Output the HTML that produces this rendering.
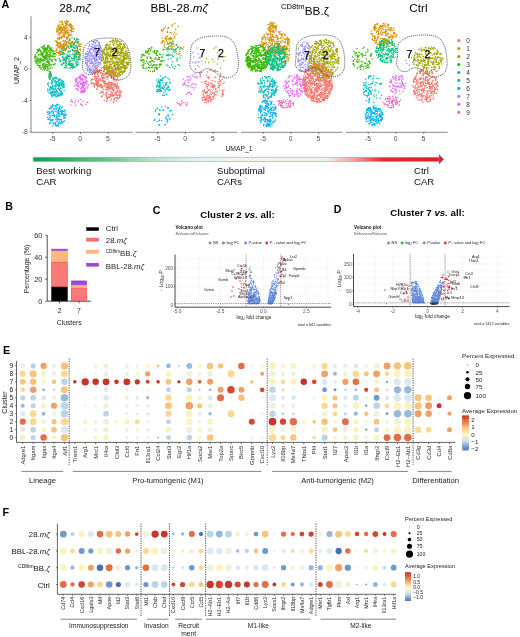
<!DOCTYPE html>
<html><head><meta charset="utf-8"><style>
html,body{margin:0;padding:0;background:#fff;}
svg{display:block;font-family:"Liberation Sans", sans-serif;filter:blur(0.25px);}
</style></head><body>
<svg width="520" height="637" viewBox="0 0 520 637" font-family='"Liberation Sans", sans-serif'>
<rect width="520" height="637" fill="#fff"/>
<text x="1.60" y="7.70" font-size="10.8" text-anchor="start" font-weight="bold" font-style="normal" fill="#000" >A</text>
<text x="59.3" y="12.2" font-size="11.7" fill="#000">28.<tspan font-style="italic">mζ</tspan></text>
<text x="150.5" y="12.2" font-size="11.7" fill="#000">BBL-28.<tspan font-style="italic">mζ</tspan></text>
<text x="281" y="14.8" font-size="11.8" fill="#000"><tspan font-size="7.6" dy="-5.5">CD8tm</tspan><tspan dy="5.5">BB.ζ</tspan></text>
<text x="409.3" y="12.2" font-size="11.7" fill="#000">Ctrl</text>
<line x1="31.00" y1="16.30" x2="31.00" y2="132.30" stroke="#333333" stroke-width="0.6"/>
<line x1="29.50" y1="37.50" x2="31.00" y2="37.50" stroke="#333333" stroke-width="0.6"/>
<text x="27.80" y="39.90" font-size="6.8" text-anchor="end" font-weight="normal" font-style="normal" fill="#4d4d4d" >4</text>
<line x1="29.50" y1="69.00" x2="31.00" y2="69.00" stroke="#333333" stroke-width="0.6"/>
<text x="27.80" y="71.40" font-size="6.8" text-anchor="end" font-weight="normal" font-style="normal" fill="#4d4d4d" >0</text>
<line x1="29.50" y1="100.50" x2="31.00" y2="100.50" stroke="#333333" stroke-width="0.6"/>
<text x="27.80" y="102.90" font-size="6.8" text-anchor="end" font-weight="normal" font-style="normal" fill="#4d4d4d" >-4</text>
<line x1="29.50" y1="132.00" x2="31.00" y2="132.00" stroke="#333333" stroke-width="0.6"/>
<text x="27.80" y="134.40" font-size="6.8" text-anchor="end" font-weight="normal" font-style="normal" fill="#4d4d4d" >-8</text>
<text x="0" y="0" font-size="6.8" fill="#222" text-anchor="middle" transform="translate(19.2,70.5) rotate(-90)">UMAP_2</text>
<line x1="31.00" y1="132.30" x2="132.50" y2="132.30" stroke="#333333" stroke-width="0.6"/>
<line x1="52.75" y1="132.30" x2="52.75" y2="134.00" stroke="#333333" stroke-width="0.6"/>
<text x="52.45" y="141.40" font-size="6.8" text-anchor="middle" font-weight="normal" font-style="normal" fill="#4d4d4d" >-5</text>
<line x1="80.50" y1="132.30" x2="80.50" y2="134.00" stroke="#333333" stroke-width="0.6"/>
<text x="80.20" y="141.40" font-size="6.8" text-anchor="middle" font-weight="normal" font-style="normal" fill="#4d4d4d" >0</text>
<line x1="108.25" y1="132.30" x2="108.25" y2="134.00" stroke="#333333" stroke-width="0.6"/>
<text x="107.95" y="141.40" font-size="6.8" text-anchor="middle" font-weight="normal" font-style="normal" fill="#4d4d4d" >5</text>
<line x1="135.50" y1="132.30" x2="237.50" y2="132.30" stroke="#333333" stroke-width="0.6"/>
<line x1="157.75" y1="132.30" x2="157.75" y2="134.00" stroke="#333333" stroke-width="0.6"/>
<text x="157.45" y="141.40" font-size="6.8" text-anchor="middle" font-weight="normal" font-style="normal" fill="#4d4d4d" >-5</text>
<line x1="185.50" y1="132.30" x2="185.50" y2="134.00" stroke="#333333" stroke-width="0.6"/>
<text x="185.20" y="141.40" font-size="6.8" text-anchor="middle" font-weight="normal" font-style="normal" fill="#4d4d4d" >0</text>
<line x1="213.25" y1="132.30" x2="213.25" y2="134.00" stroke="#333333" stroke-width="0.6"/>
<text x="212.95" y="141.40" font-size="6.8" text-anchor="middle" font-weight="normal" font-style="normal" fill="#4d4d4d" >5</text>
<line x1="241.00" y1="132.30" x2="342.50" y2="132.30" stroke="#333333" stroke-width="0.6"/>
<line x1="263.25" y1="132.30" x2="263.25" y2="134.00" stroke="#333333" stroke-width="0.6"/>
<text x="262.95" y="141.40" font-size="6.8" text-anchor="middle" font-weight="normal" font-style="normal" fill="#4d4d4d" >-5</text>
<line x1="291.00" y1="132.30" x2="291.00" y2="134.00" stroke="#333333" stroke-width="0.6"/>
<text x="290.70" y="141.40" font-size="6.8" text-anchor="middle" font-weight="normal" font-style="normal" fill="#4d4d4d" >0</text>
<line x1="318.75" y1="132.30" x2="318.75" y2="134.00" stroke="#333333" stroke-width="0.6"/>
<text x="318.45" y="141.40" font-size="6.8" text-anchor="middle" font-weight="normal" font-style="normal" fill="#4d4d4d" >5</text>
<line x1="346.00" y1="132.30" x2="447.70" y2="132.30" stroke="#333333" stroke-width="0.6"/>
<line x1="368.25" y1="132.30" x2="368.25" y2="134.00" stroke="#333333" stroke-width="0.6"/>
<text x="367.95" y="141.40" font-size="6.8" text-anchor="middle" font-weight="normal" font-style="normal" fill="#4d4d4d" >-5</text>
<line x1="396.00" y1="132.30" x2="396.00" y2="134.00" stroke="#333333" stroke-width="0.6"/>
<text x="395.70" y="141.40" font-size="6.8" text-anchor="middle" font-weight="normal" font-style="normal" fill="#4d4d4d" >0</text>
<line x1="423.75" y1="132.30" x2="423.75" y2="134.00" stroke="#333333" stroke-width="0.6"/>
<text x="423.45" y="141.40" font-size="6.8" text-anchor="middle" font-weight="normal" font-style="normal" fill="#4d4d4d" >5</text>
<text x="239.00" y="150.70" font-size="6.8" text-anchor="middle" font-weight="normal" font-style="normal" fill="#222" >UMAP_1</text>
<circle cx="458.8" cy="40.60" r="1.6" fill="#F8766D"/>
<text x="466.30" y="42.80" font-size="6.5" text-anchor="start" font-weight="normal" font-style="normal" fill="#333" >0</text>
<circle cx="458.8" cy="48.57" r="1.6" fill="#D89000"/>
<text x="466.30" y="50.77" font-size="6.5" text-anchor="start" font-weight="normal" font-style="normal" fill="#333" >1</text>
<circle cx="458.8" cy="56.54" r="1.6" fill="#A3A500"/>
<text x="466.30" y="58.74" font-size="6.5" text-anchor="start" font-weight="normal" font-style="normal" fill="#333" >2</text>
<circle cx="458.8" cy="64.51" r="1.6" fill="#39B600"/>
<text x="466.30" y="66.71" font-size="6.5" text-anchor="start" font-weight="normal" font-style="normal" fill="#333" >3</text>
<circle cx="458.8" cy="72.48" r="1.6" fill="#00BF7D"/>
<text x="466.30" y="74.68" font-size="6.5" text-anchor="start" font-weight="normal" font-style="normal" fill="#333" >4</text>
<circle cx="458.8" cy="80.45" r="1.6" fill="#00BFC4"/>
<text x="466.30" y="82.65" font-size="6.5" text-anchor="start" font-weight="normal" font-style="normal" fill="#333" >5</text>
<circle cx="458.8" cy="88.42" r="1.6" fill="#00B0F6"/>
<text x="466.30" y="90.62" font-size="6.5" text-anchor="start" font-weight="normal" font-style="normal" fill="#333" >6</text>
<circle cx="458.8" cy="96.39" r="1.6" fill="#9590FF"/>
<text x="466.30" y="98.59" font-size="6.5" text-anchor="start" font-weight="normal" font-style="normal" fill="#333" >7</text>
<circle cx="458.8" cy="104.36" r="1.6" fill="#E76BF3"/>
<text x="466.30" y="106.56" font-size="6.5" text-anchor="start" font-weight="normal" font-style="normal" fill="#333" >8</text>
<circle cx="458.8" cy="112.33" r="1.6" fill="#FF62BC"/>
<text x="466.30" y="114.53" font-size="6.5" text-anchor="start" font-weight="normal" font-style="normal" fill="#333" >9</text>
<path d="M93.1 72.0h0M111.4 72.6h0M112.8 70.4h0M115.6 93.1h0M102.2 87.6h0M95.4 82.9h0M117.4 98.5h0M105.7 85.9h0M111.6 77.2h0M98.4 82.7h0M94.0 79.6h0M116.8 84.9h0M102.4 86.0h0M97.1 83.7h0M119.9 95.7h0M107.0 76.4h0M117.4 90.5h0M112.4 71.4h0M97.8 84.6h0M109.8 82.5h0M109.4 97.3h0M102.8 78.4h0M102.7 75.6h0M98.1 82.2h0M103.2 92.3h0M95.0 73.1h0M106.4 95.6h0M107.8 73.1h0M111.3 78.3h0M98.8 71.4h0M96.1 76.8h0M97.2 70.5h0M116.2 85.4h0M109.0 94.8h0M114.4 99.2h0M117.4 95.7h0M97.4 72.2h0M120.2 93.3h0M107.8 76.6h0M95.2 76.7h0M99.2 85.9h0M108.3 76.4h0M101.8 67.2h0M118.3 88.6h0M111.8 72.0h0M94.3 85.0h0M112.5 92.7h0M102.5 80.3h0M112.9 90.3h0M115.3 86.4h0M117.5 82.9h0M103.9 94.7h0M98.0 70.6h0M96.8 83.2h0M94.1 70.9h0M113.4 94.9h0M99.1 79.7h0M101.1 87.6h0M119.4 97.4h0M111.7 82.2h0M118.3 98.7h0M116.3 92.7h0M110.9 95.5h0M115.9 76.1h0M97.0 81.3h0M113.1 96.2h0M108.2 86.3h0M94.6 86.9h0M94.2 73.2h0M92.1 83.1h0M106.9 101.7h0M92.0 79.3h0M116.6 87.9h0M112.4 73.6h0M110.8 74.8h0M111.4 92.7h0M105.5 74.1h0M110.8 76.1h0M97.0 83.3h0M111.7 69.7h0M98.1 76.4h0M110.5 87.2h0M97.6 71.5h0M112.1 92.5h0M110.6 101.1h0M102.4 95.9h0M106.0 74.0h0M96.2 84.1h0M96.4 79.1h0M100.1 72.5h0M117.6 78.1h0M103.9 78.5h0M105.2 77.8h0M106.4 74.6h0M108.9 88.1h0M110.7 70.5h0M111.2 75.8h0M113.3 74.0h0M95.0 71.7h0M91.2 80.8h0M104.3 83.4h0M98.8 77.9h0M102.6 81.5h0M100.5 80.3h0M107.9 84.6h0M98.2 81.3h0M96.7 78.2h0M113.8 77.7h0M115.6 83.7h0M102.2 86.8h0M106.9 79.3h0" stroke="#F8766D" stroke-width="1.5" stroke-linecap="round" fill="none"/>
<path d="M61.3 38.6h0M58.7 53.8h0M72.0 43.7h0M57.0 51.1h0M69.7 39.7h0M59.5 37.9h0M67.1 37.5h0M59.8 22.2h0M62.5 21.8h0M66.4 42.3h0M62.9 36.6h0M73.8 45.0h0M68.9 32.6h0M67.4 38.7h0M58.0 34.1h0M65.3 23.5h0M69.1 25.0h0M65.5 31.9h0M61.8 38.0h0M76.7 51.1h0M70.3 40.7h0M61.9 32.2h0M60.0 54.9h0M66.6 24.3h0M72.7 41.7h0M70.3 23.2h0M61.2 37.6h0M80.3 49.1h0M59.1 45.2h0M68.8 47.4h0M80.1 55.2h0M61.7 36.3h0M62.9 47.5h0M63.1 31.0h0M67.4 34.1h0M59.2 35.2h0M62.2 21.5h0M72.0 31.3h0M56.3 41.1h0M64.6 44.5h0M60.9 51.4h0M66.5 46.0h0M70.4 34.9h0M64.1 27.5h0M65.4 32.5h0M70.8 25.1h0M57.3 44.1h0M63.2 36.1h0M69.2 40.6h0M56.2 45.6h0M68.9 25.2h0M67.9 37.4h0M64.5 48.1h0M62.4 32.5h0M60.8 38.0h0M62.6 29.8h0M61.5 29.2h0M69.3 35.6h0M60.9 31.3h0M65.6 41.1h0M65.7 41.4h0M57.6 47.4h0M59.7 42.9h0M55.0 41.0h0M62.1 52.6h0M61.8 51.2h0M62.8 28.9h0M67.4 38.8h0M60.0 26.9h0M63.9 49.0h0M70.0 30.6h0M56.8 48.9h0M71.7 26.8h0M61.8 21.3h0M64.5 37.2h0M65.6 41.6h0M66.4 22.8h0M63.9 45.7h0M57.8 26.5h0M71.8 42.4h0M77.3 53.0h0M58.0 43.4h0M63.9 41.1h0" stroke="#D89000" stroke-width="1.5" stroke-linecap="round" fill="none"/>
<path d="M119.2 61.9h0M113.6 56.8h0M124.9 53.5h0M117.3 68.5h0M115.4 72.3h0M110.6 48.2h0M106.0 45.3h0M123.2 54.7h0M105.7 54.3h0M113.3 53.8h0M117.5 41.0h0M106.2 54.1h0M110.2 67.9h0M121.2 51.6h0M119.7 69.0h0M102.5 60.7h0M125.7 52.5h0M119.7 68.5h0M128.1 63.3h0M116.5 42.5h0M121.1 68.0h0M104.7 65.4h0M125.9 67.4h0M114.0 40.8h0M103.5 57.6h0M105.5 58.1h0M112.6 49.1h0M110.6 55.7h0M108.9 70.7h0M103.9 49.4h0M115.5 47.6h0M118.9 70.2h0M122.6 66.8h0M102.8 51.3h0M109.8 55.8h0M124.6 70.5h0M103.4 51.7h0M106.8 51.1h0M121.7 51.1h0M123.5 65.2h0M124.8 65.5h0M112.2 73.9h0M117.1 47.3h0M110.5 52.7h0M117.9 65.1h0M102.2 55.2h0M110.9 68.3h0M113.2 51.5h0M105.0 54.8h0M118.7 66.8h0M109.6 66.5h0M122.2 64.5h0M125.0 57.4h0M120.8 66.9h0M106.0 63.1h0M103.4 58.9h0M108.1 47.2h0M110.2 72.6h0M111.6 49.9h0M123.8 55.5h0M109.8 46.7h0M112.1 73.1h0M106.7 65.0h0M120.6 53.0h0M116.7 69.0h0M107.9 62.7h0M116.2 47.4h0M113.6 50.5h0M118.0 55.7h0M111.9 67.3h0M114.4 62.5h0M117.3 49.6h0M108.6 55.7h0M120.1 71.8h0M121.8 63.9h0M117.3 75.8h0M126.8 68.6h0M117.6 63.7h0M122.4 48.9h0M126.9 53.3h0M120.8 67.7h0M122.0 71.5h0M124.2 68.8h0M119.6 55.1h0M119.6 65.5h0M111.1 66.9h0M105.1 62.8h0M127.3 53.4h0M124.9 70.9h0M120.0 65.7h0M112.0 42.0h0M104.8 54.5h0M121.9 56.7h0M121.6 49.0h0M125.0 59.6h0M116.9 44.4h0M117.1 53.7h0M120.8 62.8h0M113.7 74.4h0M120.1 64.1h0M118.9 45.2h0M123.9 59.3h0M117.6 41.4h0M114.9 76.1h0M106.6 56.2h0M115.8 69.8h0M123.5 71.2h0M117.3 61.7h0M124.9 71.7h0M116.8 47.3h0M111.1 50.7h0M124.7 45.3h0M107.2 44.1h0M123.5 59.9h0M118.1 45.8h0M117.1 60.9h0M119.3 44.6h0M115.9 69.3h0M108.7 49.9h0M124.3 58.3h0M124.2 46.4h0M115.4 67.5h0M118.5 53.7h0M106.2 68.4h0M116.0 70.1h0M113.4 76.3h0M108.6 54.0h0M118.2 41.5h0M115.2 74.1h0M104.9 62.9h0M129.1 62.5h0M112.9 41.1h0M108.7 70.9h0M120.8 44.7h0M108.2 74.0h0" stroke="#A3A500" stroke-width="1.5" stroke-linecap="round" fill="none"/>
<path d="M50.0 54.5h0M46.0 54.9h0M47.6 46.1h0M50.2 79.0h0M49.6 61.8h0M53.6 53.8h0M47.9 53.7h0M41.9 53.8h0M53.8 53.5h0M43.8 52.6h0M38.0 49.9h0M55.4 53.7h0M43.2 56.7h0M44.1 45.3h0M44.6 68.9h0M43.4 57.3h0M43.7 50.7h0M39.4 49.9h0M54.1 64.5h0M46.6 57.6h0M51.6 60.7h0M52.0 48.1h0M45.4 59.9h0M47.9 67.6h0M45.5 68.5h0M48.3 65.8h0M42.9 60.8h0M44.7 60.8h0M39.7 66.0h0M35.0 55.9h0M40.2 61.4h0M42.5 64.8h0M43.1 54.7h0M55.0 56.4h0M44.8 58.0h0M48.7 63.2h0M35.6 56.4h0M47.8 47.8h0M50.3 75.2h0M45.1 48.5h0M42.2 55.0h0M49.6 63.9h0M50.8 50.8h0M50.7 49.0h0M43.8 48.6h0M37.0 60.4h0M46.7 55.3h0M43.4 66.6h0M49.2 64.3h0M43.3 54.9h0M44.1 56.6h0M47.8 64.9h0M41.0 54.9h0M47.8 46.5h0" stroke="#39B600" stroke-width="1.5" stroke-linecap="round" fill="none"/>
<path d="M65.5 65.3h0M70.4 43.9h0M77.1 50.8h0M78.0 57.6h0M72.2 66.8h0M76.9 62.2h0M68.0 64.5h0M79.7 59.1h0M74.6 58.2h0M66.8 67.6h0M63.6 58.6h0M78.9 56.8h0M61.4 64.5h0M74.4 43.0h0M63.3 50.7h0M74.3 56.4h0M61.4 54.1h0M59.3 58.7h0M66.3 61.0h0M64.9 59.9h0M63.0 63.8h0M76.8 46.3h0M70.4 65.5h0M68.5 63.7h0M73.9 47.4h0M60.7 60.3h0M63.9 48.1h0M72.4 68.4h0M78.1 43.5h0M76.5 65.8h0M74.9 48.5h0M69.0 68.5h0M69.5 64.5h0M76.9 54.7h0M71.4 57.9h0M62.3 57.3h0M65.9 58.8h0M73.4 63.9h0M74.7 51.9h0M73.8 44.7h0M68.6 63.9h0M62.9 54.7h0M74.5 59.4h0M70.2 56.5h0M80.1 55.2h0M79.2 54.8h0M66.1 57.0h0M74.0 57.1h0M73.6 67.0h0M73.9 55.0h0M77.1 61.7h0M72.9 60.8h0M71.7 58.8h0M66.5 45.7h0M61.9 49.2h0M71.5 45.7h0M67.6 56.3h0M69.2 64.8h0M77.2 65.2h0M73.4 58.4h0" stroke="#00BF7D" stroke-width="1.5" stroke-linecap="round" fill="none"/>
<path d="M59.6 84.7h0M51.9 96.2h0M61.3 95.5h0M56.1 93.3h0M59.6 90.3h0M62.2 92.9h0M59.5 83.2h0M51.6 74.9h0M60.3 91.3h0M61.9 86.1h0M60.8 84.5h0M52.9 87.1h0M52.5 84.9h0M52.0 82.0h0M57.3 95.6h0M47.7 83.4h0M61.4 80.7h0M48.5 85.7h0M52.9 81.0h0M56.9 90.1h0M52.4 95.9h0M61.6 92.3h0M47.9 84.2h0M50.5 72.4h0M51.0 94.5h0M58.2 88.4h0M50.7 93.0h0M61.9 84.3h0M56.2 78.5h0M50.9 87.1h0M58.7 88.7h0M55.9 83.0h0M49.6 88.0h0M55.8 92.3h0M49.9 76.6h0M58.4 79.6h0M51.7 91.9h0M63.0 81.8h0M52.9 91.3h0M48.6 76.1h0M60.2 82.8h0M56.5 91.3h0M61.9 84.9h0M63.2 87.2h0M54.7 91.7h0M53.9 89.2h0M54.2 93.8h0" stroke="#00BFC4" stroke-width="1.5" stroke-linecap="round" fill="none"/>
<path d="M48.1 111.4h0M47.4 112.6h0M58.9 104.9h0M59.0 113.9h0M60.7 109.6h0M55.1 111.2h0M55.8 119.5h0M58.8 119.5h0M50.6 107.0h0M58.1 119.4h0M64.1 113.7h0M57.0 105.2h0M52.9 104.9h0M61.6 114.3h0M58.1 126.3h0M58.9 109.5h0M64.5 115.6h0M50.6 120.3h0M56.8 111.1h0M49.2 113.0h0M58.5 111.3h0M49.5 123.0h0M51.7 120.3h0M55.0 111.3h0M59.4 108.5h0M56.0 108.7h0M52.4 115.5h0M62.4 106.9h0M55.5 123.4h0M58.1 108.1h0M61.3 120.9h0M54.4 108.9h0M59.3 121.2h0M56.7 114.8h0M63.8 114.2h0M62.7 122.6h0M59.8 116.1h0M61.4 111.9h0" stroke="#00B0F6" stroke-width="1.5" stroke-linecap="round" fill="none"/>
<path d="M85.5 57.2h0M95.2 59.8h0M98.7 57.1h0M89.2 61.1h0M95.8 61.7h0M92.4 66.4h0M89.1 66.1h0M99.2 56.5h0M89.6 55.8h0M93.6 65.3h0M87.4 54.3h0M100.2 63.7h0M95.9 70.0h0M89.6 50.7h0M99.1 65.2h0M97.2 40.8h0M100.6 47.7h0M85.1 57.2h0M87.1 56.3h0M92.6 41.8h0M97.1 59.4h0M95.4 54.2h0M92.2 52.7h0M90.6 68.1h0M89.8 71.6h0M93.3 70.6h0M95.8 67.4h0M89.4 50.1h0M87.6 69.1h0M91.3 63.6h0M96.2 60.2h0M101.5 59.8h0M98.7 54.5h0M101.2 57.1h0M91.5 53.4h0M100.7 47.9h0M91.6 70.3h0M90.8 69.5h0M96.5 55.9h0M94.2 47.6h0M97.5 41.3h0M89.4 52.4h0M89.1 52.7h0M92.2 71.8h0M91.1 60.5h0M87.9 53.9h0M97.5 69.3h0M86.4 64.0h0M98.7 50.5h0M87.6 56.1h0M92.1 62.0h0M100.5 50.7h0M100.4 56.7h0M86.2 54.2h0M90.6 48.6h0M99.7 55.1h0M90.0 56.9h0M95.1 55.8h0M94.8 54.1h0M95.2 63.8h0M90.1 50.6h0M97.6 54.3h0M89.8 59.4h0M94.0 41.4h0M90.4 63.8h0M85.2 58.2h0M87.1 62.5h0M86.9 56.5h0M93.5 68.3h0M101.4 54.6h0M86.7 58.6h0M99.4 59.5h0M87.4 51.4h0M93.4 50.0h0M90.9 70.3h0M102.0 51.5h0" stroke="#9590FF" stroke-width="1.5" stroke-linecap="round" fill="none"/>
<path d="M83.0 84.6h0M84.4 86.0h0M79.3 86.9h0M82.3 92.5h0M84.5 88.4h0M82.5 86.8h0M76.5 85.6h0M80.8 76.7h0M82.3 83.2h0M83.0 82.4h0M77.8 89.8h0M77.2 90.0h0M80.9 83.6h0M80.8 83.2h0M80.8 91.5h0M81.3 87.9h0M78.2 83.5h0M84.0 82.7h0M86.3 81.3h0M82.5 85.3h0M84.0 92.2h0M85.7 91.0h0M81.7 84.1h0M85.9 82.0h0M81.6 79.3h0M83.3 90.4h0M75.3 80.1h0M82.8 90.8h0M83.5 91.8h0" stroke="#E76BF3" stroke-width="1.5" stroke-linecap="round" fill="none"/>
<path d="M71.7 99.7h0M72.6 102.0h0M82.6 105.6h0M74.7 102.7h0" stroke="#FF62BC" stroke-width="1.5" stroke-linecap="round" fill="none"/>
<path d="M101.2 85.4h0M104.1 81.9h0M113.3 79.6h0M112.3 94.6h0M95.4 74.1h0M107.7 96.9h0M100.0 71.4h0M97.1 83.6h0M101.6 77.2h0M112.7 94.3h0M109.0 97.0h0M108.9 84.3h0M113.9 79.2h0M119.6 91.8h0M116.2 94.5h0M93.8 83.4h0M105.5 84.4h0M113.6 78.2h0M101.8 92.2h0M117.8 87.0h0M109.2 68.0h0M96.4 82.6h0M107.3 83.5h0M117.4 75.6h0M111.4 98.9h0M106.5 68.8h0M120.6 96.1h0M119.9 90.3h0M108.6 82.7h0M115.2 74.8h0M116.3 100.6h0M103.4 80.7h0M113.3 85.4h0M113.5 90.8h0M108.2 87.6h0M104.5 69.9h0M96.7 79.9h0M105.6 83.8h0M94.3 73.9h0M108.6 71.1h0M96.1 70.3h0M107.2 72.7h0M118.6 87.7h0M115.5 84.1h0M100.3 93.2h0M101.6 76.0h0M104.6 68.0h0M97.6 83.1h0M111.7 83.1h0M114.0 101.5h0M111.2 74.8h0M113.6 69.8h0M113.0 89.6h0M96.3 68.4h0M112.9 72.4h0M105.3 69.0h0M116.0 87.0h0M96.4 81.2h0M102.2 73.2h0M103.2 93.0h0M94.7 70.0h0M110.7 71.8h0M110.7 94.4h0M105.4 89.5h0M109.2 97.2h0M116.4 80.3h0M111.9 69.7h0M103.3 73.3h0M106.2 83.4h0M107.7 92.9h0M112.5 95.5h0M118.9 87.2h0M111.8 84.8h0M114.7 94.6h0M91.1 82.9h0M109.2 73.9h0M109.3 87.1h0M96.4 85.5h0M103.7 67.0h0M111.0 82.4h0M110.5 94.1h0M121.1 91.9h0M117.2 95.6h0M100.4 84.3h0M109.9 72.3h0M113.8 85.1h0M102.6 88.0h0M110.2 86.2h0M96.5 72.7h0M104.3 68.2h0M115.1 84.2h0M97.2 67.4h0M117.6 75.0h0M101.1 86.2h0M116.9 85.4h0M111.4 85.0h0M104.2 85.2h0M120.0 94.5h0M107.1 83.7h0M105.2 69.5h0M108.0 83.2h0M106.7 100.6h0M114.0 89.8h0M113.5 71.6h0M112.4 83.3h0M114.6 72.3h0M111.9 74.4h0M104.3 75.1h0" stroke="#F8766D" stroke-width="1.5" stroke-linecap="round" fill="none"/>
<path d="M70.1 26.3h0M81.1 44.1h0M70.4 24.0h0M66.7 21.1h0M66.9 31.5h0M70.8 26.9h0M65.4 22.6h0M79.9 46.3h0M70.3 29.9h0M60.2 24.9h0M72.8 26.3h0M63.5 53.5h0M66.6 26.1h0M64.5 34.0h0M70.7 25.3h0M63.7 45.3h0M80.2 54.3h0M57.9 25.7h0M68.3 42.0h0M64.5 21.3h0M64.6 46.8h0M63.2 36.5h0M65.9 33.8h0M59.6 32.9h0M78.7 43.3h0M78.6 54.6h0M66.0 28.0h0M65.2 28.5h0M81.0 46.2h0M59.9 43.5h0M58.4 52.6h0M60.1 22.0h0M62.3 24.4h0M57.5 42.9h0M65.5 41.3h0M56.9 31.8h0M63.8 33.1h0M76.6 57.2h0M60.4 46.0h0M57.1 52.3h0M65.1 29.1h0M62.2 46.7h0M70.1 35.8h0M58.8 25.0h0M66.4 37.7h0M59.9 28.4h0M61.2 26.8h0M64.3 41.6h0M56.3 52.3h0M68.6 42.3h0M67.4 45.6h0M71.1 43.4h0M59.8 51.2h0M67.9 21.6h0M60.7 28.6h0M67.2 22.5h0M58.3 32.1h0M66.4 42.8h0M63.8 27.0h0M61.3 46.9h0M71.1 31.4h0M61.8 45.0h0M59.8 30.3h0M62.3 28.0h0M71.5 30.1h0M64.6 50.6h0M78.1 45.3h0M59.8 49.1h0M58.5 46.7h0M61.0 27.1h0M76.0 53.7h0M65.6 32.9h0M66.7 43.7h0M66.2 22.9h0M60.6 47.0h0M63.4 25.0h0M61.7 27.2h0M57.4 41.9h0M66.9 47.5h0M69.6 24.6h0" stroke="#D89000" stroke-width="1.5" stroke-linecap="round" fill="none"/>
<path d="M121.0 54.0h0M112.9 58.2h0M109.0 54.4h0M113.2 44.7h0M115.0 52.3h0M102.6 57.4h0M117.8 74.1h0M129.1 60.1h0M105.0 65.7h0M118.9 70.1h0M119.8 71.4h0M120.8 69.5h0M123.0 60.1h0M122.0 62.6h0M112.4 60.3h0M113.8 45.6h0M123.2 56.6h0M114.8 63.1h0M121.3 44.2h0M114.9 41.2h0M114.8 43.0h0M107.9 45.6h0M118.2 70.1h0M107.8 49.5h0M117.8 69.5h0M113.5 66.8h0M118.7 48.4h0M124.9 54.3h0M105.8 54.9h0M109.7 61.2h0M116.3 68.7h0M116.3 57.3h0M104.2 49.1h0M114.9 66.2h0M114.5 55.5h0M127.0 64.4h0M111.6 71.8h0M110.8 71.3h0M126.8 62.2h0M127.7 56.1h0M104.4 66.1h0M111.4 49.3h0M128.0 52.4h0M109.5 48.5h0M107.7 73.3h0M115.1 74.6h0M110.3 44.6h0M113.6 48.6h0M117.6 46.7h0M107.9 72.2h0M123.4 48.8h0M118.0 72.9h0M122.7 71.9h0M118.7 67.4h0M112.7 63.3h0M127.2 66.2h0M104.6 63.6h0M102.1 55.5h0M120.8 44.6h0M109.9 62.5h0M120.1 72.2h0M114.9 68.4h0M120.3 75.6h0M105.4 69.3h0M120.6 66.5h0M114.1 54.5h0M114.9 66.3h0M125.8 54.9h0M107.8 61.2h0M126.1 55.5h0M119.6 59.9h0M119.4 74.7h0M115.5 57.9h0M105.4 58.8h0M109.6 56.6h0M120.3 52.7h0M114.4 54.2h0M107.8 70.1h0M121.3 63.9h0M118.0 51.4h0M124.9 65.5h0M123.6 63.3h0M118.0 66.0h0M113.9 73.9h0M119.0 64.4h0M119.2 58.8h0M117.5 58.3h0M127.3 63.0h0M114.5 57.8h0M112.9 53.8h0M111.8 75.2h0M116.1 40.5h0M114.1 47.4h0M108.4 69.3h0M124.1 60.9h0M121.2 51.1h0M109.2 67.9h0M106.4 57.6h0M103.1 56.2h0M114.3 62.5h0M123.3 72.3h0M118.2 59.5h0M110.8 58.0h0M110.6 48.2h0M117.2 63.3h0M122.0 52.3h0M123.0 64.6h0M122.4 62.9h0M114.1 76.1h0M120.0 46.4h0M106.2 61.5h0M106.7 65.0h0M122.3 74.0h0M109.8 54.8h0M105.4 47.5h0M115.3 69.1h0M107.4 54.9h0M101.9 60.7h0M119.7 55.6h0M105.5 56.1h0M102.9 52.2h0M127.9 56.4h0M113.8 65.7h0M110.9 61.5h0M124.7 56.1h0M112.1 63.3h0M128.7 62.2h0M118.4 46.0h0M124.4 71.0h0M123.1 50.1h0M119.1 52.8h0M122.9 50.2h0M121.9 48.5h0M112.7 48.7h0M103.9 51.1h0M104.2 53.4h0M105.7 58.5h0M109.8 41.8h0" stroke="#A3A500" stroke-width="1.5" stroke-linecap="round" fill="none"/>
<path d="M45.5 68.3h0M43.5 68.0h0M40.8 51.5h0M43.3 46.8h0M49.5 50.5h0M36.7 52.7h0M40.6 50.8h0M45.5 50.5h0M34.7 60.0h0M49.6 58.8h0M50.6 52.7h0M48.2 68.9h0M36.8 60.8h0M36.9 59.6h0M45.2 51.9h0M47.1 59.8h0M45.0 47.4h0M44.7 47.2h0M46.0 57.1h0M47.7 47.8h0M41.3 52.1h0M41.9 52.8h0M44.3 49.5h0M54.4 64.3h0M45.5 48.2h0M48.2 46.1h0M49.4 74.7h0M41.3 60.0h0M47.6 47.4h0M53.3 54.2h0M55.7 59.9h0M36.3 58.0h0M51.2 75.3h0M39.9 61.1h0M40.8 58.2h0M53.1 56.6h0M43.6 64.9h0M45.1 49.7h0M38.2 63.5h0M50.7 48.2h0M49.1 71.2h0M50.2 74.6h0M46.5 49.5h0M46.3 70.2h0M40.8 62.0h0M47.3 58.6h0M42.9 64.8h0M47.2 67.3h0M37.3 50.1h0M48.5 45.6h0M48.3 60.4h0M49.9 73.9h0M44.5 59.0h0M45.7 64.9h0M36.3 58.1h0M50.6 59.5h0M50.3 68.3h0M46.0 64.6h0M39.4 67.4h0M43.3 61.3h0M49.5 48.8h0M37.1 61.0h0M51.0 77.2h0M46.5 62.1h0M43.4 46.8h0M43.5 52.5h0M47.7 49.3h0M37.0 52.5h0M49.6 79.2h0M52.2 59.7h0M44.4 58.7h0M38.9 50.2h0M35.5 62.1h0M35.1 57.9h0M50.5 74.4h0M50.1 59.3h0M50.7 73.6h0" stroke="#39B600" stroke-width="1.5" stroke-linecap="round" fill="none"/>
<path d="M61.5 49.1h0M66.7 47.9h0M78.2 51.4h0M77.3 49.4h0M63.6 62.8h0M66.6 66.1h0M73.2 47.6h0M74.5 42.9h0M75.6 41.9h0M78.1 62.1h0M66.5 65.9h0M66.2 59.8h0M68.0 52.4h0M68.2 56.5h0M72.0 38.1h0M63.8 60.6h0M74.8 66.2h0M75.3 55.1h0M76.9 64.4h0M72.7 53.9h0M78.8 59.5h0M71.1 46.9h0M66.2 63.4h0M76.9 59.9h0M65.0 53.5h0M74.9 66.9h0M69.9 54.7h0M76.8 39.4h0M70.9 46.2h0M74.3 38.4h0M76.0 63.7h0M64.4 67.2h0M74.1 54.2h0M73.5 50.7h0M64.2 57.9h0M73.1 66.1h0M59.8 60.5h0M66.0 62.1h0M65.6 65.1h0M79.8 53.6h0M73.3 47.6h0M75.2 55.1h0M69.8 51.4h0M66.0 61.1h0M72.6 49.9h0M72.5 66.8h0M62.7 60.0h0M77.0 50.9h0M62.8 56.8h0M75.4 53.5h0" stroke="#00BF7D" stroke-width="1.5" stroke-linecap="round" fill="none"/>
<path d="M59.7 79.3h0M58.5 81.3h0M56.4 83.0h0M52.9 89.5h0M51.1 75.2h0M54.9 77.9h0M56.1 90.9h0M61.7 82.6h0M63.7 84.7h0M59.3 80.4h0M52.5 92.7h0M54.3 95.1h0M61.3 80.7h0M58.0 94.0h0M57.0 78.7h0M64.2 90.5h0M48.5 83.0h0M57.2 96.4h0M50.6 77.1h0M54.9 92.0h0M59.5 78.7h0M58.7 86.6h0M58.4 88.6h0M61.2 94.1h0M63.5 81.8h0M62.6 94.1h0M54.6 86.3h0M56.1 86.3h0M55.7 82.1h0M52.2 82.3h0M55.8 96.6h0M54.8 80.7h0M63.4 85.1h0M58.0 93.9h0M58.5 95.7h0M64.4 86.8h0M54.4 85.8h0M58.0 92.9h0M57.1 84.2h0M52.6 83.1h0M52.8 88.1h0" stroke="#00BFC4" stroke-width="1.5" stroke-linecap="round" fill="none"/>
<path d="M61.5 111.2h0M63.7 116.0h0M61.0 111.3h0M49.6 108.4h0M61.9 113.3h0M61.5 123.4h0M52.9 105.2h0M56.5 125.7h0M57.0 119.9h0M49.5 112.0h0M56.8 109.0h0M49.1 113.6h0M55.5 106.9h0M53.8 123.3h0M54.8 115.8h0M53.5 109.0h0M59.8 107.6h0M60.3 119.5h0M56.7 114.7h0M56.3 118.2h0M62.1 122.8h0M51.9 111.0h0M52.3 106.3h0M56.7 104.8h0M53.2 119.9h0M56.9 104.4h0M49.6 118.1h0M64.9 110.6h0M57.0 107.0h0M51.0 114.1h0M60.1 111.4h0M47.5 117.3h0M50.0 115.8h0M62.4 113.7h0M64.2 117.5h0M58.7 122.6h0M54.2 115.0h0M58.3 125.0h0M50.1 117.0h0" stroke="#00B0F6" stroke-width="1.5" stroke-linecap="round" fill="none"/>
<path d="M94.7 48.5h0M95.2 66.9h0M87.7 54.8h0M94.0 70.8h0M96.2 50.9h0M99.6 43.1h0M85.5 54.4h0M101.1 52.5h0M86.9 70.3h0M94.9 67.6h0M88.3 67.3h0M86.9 65.2h0M100.0 64.3h0M97.3 59.6h0M99.7 50.0h0M92.8 47.2h0M88.2 61.4h0M93.7 42.3h0M92.3 44.8h0M98.3 42.8h0M91.5 48.5h0M97.0 45.3h0M92.5 47.8h0M94.0 70.6h0M90.1 69.0h0M94.1 64.1h0M91.9 72.7h0M100.2 46.5h0M89.0 61.5h0M93.8 64.0h0M95.7 63.4h0M88.0 48.5h0M95.0 46.6h0M97.9 66.3h0M85.9 68.1h0M85.2 56.4h0M92.7 58.4h0M99.3 59.4h0M86.9 64.8h0M95.4 54.8h0M95.2 42.5h0M89.7 70.5h0M97.1 62.6h0M93.6 49.6h0M100.8 61.5h0M94.0 59.0h0M89.6 69.9h0M87.7 66.5h0M99.5 62.8h0M100.3 59.1h0M91.3 55.2h0M89.4 68.8h0M93.6 73.1h0M99.4 44.4h0M85.9 62.7h0M87.8 69.0h0M92.9 73.0h0M89.6 51.7h0M89.3 72.7h0M87.5 65.3h0M90.2 58.6h0M93.9 70.7h0M91.0 53.7h0M96.2 68.0h0M94.5 58.8h0" stroke="#9590FF" stroke-width="1.5" stroke-linecap="round" fill="none"/>
<path d="M78.2 84.9h0M83.4 92.5h0M78.4 85.7h0M85.7 82.2h0M85.2 77.6h0M80.8 79.5h0M83.9 75.3h0M80.6 79.8h0M80.4 76.6h0M83.2 75.3h0M82.5 78.8h0M87.3 81.8h0M78.3 86.5h0M80.4 78.1h0M86.6 78.4h0M84.0 85.6h0M83.1 74.4h0M87.8 86.6h0M84.7 76.4h0M76.0 82.8h0M84.8 82.4h0M76.0 82.9h0M80.5 83.8h0M80.8 92.7h0M82.5 80.1h0M77.2 80.1h0M86.2 77.3h0M85.0 79.6h0M78.3 84.2h0M83.8 83.8h0M83.4 86.3h0" stroke="#E76BF3" stroke-width="1.5" stroke-linecap="round" fill="none"/>
<path d="M75.5 100.5h0M70.8 101.5h0M80.7 104.1h0M80.8 99.6h0M87.8 102.5h0M81.5 104.4h0M85.7 104.2h0M70.8 105.1h0" stroke="#FF62BC" stroke-width="1.5" stroke-linecap="round" fill="none"/>
<path d="M116.3 97.8h0M110.7 96.0h0M111.6 76.5h0M110.9 91.3h0M114.1 83.5h0M111.5 75.8h0M109.4 88.2h0M107.6 78.1h0M111.1 85.4h0M97.4 70.7h0M117.2 91.5h0M119.3 94.9h0M102.9 77.8h0M106.4 88.9h0M121.1 91.6h0M107.5 98.4h0M113.5 102.8h0M101.3 72.5h0M109.1 97.6h0M94.8 78.9h0M116.2 79.8h0M98.8 85.7h0M116.4 86.2h0M98.6 70.8h0M98.2 73.3h0M98.7 80.2h0M96.2 78.0h0M94.0 84.9h0M114.2 83.7h0M104.0 77.2h0M116.8 100.9h0M118.5 79.9h0M100.6 79.0h0M106.6 99.0h0M104.5 81.3h0M94.7 79.1h0M97.2 70.7h0M98.2 83.5h0M95.4 72.4h0M103.9 81.5h0M96.7 88.9h0M106.9 91.2h0M112.8 69.2h0M114.9 94.9h0M97.8 81.3h0M112.9 95.8h0M97.6 86.9h0M103.3 67.4h0M114.5 79.1h0M101.5 96.4h0M107.4 69.3h0M108.8 85.4h0M116.2 88.3h0M103.7 82.1h0M104.1 86.2h0M107.0 89.2h0M93.9 85.7h0M94.5 67.3h0M97.5 71.4h0M121.4 91.8h0M114.9 81.2h0M94.5 76.3h0M95.9 84.3h0M99.6 70.5h0M108.6 85.9h0M111.4 83.8h0M111.3 86.3h0M108.0 67.8h0M112.2 84.5h0M107.7 83.9h0M115.0 98.0h0M98.5 85.5h0M99.8 85.1h0M116.8 76.3h0M114.0 99.6h0M104.1 69.6h0M112.1 88.7h0M97.0 84.8h0M118.2 95.2h0M115.0 92.3h0M119.9 96.7h0M113.5 77.2h0M104.3 100.5h0M117.5 85.4h0M114.7 71.1h0M116.6 91.9h0M108.9 84.1h0M106.4 97.0h0M91.3 83.9h0M108.8 90.3h0M97.2 85.4h0" stroke="#F8766D" stroke-width="1.5" stroke-linecap="round" fill="none"/>
<path d="M60.4 47.3h0M58.8 27.8h0M65.1 31.3h0M64.5 29.3h0M73.1 28.3h0M74.1 42.7h0M80.2 54.9h0M73.3 28.7h0M59.9 27.5h0M62.2 45.8h0M71.0 26.5h0M73.9 47.5h0M71.2 47.2h0M62.0 48.6h0M59.9 52.4h0M58.0 28.8h0M76.6 54.4h0M55.3 50.8h0M62.8 46.4h0M71.5 28.2h0M75.9 45.8h0M72.3 41.9h0M61.1 51.7h0M63.4 29.7h0M69.0 33.9h0M65.6 31.0h0M59.1 46.3h0M61.7 44.2h0M69.0 25.6h0M72.1 42.1h0M66.6 21.1h0M79.5 49.6h0M63.1 34.4h0M61.0 31.1h0M65.0 32.1h0M68.7 43.3h0M74.2 50.6h0M56.8 49.5h0M60.5 44.2h0M59.1 27.8h0M63.7 44.7h0M71.1 45.3h0M78.7 57.0h0M67.0 24.7h0M59.7 54.9h0M76.0 47.4h0M60.6 33.6h0M71.5 32.0h0M80.7 50.6h0M64.2 33.2h0M68.2 29.3h0M57.3 30.0h0M72.2 28.7h0M79.5 49.6h0M66.7 39.4h0M59.1 39.2h0M66.1 32.6h0M75.3 50.6h0M63.7 29.3h0M61.3 29.6h0M56.9 42.0h0M61.3 48.7h0M60.7 29.4h0M79.2 46.5h0M79.0 45.1h0M63.7 44.9h0M61.8 24.0h0M60.4 43.9h0M79.5 52.6h0M61.0 54.5h0M68.7 42.1h0M77.3 48.0h0M70.4 27.2h0M66.3 48.7h0M67.0 36.5h0M60.7 26.6h0M67.2 32.3h0M70.0 24.8h0M70.7 45.6h0M57.0 45.6h0M69.8 38.9h0M62.5 51.6h0M65.9 25.5h0M77.5 47.6h0M68.5 43.7h0M79.5 45.9h0M68.7 36.9h0M56.5 42.6h0M63.8 50.0h0M67.2 41.7h0M70.6 43.1h0" stroke="#D89000" stroke-width="1.5" stroke-linecap="round" fill="none"/>
<path d="M104.8 53.9h0M122.2 61.1h0M107.1 58.5h0M119.0 52.1h0M128.4 55.7h0M102.9 53.2h0M111.8 47.0h0M103.4 67.0h0M108.4 62.1h0M108.3 68.4h0M117.6 74.3h0M106.5 44.3h0M109.4 64.3h0M107.8 61.9h0M112.6 58.3h0M121.0 59.9h0M116.2 44.5h0M103.8 60.2h0M109.4 70.1h0M111.6 52.3h0M119.3 73.2h0M114.7 74.4h0M125.3 51.9h0M124.7 69.4h0M106.0 59.4h0M121.6 53.2h0M126.1 50.8h0M125.1 68.8h0M106.5 66.1h0M107.9 52.9h0M101.6 58.6h0M124.2 53.4h0M111.0 55.3h0M110.5 72.6h0M116.6 71.9h0M108.0 52.9h0M119.1 55.1h0M105.0 62.1h0M123.4 67.9h0M116.4 75.6h0M113.3 54.7h0M104.3 50.0h0M112.3 56.7h0M115.4 73.8h0M117.7 53.2h0M109.6 54.8h0M115.2 49.1h0M110.1 73.5h0M118.8 69.0h0M129.1 62.4h0M106.3 54.1h0M125.7 58.2h0M107.5 71.2h0M108.9 45.6h0M122.8 63.2h0M107.0 52.5h0M117.6 49.0h0M123.4 44.8h0M115.9 67.8h0M119.8 48.3h0M113.0 39.9h0M110.9 58.9h0M125.8 62.5h0M125.0 65.5h0M120.3 47.7h0M113.4 62.1h0M114.1 57.2h0M114.7 65.3h0M107.1 44.8h0M107.5 57.2h0M116.1 75.2h0M113.8 71.1h0M116.7 50.9h0M128.6 65.0h0M106.2 59.2h0M105.5 60.5h0M118.7 68.5h0M111.8 69.4h0M122.5 59.9h0M124.4 56.4h0M113.8 69.7h0M114.5 51.9h0M114.7 53.1h0M116.3 72.2h0M112.0 76.6h0M121.5 61.2h0M109.9 65.6h0M109.0 66.3h0M107.7 52.3h0M112.6 60.8h0M110.2 71.4h0M123.3 52.6h0M116.9 71.9h0M114.3 64.7h0M114.5 62.0h0M105.9 46.1h0M126.2 67.9h0M120.9 74.6h0M108.9 62.4h0M129.5 59.1h0M118.0 44.8h0M107.7 60.6h0M124.3 67.2h0M117.5 64.3h0M115.7 70.0h0M104.5 49.5h0M123.7 61.7h0M107.8 67.6h0M111.0 74.1h0M116.9 50.7h0M117.0 52.5h0M120.0 46.2h0M120.1 57.5h0M103.0 51.7h0M124.7 70.5h0M115.6 62.6h0M119.9 49.3h0M123.0 67.2h0M103.0 58.7h0M117.0 62.6h0M117.0 55.2h0M109.3 70.3h0M125.8 59.2h0M127.1 56.8h0M121.0 51.0h0M121.2 52.3h0M120.9 55.7h0M115.1 51.2h0M122.6 47.4h0M111.8 64.5h0M125.3 66.9h0M125.9 67.0h0M126.3 58.0h0M112.2 40.3h0M116.2 67.8h0M128.9 58.1h0M127.7 62.3h0M113.7 62.5h0M122.2 49.7h0M127.2 54.8h0M108.3 71.3h0M111.9 59.0h0M113.2 51.1h0M126.0 54.8h0M122.6 53.1h0M117.8 52.6h0M115.4 66.0h0M110.8 65.1h0M114.0 51.3h0M112.1 58.4h0M103.3 52.5h0" stroke="#A3A500" stroke-width="1.5" stroke-linecap="round" fill="none"/>
<path d="M46.4 52.9h0M45.3 66.0h0M42.3 53.6h0M49.2 56.1h0M42.6 65.1h0M35.6 54.6h0M42.4 48.3h0M46.4 51.8h0M40.5 50.9h0M49.6 52.2h0M50.0 54.3h0M43.0 63.7h0M40.0 61.4h0M46.5 62.1h0M49.0 54.6h0M52.2 55.3h0M44.3 57.5h0M40.6 68.7h0M47.7 61.2h0M49.1 58.9h0M54.4 56.6h0M42.8 69.4h0M41.2 52.8h0M44.9 65.7h0M38.0 61.8h0M49.7 66.0h0M55.1 63.8h0M47.9 62.2h0M53.7 53.5h0M37.8 58.1h0M39.6 61.9h0M50.3 49.1h0M48.1 56.1h0M47.4 55.5h0M37.5 50.0h0M36.0 63.3h0M48.9 57.0h0M40.3 54.3h0M49.3 57.6h0M42.8 53.4h0M48.7 56.2h0M43.1 56.2h0M44.8 67.6h0M50.5 76.9h0M43.8 59.2h0M49.5 47.2h0M46.8 64.8h0M53.2 50.6h0M36.2 60.4h0M51.8 57.1h0M42.6 67.2h0M38.5 54.6h0M47.5 53.8h0M44.8 56.9h0M47.1 52.2h0M38.8 55.2h0M47.3 50.1h0M45.1 67.7h0M50.6 56.6h0M39.7 50.2h0M38.9 59.3h0M52.6 51.4h0M42.4 56.1h0M39.7 49.0h0M47.1 65.9h0M48.9 62.8h0" stroke="#39B600" stroke-width="1.5" stroke-linecap="round" fill="none"/>
<path d="M68.8 46.3h0M78.8 59.1h0M67.1 57.4h0M72.5 45.9h0M69.6 62.8h0M62.5 48.4h0M62.9 47.7h0M70.5 51.0h0M72.7 49.5h0M76.4 56.6h0M73.2 43.2h0M62.1 65.3h0M73.6 47.3h0M63.9 62.9h0M71.2 67.5h0M66.0 49.5h0M65.6 50.4h0M70.6 64.4h0M75.7 56.2h0M76.6 53.1h0M72.7 64.3h0M70.7 61.3h0M69.6 39.2h0M60.1 53.8h0M68.6 61.5h0M62.6 52.7h0M70.7 67.8h0M72.5 64.8h0M63.9 54.3h0M74.5 56.1h0M69.5 56.3h0M78.4 52.5h0M69.0 58.1h0M75.8 41.1h0M73.8 67.5h0M63.9 60.3h0M67.4 58.8h0M76.4 46.4h0M79.7 56.8h0M70.9 60.8h0M75.5 57.9h0M72.2 49.9h0M65.5 62.2h0M68.3 55.8h0M71.7 65.2h0M72.4 50.5h0M74.4 60.1h0M65.5 48.6h0M77.9 64.2h0M72.8 58.7h0" stroke="#00BF7D" stroke-width="1.5" stroke-linecap="round" fill="none"/>
<path d="M53.8 91.3h0M64.2 84.6h0M52.5 79.0h0M55.3 92.5h0M50.2 86.7h0M49.2 73.5h0M59.3 86.3h0M53.4 79.6h0M50.8 89.4h0M60.1 88.0h0M55.7 77.3h0M53.1 95.8h0M58.3 84.3h0M62.8 87.6h0M53.8 95.0h0M61.3 93.7h0M49.3 73.2h0M54.5 91.6h0M52.6 93.8h0M50.2 92.7h0M53.1 77.8h0M52.5 92.5h0M56.0 84.6h0M58.5 82.7h0M55.9 82.4h0M58.9 93.9h0M52.4 86.5h0M51.7 80.4h0M51.0 88.1h0M50.6 72.4h0M60.3 93.6h0M60.9 91.0h0M51.8 92.9h0M62.0 85.4h0M52.3 82.8h0M62.2 80.4h0M51.5 88.3h0M56.3 77.6h0M54.7 80.4h0M55.4 81.4h0M55.1 77.6h0M63.4 85.5h0M60.6 88.6h0M48.7 90.8h0M58.8 80.6h0M61.8 82.6h0" stroke="#00BFC4" stroke-width="1.5" stroke-linecap="round" fill="none"/>
<path d="M53.5 123.7h0M64.8 110.3h0M64.4 121.0h0M60.2 106.3h0M56.2 125.3h0M51.0 108.4h0M58.2 112.8h0M52.1 119.6h0M61.1 114.5h0M61.4 119.4h0M55.4 123.8h0M61.5 121.0h0M64.3 121.3h0M65.1 111.9h0M62.2 114.6h0M51.7 107.6h0M52.0 111.3h0M55.9 125.7h0M59.1 113.6h0M52.9 125.9h0M58.4 110.2h0M55.2 124.7h0M50.5 123.5h0M65.3 117.8h0M48.2 119.3h0M60.1 124.1h0M62.5 110.7h0M57.0 117.4h0M52.1 120.0h0M57.0 117.1h0M58.9 111.9h0M58.2 118.8h0M52.2 106.1h0M52.4 105.2h0M57.7 104.3h0M50.9 112.2h0M65.9 115.1h0M58.2 116.3h0" stroke="#00B0F6" stroke-width="1.5" stroke-linecap="round" fill="none"/>
<path d="M89.7 45.1h0M87.3 60.3h0M96.4 59.2h0M85.9 58.3h0M91.3 69.6h0M89.8 51.0h0M93.0 56.8h0M88.0 55.9h0M91.8 63.3h0M102.1 50.4h0M99.6 45.5h0M92.4 66.1h0M93.6 42.3h0M95.0 50.0h0M87.2 64.1h0M94.3 57.6h0M87.7 69.8h0M94.9 61.6h0M99.2 59.0h0M95.4 48.0h0M88.5 52.8h0M99.4 42.8h0M100.2 47.0h0M94.3 60.3h0M98.0 64.5h0M90.0 53.1h0M95.2 40.5h0M98.6 45.0h0M91.0 62.4h0M85.7 59.7h0M93.2 62.6h0M87.8 69.5h0M94.4 59.7h0M91.1 53.7h0M96.1 47.0h0M85.5 63.6h0M100.2 46.1h0M94.9 66.1h0M88.9 46.3h0M101.3 58.5h0M99.1 48.5h0M90.5 50.5h0M95.0 52.4h0M100.9 47.8h0M100.5 54.3h0M99.8 49.8h0M87.6 59.2h0M86.0 53.7h0M87.3 61.1h0M94.6 49.5h0M99.8 52.1h0M85.6 58.1h0M94.6 45.8h0M88.2 48.5h0M93.7 51.2h0M95.6 44.1h0M101.0 50.0h0M96.3 49.6h0M98.1 56.9h0M86.3 53.4h0M92.0 73.3h0M93.4 57.7h0M90.1 50.8h0M98.9 46.9h0M91.2 46.2h0M99.0 51.8h0M91.6 56.3h0M92.8 55.6h0" stroke="#9590FF" stroke-width="1.5" stroke-linecap="round" fill="none"/>
<path d="M80.9 84.5h0M84.8 84.5h0M82.4 91.5h0M83.1 81.9h0M78.2 86.2h0M77.1 82.4h0M80.7 78.8h0M76.2 84.8h0M82.5 84.9h0M75.6 79.2h0M84.7 90.1h0M88.5 84.6h0M87.4 87.9h0M86.6 80.8h0M81.9 91.1h0M81.3 90.1h0M83.7 89.1h0M80.1 75.9h0M81.4 91.4h0M80.7 88.5h0M77.7 86.4h0M84.4 91.7h0M78.4 77.5h0M83.8 82.2h0M76.5 78.4h0M77.9 77.8h0M83.5 83.6h0M81.5 80.9h0M86.4 84.2h0M81.7 86.7h0M79.8 82.0h0M84.0 90.4h0M82.9 80.1h0" stroke="#E76BF3" stroke-width="1.5" stroke-linecap="round" fill="none"/>
<path d="M83.1 101.2h0M81.5 104.5h0M87.1 102.2h0" stroke="#FF62BC" stroke-width="1.5" stroke-linecap="round" fill="none"/>
<path d="M96.8 78.8h0M101.5 68.7h0M95.3 77.6h0M98.1 72.4h0M111.1 88.5h0M112.1 87.6h0M115.3 75.7h0M109.2 89.2h0M105.0 73.6h0M105.2 68.5h0M91.4 79.4h0M109.1 67.8h0M111.3 95.1h0M112.4 69.1h0M105.3 69.2h0M93.9 72.4h0M97.0 70.1h0M99.6 86.7h0M99.7 80.0h0M93.1 82.9h0M97.1 89.2h0M95.5 80.5h0M104.4 80.9h0M97.5 75.0h0M95.0 67.8h0M103.2 76.1h0M95.5 77.2h0M102.8 74.5h0M107.7 89.3h0M107.3 87.3h0M107.1 85.0h0M114.2 86.6h0M114.1 84.9h0M110.5 84.6h0M119.0 92.9h0M100.1 85.7h0M107.0 97.6h0M106.1 94.4h0M96.1 72.0h0M114.3 84.8h0M105.7 77.4h0M101.2 84.5h0M100.8 80.8h0M92.9 70.8h0M111.0 72.8h0M103.4 89.8h0M108.3 87.8h0M107.3 86.5h0M110.8 70.9h0M97.5 73.8h0M105.4 82.9h0M118.5 88.4h0M114.8 98.8h0M118.9 90.3h0M112.4 87.9h0M106.2 87.6h0M110.4 75.1h0M119.0 97.6h0M111.4 83.9h0M107.8 76.5h0M101.2 92.1h0M104.1 67.9h0M98.3 75.2h0M113.7 87.9h0M112.3 70.0h0M113.7 72.7h0M110.1 88.3h0M111.0 96.6h0M94.9 75.9h0M117.8 92.0h0M117.2 97.2h0M112.8 72.6h0M114.4 75.8h0M101.1 84.3h0M98.3 83.0h0M98.2 85.3h0M114.6 76.7h0M101.5 75.3h0M100.2 69.5h0M109.0 88.4h0M93.2 68.7h0M109.6 97.3h0M105.7 93.9h0M102.0 91.3h0M108.2 84.2h0M100.6 84.9h0M105.4 81.6h0M104.0 71.3h0M109.1 81.6h0M92.3 79.3h0M106.4 93.0h0M113.6 79.7h0M108.2 71.5h0M100.5 73.2h0M117.4 86.4h0" stroke="#F8766D" stroke-width="1.5" stroke-linecap="round" fill="none"/>
<path d="M67.7 24.1h0M64.4 35.5h0M61.3 37.6h0M58.9 29.6h0M58.0 42.8h0M67.4 45.6h0M57.4 44.9h0M67.1 30.5h0M60.5 32.2h0M67.7 31.3h0M64.7 30.4h0M63.5 49.3h0M67.0 29.9h0M61.9 48.7h0M59.8 47.3h0M60.5 46.6h0M76.4 39.0h0M67.8 27.4h0M62.1 30.1h0M65.9 43.2h0M71.5 29.7h0M75.6 51.8h0M60.5 42.6h0M58.8 38.6h0M56.8 30.0h0M60.7 46.1h0M63.9 43.5h0M73.5 31.4h0M57.7 38.3h0M64.3 27.0h0M68.0 21.4h0M65.7 45.0h0M67.5 31.2h0M65.2 26.9h0M57.8 38.9h0M60.7 53.5h0M67.5 21.4h0M68.7 35.3h0M63.8 43.2h0M73.7 28.4h0M66.3 28.6h0M77.2 54.7h0M71.6 34.7h0M60.0 52.6h0M62.8 46.0h0M59.0 44.0h0M65.5 44.2h0M71.3 26.8h0M58.4 30.8h0M59.0 38.3h0M65.0 41.7h0M69.6 43.5h0M63.4 43.8h0M62.7 23.3h0M67.0 30.2h0M75.4 41.2h0M62.8 48.6h0M63.6 26.9h0M68.0 32.9h0M59.8 37.3h0M64.2 46.7h0M78.9 39.3h0M57.1 28.6h0M63.9 36.7h0M60.0 33.9h0M56.7 31.7h0M76.6 38.6h0M69.6 48.6h0M71.4 24.5h0M65.5 25.6h0M63.2 40.3h0M69.2 34.4h0M61.9 48.9h0M77.0 48.3h0M80.2 43.9h0M64.8 49.9h0M63.1 27.0h0" stroke="#D89000" stroke-width="1.5" stroke-linecap="round" fill="none"/>
<path d="M115.6 74.4h0M115.2 59.6h0M117.5 67.2h0M115.0 73.2h0M105.5 47.1h0M107.4 58.9h0M126.3 63.3h0M111.3 74.7h0M106.2 67.1h0M121.2 44.0h0M120.9 43.7h0M117.0 42.0h0M106.3 47.1h0M109.5 71.8h0M122.1 60.9h0M108.2 48.2h0M104.3 52.0h0M122.5 62.7h0M117.6 40.6h0M110.0 49.4h0M119.3 61.7h0M118.2 69.9h0M122.9 72.7h0M102.7 51.2h0M106.7 69.9h0M121.8 52.2h0M126.1 57.4h0M120.6 58.9h0M115.0 64.2h0M114.5 54.3h0M107.1 67.2h0M121.2 41.2h0M110.7 41.4h0M116.6 58.4h0M114.9 74.8h0M122.3 72.8h0M109.5 54.5h0M122.7 61.2h0M110.8 51.8h0M125.8 67.3h0M116.7 52.4h0M106.9 66.4h0M117.3 65.7h0M115.5 39.6h0M112.1 72.1h0M124.1 59.8h0M110.2 64.5h0M119.0 58.9h0M118.2 62.8h0M113.7 43.8h0M121.3 49.4h0M119.7 41.7h0M126.2 63.1h0M124.1 61.5h0M123.4 57.7h0M109.3 71.5h0M106.6 49.4h0M117.6 63.8h0M119.7 48.4h0M122.6 46.8h0M110.7 59.0h0M123.5 72.6h0M116.4 64.9h0M111.2 56.1h0M109.5 74.7h0M114.3 54.4h0M121.4 71.8h0M127.0 50.7h0M117.4 77.2h0M128.2 64.0h0M123.8 44.0h0M106.6 48.6h0M109.9 44.5h0M118.0 51.1h0M108.2 58.5h0M115.9 55.4h0M126.3 62.5h0M110.1 74.1h0M106.6 62.8h0M119.1 76.0h0M108.4 66.9h0M116.7 57.5h0M105.0 49.2h0M125.3 54.8h0M115.3 50.7h0M105.5 45.8h0M120.9 67.0h0M123.1 58.1h0M103.4 62.7h0M123.5 63.9h0M124.4 46.5h0M127.1 48.3h0M121.4 70.2h0M109.3 71.1h0M124.2 47.6h0M107.4 73.3h0M120.8 61.7h0M121.9 67.9h0M109.0 68.3h0M103.1 51.3h0M120.3 67.5h0M110.1 47.6h0M122.2 60.5h0M127.4 58.8h0M104.3 66.5h0M128.5 57.9h0M120.3 72.2h0M123.8 58.1h0M124.1 66.5h0M106.5 68.3h0M106.5 72.3h0M107.2 58.8h0M102.8 54.2h0M121.5 44.0h0M106.9 66.0h0M104.6 53.3h0M120.2 59.3h0M121.7 49.3h0M114.2 66.6h0M111.0 71.7h0M112.6 51.7h0M107.8 72.5h0M113.7 63.1h0M104.5 67.4h0M111.3 59.8h0M116.4 61.4h0M121.4 53.1h0M110.7 48.6h0M112.7 42.7h0M121.6 55.9h0M125.5 47.8h0M110.1 52.3h0M124.0 44.8h0M106.8 69.8h0M127.2 64.8h0M116.1 48.1h0M107.1 54.3h0M115.5 72.5h0M127.0 62.9h0M110.2 48.8h0M116.5 48.7h0M123.8 58.6h0M118.7 76.2h0M113.4 55.6h0M122.8 66.1h0M106.3 68.3h0M104.4 63.5h0M119.5 43.5h0M121.5 72.0h0M111.2 48.5h0M118.2 64.0h0M112.7 68.2h0M109.2 56.0h0M105.0 62.0h0M119.7 43.8h0M119.2 72.9h0M115.0 51.2h0" stroke="#A3A500" stroke-width="1.5" stroke-linecap="round" fill="none"/>
<path d="M50.1 65.0h0M54.2 59.0h0M43.2 50.0h0M40.1 66.1h0M42.5 60.0h0M52.7 61.3h0M45.8 59.0h0M44.0 63.4h0M47.7 45.9h0M40.6 65.9h0M50.9 52.2h0M35.8 56.3h0M38.0 51.8h0M55.7 60.6h0M41.1 67.9h0M36.9 62.4h0M43.2 57.5h0M37.3 64.7h0M47.2 48.1h0M38.9 49.3h0M46.0 49.9h0M49.3 46.9h0M41.7 59.1h0M38.5 54.6h0M44.3 51.2h0M46.5 66.4h0M38.1 65.4h0M37.2 61.6h0M53.2 56.6h0M47.4 47.9h0M48.2 50.9h0M46.0 57.1h0M50.2 75.2h0M52.3 50.4h0M46.0 66.3h0M47.6 68.4h0M39.5 58.9h0M36.4 61.3h0M39.4 65.7h0M34.9 56.5h0M44.9 66.2h0M41.2 47.2h0M49.9 78.9h0M51.2 49.5h0M50.0 68.4h0M44.4 67.1h0M55.8 59.2h0M48.7 51.3h0M45.7 48.5h0M45.6 58.4h0M41.7 54.4h0M39.5 50.7h0M53.8 52.1h0M50.5 71.7h0M34.7 57.7h0M53.2 64.8h0M37.7 58.9h0M47.4 56.2h0M40.3 59.5h0M46.5 48.7h0M45.2 58.5h0M50.6 48.9h0M51.3 64.8h0M42.5 47.1h0M44.4 45.5h0M52.2 67.8h0M44.4 69.9h0M46.2 53.4h0M45.4 57.3h0M45.1 55.4h0M46.2 54.4h0M49.6 73.9h0M40.9 60.4h0M50.8 55.7h0M45.1 63.9h0M54.4 54.2h0M38.6 60.4h0M40.0 63.1h0M47.7 70.5h0" stroke="#39B600" stroke-width="1.5" stroke-linecap="round" fill="none"/>
<path d="M78.3 64.2h0M78.0 53.9h0M76.8 38.9h0M63.3 53.1h0M77.3 39.0h0M78.8 59.7h0M76.9 51.8h0M65.3 60.3h0M72.1 66.3h0M71.3 63.4h0M71.3 46.7h0M74.3 44.2h0M60.1 51.1h0M65.9 57.2h0M70.2 65.4h0M77.1 39.9h0M80.1 58.8h0M69.6 61.2h0M72.4 66.4h0M65.4 67.9h0M77.1 59.2h0M76.7 59.7h0M69.5 61.3h0M67.4 56.1h0M71.7 63.8h0M76.8 42.0h0M72.3 41.6h0M75.4 62.1h0M63.7 63.5h0M78.0 41.5h0M67.1 54.5h0M70.9 44.9h0M69.6 51.7h0M79.8 56.1h0M68.8 46.3h0M77.5 52.6h0M60.4 61.5h0M68.3 51.0h0M66.4 58.3h0M68.9 59.3h0M78.0 42.7h0M75.5 45.6h0M74.4 39.6h0M69.6 40.1h0M65.0 59.8h0M69.7 63.0h0M79.7 56.7h0" stroke="#00BF7D" stroke-width="1.5" stroke-linecap="round" fill="none"/>
<path d="M64.1 86.8h0M53.7 95.0h0M55.9 94.5h0M61.8 82.8h0M49.6 89.4h0M60.8 79.6h0M55.6 88.0h0M57.6 96.3h0M52.7 92.3h0M57.9 95.4h0M62.9 83.6h0M55.1 81.6h0M52.7 88.3h0M52.2 87.9h0M59.3 89.2h0M57.1 81.4h0M54.2 89.1h0M56.7 91.4h0M55.7 85.5h0M52.5 92.0h0M56.0 78.6h0M51.4 95.0h0M57.4 85.7h0M51.3 83.3h0M51.0 91.3h0M61.5 94.3h0M60.0 95.5h0M52.9 93.0h0M60.2 93.4h0M49.0 93.0h0M55.5 89.6h0M55.5 95.7h0M54.1 78.9h0M58.7 85.4h0M55.9 78.6h0M59.8 93.3h0M61.2 91.2h0M63.9 83.3h0M56.5 81.4h0M61.1 88.3h0M61.4 92.1h0M49.5 77.1h0M58.6 88.2h0M48.8 77.7h0M57.4 92.1h0M52.3 86.0h0M47.8 90.8h0M61.1 83.0h0M59.9 84.8h0M61.4 94.7h0M59.8 86.1h0M47.6 89.1h0M59.3 95.7h0" stroke="#00BFC4" stroke-width="1.5" stroke-linecap="round" fill="none"/>
<path d="M52.8 111.7h0M63.9 118.6h0M54.6 116.6h0M57.3 112.9h0M62.7 111.5h0M61.7 107.8h0M57.4 125.4h0M53.4 113.4h0M63.2 121.6h0M63.5 111.3h0M55.0 105.8h0M50.0 119.4h0M56.8 116.8h0M65.7 114.2h0M49.3 109.1h0M59.3 114.0h0M51.1 121.9h0M53.5 115.6h0M48.3 119.2h0M55.8 122.5h0M59.0 119.1h0M61.6 112.1h0M58.9 115.7h0M53.0 106.1h0M60.3 123.0h0M62.2 113.2h0M53.2 122.4h0M58.4 123.7h0M65.7 115.4h0M48.1 114.6h0M59.2 119.2h0M53.4 112.4h0M61.6 112.7h0M55.4 105.8h0M57.0 121.3h0" stroke="#00B0F6" stroke-width="1.5" stroke-linecap="round" fill="none"/>
<path d="M95.9 65.6h0M93.1 55.3h0M92.6 73.5h0M95.1 57.0h0M90.6 70.6h0M89.6 70.5h0M88.4 55.1h0M101.4 52.1h0M95.8 63.6h0M96.6 57.5h0M99.6 45.2h0M96.5 60.5h0M91.6 61.7h0M95.6 56.6h0M96.3 67.3h0M89.2 60.4h0M87.0 53.9h0M99.4 54.0h0M92.4 46.7h0M91.5 59.5h0M85.4 61.8h0M89.1 52.3h0M97.5 46.1h0M92.1 63.5h0M90.0 63.5h0M93.6 47.6h0M95.6 58.9h0M96.2 55.1h0M101.9 57.3h0M97.0 65.4h0M91.8 49.2h0M96.4 52.7h0M89.0 58.2h0M99.4 48.9h0M87.1 56.8h0M98.3 63.0h0M98.2 52.1h0M95.5 70.0h0M93.5 65.6h0M98.4 62.1h0M96.4 52.1h0M100.2 62.5h0M87.9 70.9h0M96.4 56.6h0M96.9 41.2h0M90.5 72.5h0M86.2 53.5h0M101.4 48.9h0M95.3 51.0h0M99.1 47.7h0M93.6 44.0h0M86.8 62.8h0M89.7 44.1h0M96.7 40.8h0M88.1 55.1h0M100.1 46.3h0M89.9 66.1h0M91.2 63.1h0M96.8 60.3h0M99.0 53.9h0M99.7 57.7h0" stroke="#9590FF" stroke-width="1.5" stroke-linecap="round" fill="none"/>
<path d="M79.4 77.3h0M83.5 89.7h0M85.8 88.0h0M81.5 88.7h0M78.5 85.4h0M81.9 79.3h0M77.6 82.7h0M79.8 76.4h0M81.5 83.4h0M75.7 81.6h0M83.3 87.5h0M86.3 76.7h0M79.6 78.6h0M82.2 75.8h0M83.4 76.1h0M78.3 90.3h0M76.7 79.5h0M76.4 80.4h0M81.8 87.0h0M83.6 75.5h0M79.9 82.2h0M75.9 88.6h0M82.0 86.8h0M77.2 88.7h0M78.9 80.9h0M86.5 83.2h0M79.7 78.1h0M74.9 86.1h0M83.8 90.0h0M81.2 74.3h0" stroke="#E76BF3" stroke-width="1.5" stroke-linecap="round" fill="none"/>
<path d="M75.5 105.5h0M71.8 101.5h0M78.4 101.3h0" stroke="#FF62BC" stroke-width="1.5" stroke-linecap="round" fill="none"/>
<path d="M212.2 91.9h0M217.8 83.1h0M205.6 93.5h0M200.3 76.8h0M222.0 79.5h0M204.9 102.4h0M207.4 92.8h0M208.8 95.8h0M205.6 81.5h0M217.6 71.4h0M208.0 84.2h0M206.6 81.1h0M215.6 89.2h0M210.5 101.3h0M208.8 85.3h0M212.7 96.4h0M203.1 94.1h0M206.0 97.7h0M219.1 79.7h0M218.9 86.9h0M215.2 91.7h0M214.7 85.1h0M212.8 84.5h0M208.8 98.3h0M202.3 97.6h0M218.0 87.7h0M219.6 85.5h0M209.5 94.9h0M208.4 100.4h0M210.0 96.7h0M222.4 93.2h0M208.9 78.7h0M207.4 71.9h0M212.2 80.4h0M222.5 95.0h0M208.3 84.4h0M203.3 93.9h0M206.3 92.4h0M206.1 100.0h0M213.3 85.8h0M202.0 82.3h0M223.7 76.7h0M201.3 72.6h0M204.7 89.5h0M208.9 90.0h0" stroke="#F8766D" stroke-width="1.5" stroke-linecap="round" fill="none"/>
<path d="M170.3 46.3h0M164.8 42.7h0M172.7 46.8h0M161.2 42.9h0M171.2 45.7h0M169.5 38.5h0M173.6 34.2h0M168.0 38.6h0M162.6 41.7h0M164.1 49.5h0M166.3 40.7h0M163.3 30.3h0M174.6 37.2h0M172.2 46.7h0M168.0 38.4h0M162.5 41.1h0M168.5 48.1h0M181.5 47.9h0M170.1 32.4h0M171.3 32.8h0" stroke="#D89000" stroke-width="1.5" stroke-linecap="round" fill="none"/>
<path d="M218.2 59.2h0M208.7 62.6h0" stroke="#A3A500" stroke-width="1.5" stroke-linecap="round" fill="none"/>
<path d="M151.8 60.3h0M143.0 66.9h0M142.9 55.2h0M150.6 58.3h0M159.6 57.7h0M154.3 52.6h0M151.8 47.3h0M156.1 67.5h0M148.7 67.8h0M160.3 54.5h0M156.5 55.6h0M141.5 60.6h0M155.0 53.2h0M143.2 65.3h0M141.3 57.3h0M154.6 50.5h0M143.4 54.9h0M151.4 67.6h0M148.5 70.5h0M149.1 62.5h0M143.0 67.4h0M148.3 50.5h0M160.0 64.2h0M159.2 67.3h0M157.1 67.4h0M162.0 60.8h0M148.2 53.5h0M152.4 67.2h0M143.9 68.2h0M141.7 54.4h0M157.3 55.2h0M154.6 70.3h0M154.1 61.8h0M142.1 65.3h0M156.5 52.4h0" stroke="#39B600" stroke-width="1.5" stroke-linecap="round" fill="none"/>
<path d="M166.6 55.6h0M179.5 53.2h0M171.2 48.5h0M180.9 48.0h0M180.0 57.7h0M170.9 42.9h0M169.9 42.3h0M166.9 54.7h0M168.0 65.7h0M167.4 48.9h0M169.8 55.2h0M178.3 64.6h0" stroke="#00BF7D" stroke-width="1.5" stroke-linecap="round" fill="none"/>
<path d="M168.5 86.8h0M160.0 82.9h0M165.2 89.6h0M158.0 82.1h0M164.6 95.6h0M161.0 90.5h0M162.5 79.1h0M160.2 84.8h0M159.8 82.0h0M163.4 85.6h0M159.1 80.9h0M169.9 89.5h0M165.3 84.9h0M159.1 83.3h0M159.5 86.5h0M159.4 85.0h0M168.0 87.6h0M166.0 94.1h0M161.1 79.5h0M160.4 79.9h0M166.0 83.8h0M166.7 93.9h0M157.8 82.7h0" stroke="#00BFC4" stroke-width="1.5" stroke-linecap="round" fill="none"/>
<path d="M165.7 117.8h0M157.6 107.9h0M155.3 111.6h0M172.7 114.4h0M171.5 110.8h0M155.5 109.9h0M163.1 110.3h0" stroke="#00B0F6" stroke-width="1.5" stroke-linecap="round" fill="none"/>
<path d="M195.0 74.0h0M197.4 65.8h0M196.8 76.8h0" stroke="#9590FF" stroke-width="1.5" stroke-linecap="round" fill="none"/>
<path d="M194.0 89.3h0M187.5 93.0h0M188.6 76.8h0M188.8 80.1h0M195.9 84.6h0M190.4 79.9h0M188.8 85.5h0M185.3 80.9h0M191.2 93.4h0M188.4 82.4h0" stroke="#E76BF3" stroke-width="1.5" stroke-linecap="round" fill="none"/>
<path d="M186.2 104.8h0M181.8 100.9h0M181.4 103.6h0M179.5 104.2h0M180.9 105.5h0" stroke="#FF62BC" stroke-width="1.5" stroke-linecap="round" fill="none"/>
<path d="M217.7 92.2h0M224.1 82.5h0M214.1 87.0h0M204.2 90.5h0M210.0 93.4h0M211.1 101.1h0M208.1 84.5h0M200.4 74.8h0M211.0 89.6h0M207.4 86.5h0M205.5 99.1h0M209.8 99.9h0M210.9 98.6h0M220.8 80.7h0M204.7 97.4h0M204.6 92.2h0M215.3 70.3h0M204.7 92.3h0M210.5 98.1h0M222.4 94.9h0M208.6 77.2h0M215.0 81.6h0M207.9 98.2h0M218.4 85.4h0M207.2 86.4h0M213.2 87.3h0M209.2 90.3h0M203.5 95.1h0M206.6 75.6h0M213.8 97.9h0M205.9 102.4h0M210.0 70.5h0M207.6 95.6h0M216.0 71.4h0M205.6 92.6h0M213.7 70.7h0M213.3 98.8h0M206.0 87.0h0" stroke="#F8766D" stroke-width="1.5" stroke-linecap="round" fill="none"/>
<path d="M171.7 38.3h0M174.8 23.6h0M170.0 38.1h0M163.0 50.1h0M164.1 41.3h0M164.5 44.8h0M170.7 39.4h0M164.1 28.7h0M167.8 28.4h0M166.1 39.5h0M170.7 38.1h0M174.7 32.2h0M167.6 42.2h0M162.4 43.1h0M172.7 44.1h0M165.5 26.9h0M171.3 44.4h0M172.3 40.9h0M181.6 48.5h0M168.7 44.6h0M162.1 38.1h0M165.6 37.6h0M165.1 38.5h0M166.6 36.2h0M165.0 47.5h0M172.2 26.3h0" stroke="#D89000" stroke-width="1.5" stroke-linecap="round" fill="none"/>
<path d="M214.2 48.3h0M206.6 58.8h0M217.1 64.0h0M212.3 59.5h0M218.1 57.7h0" stroke="#A3A500" stroke-width="1.5" stroke-linecap="round" fill="none"/>
<path d="M157.0 65.1h0M155.3 57.9h0M157.5 68.9h0M158.7 57.5h0M144.4 61.1h0M147.3 52.3h0M156.4 54.1h0M161.8 60.8h0M158.9 59.4h0M149.7 65.6h0M145.7 69.1h0M157.8 51.3h0M159.7 59.4h0M159.2 54.0h0M146.7 61.2h0M157.6 59.8h0M159.3 64.4h0M142.2 55.9h0M151.2 64.1h0M150.6 49.5h0M152.2 65.3h0M153.1 51.4h0M150.3 71.2h0M157.1 51.4h0M140.6 60.0h0M162.1 61.4h0M146.0 52.9h0M148.2 49.1h0" stroke="#39B600" stroke-width="1.5" stroke-linecap="round" fill="none"/>
<path d="M176.3 44.8h0M176.8 53.8h0M172.4 55.7h0M177.0 45.4h0M163.1 54.5h0M177.2 59.8h0M175.8 49.3h0M169.6 67.8h0M163.8 49.3h0M166.7 65.0h0M175.0 52.3h0M179.7 49.2h0" stroke="#00BF7D" stroke-width="1.5" stroke-linecap="round" fill="none"/>
<path d="M156.7 91.4h0M157.2 85.1h0M162.8 80.6h0M161.3 87.9h0M165.8 76.7h0M162.5 95.2h0M162.9 77.4h0M165.1 76.8h0M168.4 86.5h0M157.4 91.8h0M160.4 81.0h0M164.1 88.1h0M160.4 76.0h0M156.8 89.6h0M158.1 86.7h0M160.4 90.9h0M156.6 80.0h0M165.8 85.7h0M160.5 89.3h0M159.9 87.3h0M166.9 84.4h0M169.9 82.9h0M163.7 92.4h0" stroke="#00BFC4" stroke-width="1.5" stroke-linecap="round" fill="none"/>
<path d="M159.1 120.7h0M167.1 119.6h0M168.7 116.0h0M168.5 108.0h0M169.8 119.4h0M169.4 118.5h0M166.9 115.9h0M159.3 113.9h0M159.6 125.0h0" stroke="#00B0F6" stroke-width="1.5" stroke-linecap="round" fill="none"/>
<path d="M199.1 67.0h0M200.2 74.0h0M197.2 48.1h0M193.8 57.1h0M195.2 62.9h0" stroke="#9590FF" stroke-width="1.5" stroke-linecap="round" fill="none"/>
<path d="M186.2 94.6h0M190.9 94.4h0M186.4 85.5h0M187.6 79.9h0M190.1 76.8h0M192.8 87.5h0M193.1 84.3h0M183.4 79.3h0M191.7 85.1h0M187.9 86.8h0M190.8 78.4h0" stroke="#E76BF3" stroke-width="1.5" stroke-linecap="round" fill="none"/>
<path d="M187.5 103.0h0M181.5 101.0h0M177.0 102.5h0M179.3 104.0h0" stroke="#FF62BC" stroke-width="1.5" stroke-linecap="round" fill="none"/>
<path d="M216.1 91.6h0M212.8 87.4h0M214.8 86.5h0M210.5 83.3h0M207.9 101.6h0M206.7 99.9h0M215.9 88.8h0M204.9 100.0h0M212.5 86.1h0M207.3 91.8h0M203.0 90.7h0M209.8 95.9h0M204.1 99.5h0M219.6 78.1h0M211.9 83.2h0M202.9 90.9h0M219.0 83.3h0M220.5 73.6h0M204.3 96.3h0M207.8 77.6h0M206.5 96.1h0M206.0 99.9h0M205.3 83.2h0M210.7 92.0h0M219.3 81.5h0M212.6 93.0h0M214.8 96.1h0M220.5 81.4h0M206.6 92.2h0M208.2 82.8h0M219.5 86.0h0M223.0 83.7h0M207.3 88.2h0M209.0 77.0h0M206.6 98.2h0M214.0 95.0h0M210.8 69.4h0M221.8 96.6h0M214.5 93.7h0" stroke="#F8766D" stroke-width="1.5" stroke-linecap="round" fill="none"/>
<path d="M180.1 47.2h0M163.3 40.9h0M163.9 46.0h0M167.8 48.4h0M167.5 49.3h0M177.8 47.6h0M172.8 38.8h0M171.1 38.2h0M165.5 38.2h0M175.7 29.2h0M162.5 41.0h0M162.1 31.5h0M167.2 31.2h0M167.2 48.1h0M167.4 36.4h0M167.9 51.4h0M175.0 36.3h0M161.7 29.8h0M167.8 42.9h0M178.2 26.4h0M176.3 51.5h0M172.4 43.4h0M169.0 39.8h0" stroke="#D89000" stroke-width="1.5" stroke-linecap="round" fill="none"/>
<path d="M220.6 68.2h0M224.9 56.7h0M223.7 60.7h0" stroke="#A3A500" stroke-width="1.5" stroke-linecap="round" fill="none"/>
<path d="M155.7 67.3h0M151.2 58.1h0M153.0 61.2h0M150.8 62.0h0M162.0 57.8h0M162.1 57.5h0M143.5 67.5h0M154.5 68.0h0M151.3 48.1h0M150.2 56.9h0M148.8 51.0h0M148.5 64.5h0M144.7 55.8h0M148.9 51.5h0M156.7 64.8h0M155.3 65.2h0M146.8 68.0h0M151.9 60.5h0M149.5 54.1h0M153.9 64.9h0M160.5 61.6h0M147.1 51.9h0" stroke="#39B600" stroke-width="1.5" stroke-linecap="round" fill="none"/>
<path d="M177.2 58.3h0M174.5 68.6h0M179.5 65.5h0M172.8 48.9h0M168.2 48.0h0M176.9 61.1h0M173.7 49.5h0M173.3 51.2h0M167.5 55.5h0M177.6 47.6h0M175.5 66.6h0M172.7 67.0h0M180.0 51.5h0M171.0 58.2h0M174.7 50.5h0M171.8 42.8h0M173.2 56.4h0M168.7 49.3h0" stroke="#00BF7D" stroke-width="1.5" stroke-linecap="round" fill="none"/>
<path d="M167.9 78.1h0M169.1 90.6h0M157.2 85.3h0M167.7 89.6h0M166.2 82.5h0M161.0 91.4h0M162.9 82.6h0M169.3 79.6h0M159.2 87.0h0M163.7 78.1h0M156.6 87.1h0M168.7 87.4h0M158.8 87.0h0M162.3 87.3h0M161.7 87.9h0M163.5 86.0h0M164.8 87.2h0M159.9 86.3h0M159.0 89.0h0M166.9 88.2h0M159.2 91.5h0M159.1 85.4h0M169.9 90.0h0M158.2 81.2h0M158.5 90.4h0M163.1 88.7h0M160.2 90.1h0M157.7 90.0h0" stroke="#00BFC4" stroke-width="1.5" stroke-linecap="round" fill="none"/>
<path d="M159.3 115.0h0M158.7 125.0h0M156.9 108.9h0M154.8 119.2h0M167.6 108.2h0M161.9 106.9h0M170.7 110.3h0M161.5 120.8h0M167.4 120.1h0M154.2 120.2h0M168.0 114.7h0M166.0 118.3h0M160.1 110.3h0" stroke="#00B0F6" stroke-width="1.5" stroke-linecap="round" fill="none"/>
<path d="M198.1 62.6h0M202.0 53.7h0M195.6 68.8h0M195.9 61.7h0" stroke="#9590FF" stroke-width="1.5" stroke-linecap="round" fill="none"/>
<path d="M184.9 84.4h0M184.3 82.9h0M191.0 87.0h0M195.2 87.0h0M182.6 85.1h0M192.2 75.4h0M193.6 76.4h0" stroke="#E76BF3" stroke-width="1.5" stroke-linecap="round" fill="none"/>
<path d="M177.7 103.5h0M180.7 105.0h0M187.1 105.4h0M183.4 102.7h0" stroke="#FF62BC" stroke-width="1.5" stroke-linecap="round" fill="none"/>
<path d="M220.4 84.3h0M209.1 96.9h0M208.5 102.0h0M213.9 89.2h0M205.7 100.5h0M201.9 72.6h0M206.6 84.6h0M211.5 94.5h0M200.2 76.2h0M208.2 90.6h0M222.9 91.3h0M209.2 97.9h0M202.4 99.1h0M211.1 99.2h0M215.9 77.1h0M206.5 99.3h0M213.8 93.0h0M220.6 75.5h0M214.6 85.9h0M211.1 85.8h0M219.5 76.7h0M213.1 71.4h0M212.0 99.7h0M223.3 94.5h0M204.8 81.7h0M206.9 100.6h0M202.7 100.5h0M222.2 90.3h0M203.6 97.0h0M202.9 92.1h0M219.6 90.2h0M213.8 97.3h0M210.8 86.9h0M210.7 98.0h0M216.1 91.4h0M224.0 89.7h0M200.9 72.2h0M207.1 96.1h0M214.9 77.5h0M222.6 92.3h0M215.9 94.6h0M206.6 93.0h0M212.9 86.4h0" stroke="#F8766D" stroke-width="1.5" stroke-linecap="round" fill="none"/>
<path d="M176.1 34.2h0M163.9 28.5h0M183.7 47.1h0M174.0 45.0h0M178.9 54.2h0M173.7 43.3h0M173.6 41.2h0M181.1 55.3h0M167.4 32.4h0M171.1 48.3h0M169.3 43.7h0M182.7 48.9h0M161.6 30.2h0M172.5 24.5h0M169.9 39.8h0M171.7 44.7h0M168.8 27.7h0M167.5 47.8h0M178.9 47.0h0M167.0 39.0h0M171.5 49.6h0" stroke="#D89000" stroke-width="1.5" stroke-linecap="round" fill="none"/>
<path d="M205.5 61.7h0M216.0 47.0h0M214.1 61.9h0M217.6 52.8h0" stroke="#A3A500" stroke-width="1.5" stroke-linecap="round" fill="none"/>
<path d="M154.4 71.3h0M153.4 65.7h0M149.7 67.8h0M156.9 50.6h0M145.7 52.1h0M154.5 51.5h0M143.9 64.2h0M160.2 65.6h0M143.6 54.6h0M154.5 59.3h0M147.2 58.2h0M143.2 62.5h0M161.5 64.3h0M149.3 48.4h0M156.9 69.2h0M156.1 52.8h0M158.9 58.9h0M161.8 56.2h0M142.5 59.5h0M160.0 65.7h0M156.3 68.4h0M143.4 60.3h0M160.2 64.3h0M147.1 57.0h0M154.0 64.4h0M150.5 50.4h0M156.4 58.8h0M147.8 62.9h0M141.8 60.9h0M150.3 61.6h0M147.1 58.6h0M145.2 63.2h0M152.7 71.5h0M145.5 51.2h0M147.1 51.3h0" stroke="#39B600" stroke-width="1.5" stroke-linecap="round" fill="none"/>
<path d="M172.5 61.8h0M168.2 55.7h0M169.0 46.6h0M166.5 49.5h0M175.0 49.9h0M176.2 48.7h0M170.9 55.0h0M168.5 54.3h0M168.2 59.3h0M171.8 64.9h0M167.1 44.1h0M169.7 49.5h0M163.9 60.5h0" stroke="#00BF7D" stroke-width="1.5" stroke-linecap="round" fill="none"/>
<path d="M168.1 88.0h0M161.2 91.2h0M160.6 84.7h0M159.8 89.8h0M158.6 79.1h0M157.6 91.2h0M166.0 89.8h0M167.9 87.3h0M163.2 88.5h0M165.1 91.2h0M161.7 80.2h0M156.9 86.6h0M170.0 82.3h0M166.9 82.5h0M163.5 94.9h0M159.7 82.7h0" stroke="#00BFC4" stroke-width="1.5" stroke-linecap="round" fill="none"/>
<path d="M169.7 110.9h0M159.4 120.1h0M156.9 121.5h0M159.4 110.1h0M165.2 106.7h0M167.7 120.9h0M166.9 122.2h0M165.3 124.6h0M165.0 125.0h0M158.7 114.2h0M163.5 109.9h0" stroke="#00B0F6" stroke-width="1.5" stroke-linecap="round" fill="none"/>
<path d="M198.3 54.1h0M196.9 78.1h0M199.1 57.9h0M198.8 61.7h0M193.0 52.4h0M202.0 61.0h0M199.7 73.1h0M195.3 69.4h0M200.3 57.5h0M192.9 62.6h0" stroke="#9590FF" stroke-width="1.5" stroke-linecap="round" fill="none"/>
<path d="M193.8 83.2h0M188.8 92.7h0M189.8 92.2h0M187.2 76.7h0M195.0 77.3h0M184.8 83.3h0M183.6 84.2h0" stroke="#E76BF3" stroke-width="1.5" stroke-linecap="round" fill="none"/>
<path d="M185.3 102.7h0" stroke="#FF62BC" stroke-width="1.5" stroke-linecap="round" fill="none"/>
<path d="M305.3 81.2h0M323.6 69.6h0M315.7 84.8h0M316.8 84.0h0M308.8 83.4h0M321.3 64.9h0M316.3 73.5h0M318.9 80.3h0M317.8 72.9h0M313.3 79.4h0M319.4 87.0h0M303.2 78.6h0M319.5 67.9h0M315.5 69.2h0M320.5 97.0h0M310.2 75.0h0M302.8 79.8h0M325.8 95.4h0M311.9 97.1h0M313.8 97.9h0M303.8 84.4h0M307.4 70.7h0M326.9 74.9h0M314.7 75.2h0M329.5 84.7h0M324.6 98.3h0M314.1 87.9h0M321.0 86.2h0M323.8 65.7h0M312.8 81.7h0M310.6 66.1h0M309.1 69.6h0M319.1 73.1h0M321.6 80.9h0M326.7 80.2h0M322.6 94.6h0M308.7 74.8h0M323.7 68.0h0M323.9 84.7h0M320.0 78.1h0M314.4 74.2h0M305.3 82.2h0M329.1 95.0h0M326.5 90.1h0M321.7 71.3h0M328.3 68.9h0M321.9 69.7h0M318.1 87.0h0M324.4 94.6h0M323.4 77.3h0M318.2 88.3h0M321.8 77.5h0M317.9 90.6h0M330.1 82.9h0M305.5 70.9h0M309.6 69.8h0M308.9 76.7h0M325.4 84.1h0M314.9 68.1h0M331.4 88.5h0M308.4 95.6h0M310.2 92.3h0M311.7 71.0h0M320.6 95.9h0M322.0 85.8h0M315.4 71.0h0M331.1 86.7h0M314.4 97.2h0M329.7 73.5h0M316.4 101.5h0M315.2 89.6h0M324.5 89.6h0M303.6 78.6h0M330.3 71.4h0M307.4 73.7h0M332.2 86.7h0M322.9 79.5h0M317.5 99.8h0M318.7 68.1h0M325.7 91.0h0M307.8 73.9h0M321.8 66.2h0M328.7 83.8h0M311.9 98.7h0M311.9 78.7h0M307.9 92.0h0M331.9 83.3h0M319.9 94.0h0M317.8 70.1h0M326.9 87.6h0M308.7 82.2h0M311.3 100.5h0M318.4 84.3h0M325.8 85.8h0M321.8 93.5h0M326.2 86.2h0M320.7 84.0h0M309.1 71.3h0M329.5 72.6h0M325.4 76.5h0M332.2 84.3h0M325.0 97.0h0M307.2 89.2h0M326.6 70.6h0M306.6 85.7h0M311.9 67.0h0M324.5 76.1h0M307.7 87.0h0M314.8 75.7h0M326.0 82.5h0M316.7 86.2h0M323.7 82.3h0M327.1 71.2h0M316.0 72.8h0M305.6 83.7h0M304.1 87.4h0M318.9 80.7h0M319.3 89.1h0M320.1 86.5h0M313.2 64.9h0M318.4 98.9h0M309.7 82.1h0M330.9 88.6h0M312.1 100.7h0M305.5 76.9h0M325.8 86.7h0M310.2 65.8h0M328.0 78.0h0M323.2 99.7h0M320.6 97.7h0M309.8 67.1h0M323.6 99.1h0M317.3 80.2h0M326.1 85.3h0M305.9 84.2h0M305.1 79.7h0M323.0 94.9h0M317.1 77.0h0M321.5 75.6h0M311.2 77.8h0M327.5 87.1h0M316.5 70.4h0M317.8 74.2h0M318.8 77.1h0M322.9 90.6h0M327.5 72.4h0M320.4 78.4h0M324.4 93.6h0M318.8 100.4h0M319.1 94.0h0M331.8 85.9h0M317.8 95.0h0M319.7 78.2h0M325.7 87.0h0M315.8 87.8h0M322.0 99.2h0M306.5 89.9h0M315.6 88.5h0M332.0 85.7h0M316.8 79.3h0M322.6 96.4h0M313.4 73.1h0M331.4 78.9h0M323.3 97.9h0M320.2 86.1h0M308.3 78.1h0M310.5 98.6h0" stroke="#F8766D" stroke-width="1.5" stroke-linecap="round" fill="none"/>
<path d="M288.9 38.8h0M281.2 53.6h0M270.9 40.7h0M284.8 52.7h0M278.6 41.4h0M289.4 48.6h0M270.1 34.8h0M289.2 51.0h0M275.5 54.6h0M272.8 36.8h0M269.1 28.6h0M281.0 42.9h0M280.2 31.8h0M271.7 41.2h0M273.2 32.9h0M276.1 35.3h0M286.4 61.0h0M283.7 48.2h0M272.8 49.5h0M273.1 37.1h0M265.1 43.8h0M266.9 37.7h0M269.0 30.5h0M271.6 38.3h0M270.6 53.1h0M287.9 39.2h0M269.6 49.8h0M261.9 41.2h0M279.4 48.2h0M277.0 38.9h0M267.1 44.2h0M270.7 34.6h0M270.1 43.9h0M273.8 36.3h0M263.1 37.4h0M285.1 49.5h0M265.8 49.7h0M272.0 28.2h0M286.9 50.1h0M287.4 54.2h0M281.6 35.0h0M268.7 47.1h0M286.6 39.1h0M274.6 46.7h0M282.4 51.8h0M283.6 51.5h0M272.5 25.0h0M283.9 47.4h0M287.3 48.7h0M272.7 45.3h0M270.2 30.4h0M268.7 48.6h0M273.6 39.9h0M287.4 43.9h0M260.9 44.5h0M268.6 33.8h0M282.3 49.7h0M281.4 47.1h0M288.2 59.8h0M277.6 42.1h0M280.2 46.3h0M282.3 35.1h0M269.3 31.0h0M279.0 51.9h0M263.2 43.6h0M278.1 47.8h0M276.0 54.1h0M268.0 39.6h0M269.1 24.4h0M270.7 40.5h0M289.5 46.1h0M272.2 43.6h0M278.3 31.9h0M285.4 56.1h0M267.9 34.5h0M284.5 45.6h0M282.0 51.8h0M283.3 51.3h0M264.1 36.0h0M262.8 43.8h0M267.3 34.5h0M277.5 53.8h0M268.0 39.0h0M288.7 50.3h0M281.0 49.7h0M288.2 45.1h0M280.6 37.9h0M285.3 62.5h0M272.2 44.9h0M284.6 39.1h0M277.2 52.5h0M287.0 46.5h0M278.2 52.0h0M273.6 39.5h0M276.1 26.4h0M276.1 25.8h0M263.2 37.3h0M266.6 42.8h0M273.6 37.3h0M272.4 39.8h0M273.4 29.9h0" stroke="#D89000" stroke-width="1.5" stroke-linecap="round" fill="none"/>
<path d="M324.5 50.8h0M326.3 50.1h0M332.0 72.3h0M310.8 56.1h0M317.1 47.3h0M330.0 51.5h0M316.5 67.9h0M322.5 67.1h0M320.8 59.6h0M315.3 42.3h0M316.9 64.3h0M329.8 46.6h0M310.0 61.5h0M318.1 46.5h0M313.4 63.0h0M322.9 64.1h0M314.2 57.1h0M316.0 52.4h0M319.7 68.4h0M331.9 54.4h0M323.0 60.9h0M333.5 54.3h0M324.0 55.0h0M323.5 40.2h0M322.9 51.7h0M331.2 74.0h0M328.6 58.3h0M316.9 47.9h0M314.7 49.6h0M316.9 69.2h0M309.4 60.6h0M323.7 71.4h0M330.8 56.5h0M326.3 59.2h0M321.4 41.5h0M333.2 72.6h0M315.1 46.5h0M318.8 64.0h0M313.0 65.0h0M311.7 58.1h0M319.3 67.8h0M329.5 46.0h0M319.4 57.7h0M312.4 51.8h0M324.1 76.0h0M338.0 58.5h0M325.9 73.9h0M313.5 58.9h0M316.8 43.5h0M337.2 48.6h0M330.8 74.8h0M311.6 46.6h0M321.7 70.7h0M314.4 58.6h0M322.4 57.7h0M333.1 73.9h0M324.5 59.2h0M315.1 65.7h0M331.0 69.9h0M324.0 64.2h0M320.2 41.8h0M330.7 49.9h0M333.1 66.7h0M311.9 61.3h0M325.6 42.6h0M323.5 65.6h0M324.1 45.0h0M332.7 50.3h0M331.4 56.4h0M324.3 74.9h0M330.7 59.7h0M325.6 77.5h0M336.5 69.8h0M315.8 43.7h0M315.0 68.0h0M322.9 51.2h0M322.4 76.9h0M328.4 76.3h0M338.6 58.5h0M314.1 73.5h0M318.7 66.4h0M314.7 70.3h0M319.7 53.5h0M311.4 57.6h0M329.6 41.6h0M332.0 75.3h0M333.4 56.0h0M332.6 72.3h0M321.5 58.5h0M321.5 43.1h0M320.0 72.6h0M310.4 59.0h0M338.6 61.2h0M328.3 50.5h0M323.5 48.4h0M323.4 75.5h0M315.7 55.7h0M327.3 63.4h0M323.0 57.8h0M331.4 70.6h0M324.0 61.7h0M311.3 63.3h0M329.6 56.2h0M337.4 62.9h0M310.6 68.9h0M326.1 68.5h0M310.8 47.7h0M318.1 46.3h0M310.1 48.0h0M322.8 70.5h0M317.8 77.1h0M321.4 41.4h0M330.6 57.7h0M328.2 69.8h0M319.0 61.8h0M324.6 63.1h0M328.3 71.7h0M332.3 54.0h0M314.5 62.3h0M333.3 43.4h0" stroke="#A3A500" stroke-width="1.5" stroke-linecap="round" fill="none"/>
<path d="M264.6 54.9h0M260.5 68.0h0M264.3 53.0h0M251.0 67.6h0M263.5 55.1h0M255.6 67.6h0M255.3 59.6h0M268.6 58.1h0M250.0 63.1h0M263.5 68.2h0M265.4 56.0h0M245.7 61.2h0M248.4 53.8h0M259.5 59.1h0M250.0 65.2h0M267.4 65.0h0M265.1 67.7h0M247.7 64.0h0M247.8 56.8h0M262.5 59.0h0M255.2 59.7h0M258.3 64.6h0M254.1 59.3h0M262.1 61.8h0M249.1 57.1h0M261.2 71.5h0M246.3 54.3h0M266.7 56.0h0M257.6 51.1h0M265.8 55.2h0M254.7 68.8h0M268.8 61.2h0M252.8 69.6h0M265.7 65.7h0M251.6 61.5h0M267.5 54.0h0M257.5 55.9h0M257.0 49.9h0M250.5 59.3h0M260.0 70.0h0M251.3 69.1h0M248.1 60.2h0M259.9 65.3h0M264.6 58.5h0M255.4 65.3h0M255.4 47.4h0M263.5 62.9h0M257.4 66.3h0M258.1 50.6h0M256.9 69.9h0M260.7 61.5h0M255.4 49.5h0M246.5 55.2h0M268.8 62.3h0M267.2 64.5h0M248.8 68.0h0M259.2 50.8h0M255.6 55.9h0M247.7 63.2h0M267.3 56.9h0M256.8 50.0h0M261.0 64.5h0M248.8 59.0h0M252.9 47.8h0M258.7 59.2h0M253.1 65.9h0M266.3 51.9h0M257.7 68.7h0M256.9 61.3h0M247.1 53.3h0M257.7 49.7h0M260.5 71.3h0M255.3 62.3h0M249.6 60.6h0M249.1 62.4h0M250.4 59.2h0M265.6 60.3h0M246.0 55.3h0M265.3 53.6h0M265.0 54.8h0M267.9 53.8h0M251.7 66.2h0M249.4 64.1h0M251.8 51.5h0M254.0 62.5h0M263.6 50.6h0M247.7 66.4h0M257.8 52.6h0M252.3 70.9h0M256.3 66.5h0M261.8 55.5h0M265.7 57.0h0M249.9 66.9h0M255.6 49.5h0M262.9 68.2h0M249.2 49.4h0M251.2 54.5h0M257.7 67.6h0M249.2 66.6h0M256.3 50.7h0M259.5 66.7h0M251.9 66.6h0M261.2 54.4h0M263.2 48.7h0M247.5 59.4h0M262.8 65.0h0M265.5 58.2h0M257.7 52.8h0M256.7 54.3h0M258.5 67.6h0M253.3 47.4h0M264.6 67.5h0" stroke="#39B600" stroke-width="1.5" stroke-linecap="round" fill="none"/>
<path d="M273.3 65.7h0M279.7 69.3h0M279.0 52.1h0M283.6 61.4h0M268.0 60.5h0M277.7 46.9h0M270.6 68.7h0M270.6 68.2h0M273.0 69.7h0M280.4 56.7h0M279.3 55.7h0M275.4 61.5h0M279.0 60.5h0M282.6 67.5h0M284.8 63.1h0M274.1 67.4h0M280.8 59.6h0M268.3 56.8h0M274.3 62.5h0M279.1 48.5h0M284.7 57.8h0M285.5 54.7h0M283.8 57.7h0M285.2 63.7h0M277.7 59.5h0M275.8 51.4h0M269.9 60.9h0M268.7 56.9h0M276.3 68.3h0M270.6 55.3h0M270.8 50.6h0M283.5 65.7h0M272.1 68.3h0M271.5 65.4h0M283.6 46.4h0M279.9 58.8h0M269.7 64.5h0M268.2 50.2h0M271.4 50.1h0M275.1 61.3h0M271.4 68.3h0M281.5 59.8h0M271.3 64.6h0M272.8 49.2h0M272.6 64.8h0M274.6 52.3h0M269.2 46.6h0M280.6 63.8h0M279.7 50.8h0M277.3 58.0h0M278.0 66.6h0M278.0 64.5h0M279.7 59.6h0M286.5 61.5h0M273.4 51.6h0M275.7 58.1h0M282.4 57.9h0M282.3 47.9h0M285.5 61.3h0M269.3 56.3h0M277.2 48.9h0M283.0 54.2h0M272.7 50.2h0M280.8 49.2h0M275.1 64.1h0M272.5 51.4h0M278.4 51.2h0M276.4 57.6h0M272.7 69.2h0M270.0 58.8h0M284.2 55.8h0M277.4 44.2h0M265.6 57.0h0M270.0 46.8h0M266.9 51.1h0M270.7 50.0h0M278.7 49.3h0M282.7 59.0h0M274.8 59.9h0M285.7 61.7h0M278.0 69.0h0M266.1 56.3h0M270.9 64.2h0M267.3 63.9h0M274.3 61.8h0M277.1 46.9h0M267.9 60.7h0M270.5 46.0h0" stroke="#00BF7D" stroke-width="1.5" stroke-linecap="round" fill="none"/>
<path d="M258.5 91.9h0M268.4 98.1h0M274.4 93.7h0M268.4 97.3h0M267.0 86.5h0M260.0 91.1h0M264.3 81.1h0M275.7 88.7h0M263.4 96.1h0M263.8 80.4h0M270.2 96.6h0M274.9 90.5h0M275.3 91.5h0M276.3 82.6h0M272.0 89.3h0M271.7 81.3h0M258.2 83.5h0M261.9 89.7h0M264.1 85.4h0M266.3 76.9h0M268.4 86.1h0M271.4 95.2h0M267.2 81.4h0M265.6 90.1h0M258.6 84.1h0M272.5 85.1h0M275.2 91.9h0M268.4 92.1h0M272.1 79.7h0M260.2 83.7h0M259.2 88.3h0M267.3 96.1h0M269.2 87.2h0M262.4 83.8h0M265.5 98.5h0M260.8 89.9h0M271.0 95.9h0M263.8 95.2h0M260.5 80.6h0" stroke="#00BFC4" stroke-width="1.5" stroke-linecap="round" fill="none"/>
<path d="M275.6 109.3h0M270.0 119.3h0M269.0 119.9h0M267.0 101.4h0M269.0 123.2h0M268.5 108.4h0M266.8 105.8h0M261.1 110.7h0M271.0 102.4h0M271.6 109.6h0M261.0 119.6h0M271.2 110.4h0M270.6 122.4h0M272.9 117.1h0M272.0 125.0h0M260.6 106.2h0M268.6 112.8h0M270.4 113.3h0M271.0 120.8h0M258.7 110.9h0M266.6 113.6h0M269.2 120.5h0M273.1 110.8h0M264.7 118.4h0M270.6 119.2h0M273.8 113.4h0M262.3 102.4h0M270.7 116.3h0M268.0 124.2h0M276.4 113.5h0M267.9 125.8h0M270.1 119.3h0M273.3 109.9h0M263.6 100.9h0M274.3 104.5h0" stroke="#00B0F6" stroke-width="1.5" stroke-linecap="round" fill="none"/>
<path d="M304.9 64.8h0M308.1 66.5h0M300.0 52.2h0M298.5 48.0h0M298.3 61.8h0M305.2 50.2h0M298.9 55.8h0M309.3 48.1h0M305.0 48.2h0M302.7 70.8h0M304.1 41.8h0M300.5 60.2h0M300.1 52.3h0M299.8 64.3h0M303.8 48.8h0M309.2 55.3h0M307.1 54.4h0M309.3 62.2h0M308.2 69.8h0M298.3 59.7h0M310.7 56.4h0M307.7 56.3h0M308.2 44.0h0" stroke="#9590FF" stroke-width="1.5" stroke-linecap="round" fill="none"/>
<path d="M297.7 85.7h0M288.1 80.9h0M296.6 80.2h0M287.8 92.2h0M301.8 90.8h0M290.9 90.1h0M297.0 94.2h0M302.1 92.5h0M300.5 94.0h0M299.8 89.2h0M295.1 77.0h0M289.7 96.2h0M288.7 86.7h0M296.8 75.2h0M290.5 88.5h0M300.8 85.4h0M296.7 74.9h0M300.8 90.6h0M293.7 84.6h0M299.5 89.5h0M286.5 88.4h0M286.0 87.0h0M299.6 84.0h0M288.7 85.7h0M299.2 78.6h0M297.5 79.0h0M302.0 79.2h0M292.0 94.2h0M289.3 75.8h0M304.3 85.4h0M292.8 84.5h0M301.5 85.8h0M290.3 95.4h0M300.7 91.0h0M294.5 77.3h0M301.0 79.8h0M285.3 84.8h0M300.6 94.3h0M303.9 82.1h0" stroke="#E76BF3" stroke-width="1.5" stroke-linecap="round" fill="none"/>
<path d="M278.0 101.3h0M285.0 107.4h0M292.8 103.1h0M287.2 99.8h0M280.2 104.9h0M282.6 103.2h0M293.6 103.1h0M286.7 107.8h0M290.0 100.4h0M281.5 105.1h0M281.2 103.0h0M288.1 104.0h0M290.4 101.1h0M290.7 106.6h0M285.5 101.1h0M279.4 103.4h0" stroke="#FF62BC" stroke-width="1.5" stroke-linecap="round" fill="none"/>
<path d="M317.9 62.7h0M322.5 99.3h0M323.8 94.8h0M310.2 78.2h0M306.8 83.1h0M317.2 99.4h0M309.9 74.6h0M310.3 76.3h0M331.3 80.3h0M313.1 76.0h0M317.8 79.0h0M310.4 93.1h0M332.6 86.6h0M315.2 69.4h0M324.3 91.3h0M306.2 84.1h0M326.2 87.7h0M306.4 90.4h0M305.7 70.9h0M305.0 90.0h0M314.4 93.7h0M302.9 83.8h0M320.3 69.1h0M305.0 88.9h0M329.1 77.6h0M311.9 69.0h0M310.0 85.1h0M315.3 81.0h0M305.5 94.4h0M312.0 73.0h0M330.9 89.9h0M326.5 77.8h0M305.7 86.0h0M311.2 77.7h0M326.5 76.2h0M307.8 67.7h0M312.5 96.0h0M314.8 85.4h0M311.2 90.5h0M311.9 98.4h0M317.3 84.9h0M314.2 93.3h0M312.7 97.1h0M315.6 73.7h0M303.4 85.6h0M315.1 70.9h0M314.9 68.4h0M328.1 83.8h0M313.0 73.4h0M316.2 101.7h0M305.7 89.9h0M321.1 94.1h0M326.9 77.5h0M329.2 86.6h0M328.2 81.3h0M319.0 78.3h0M317.5 101.5h0M328.3 86.7h0M314.3 65.1h0M318.2 83.6h0M314.1 66.2h0M322.3 85.1h0M318.2 63.1h0M310.9 76.4h0M317.3 70.3h0M306.2 79.0h0M318.0 78.0h0M314.7 83.1h0M323.1 100.3h0M316.8 99.8h0M319.7 70.0h0M315.4 89.8h0M323.5 74.2h0M316.2 93.3h0M318.8 74.4h0M306.7 95.8h0M304.8 86.6h0M322.5 70.2h0M310.0 96.3h0M305.2 78.4h0M325.5 79.8h0M318.0 67.0h0M324.3 88.1h0M324.5 99.9h0M321.2 65.9h0M318.8 80.3h0M306.1 82.2h0M314.4 92.3h0M321.0 79.7h0M314.0 71.1h0M309.9 94.9h0M311.3 66.1h0M318.5 95.3h0M318.9 67.9h0M323.9 98.8h0M312.4 98.8h0M323.5 75.9h0M310.4 90.4h0M313.8 97.8h0M319.6 85.3h0M307.7 91.6h0M319.0 76.9h0M313.1 69.6h0M316.9 91.2h0M325.0 81.9h0M329.2 94.0h0M312.3 84.3h0M304.3 80.5h0M329.4 75.6h0M310.9 73.2h0M308.0 73.8h0M311.5 82.3h0M318.2 74.5h0M329.9 83.2h0M322.7 67.6h0M327.2 89.4h0M328.8 92.8h0M311.1 82.6h0M315.1 91.2h0M330.2 93.3h0M331.1 85.5h0M323.8 98.1h0M316.2 84.1h0M307.4 89.1h0M329.8 80.7h0M313.4 94.2h0M312.5 84.0h0M328.6 85.7h0M309.0 80.1h0M320.0 85.8h0M323.5 67.4h0M315.9 76.2h0M314.1 94.4h0M314.5 85.0h0M330.4 80.7h0M317.6 92.3h0M327.4 84.3h0M326.4 93.2h0M310.7 98.4h0M307.3 78.2h0M327.5 74.2h0M316.1 95.5h0M304.1 88.6h0M321.5 70.8h0M306.3 88.4h0M316.7 86.1h0M310.8 65.6h0M320.8 63.2h0M308.9 71.8h0M305.4 72.0h0M309.0 67.4h0M321.2 81.2h0M325.5 97.9h0M322.2 95.8h0M308.3 96.4h0M310.0 82.5h0M326.6 72.2h0M330.9 80.0h0M314.0 101.3h0M319.3 80.9h0M302.7 80.9h0M314.8 67.4h0M318.3 85.0h0M311.8 83.6h0M318.1 87.5h0M317.9 79.9h0M305.4 87.1h0M316.7 83.4h0M314.0 93.0h0M331.6 90.1h0M316.8 96.1h0M307.4 75.0h0M305.3 84.9h0M305.1 92.0h0" stroke="#F8766D" stroke-width="1.5" stroke-linecap="round" fill="none"/>
<path d="M273.4 26.3h0M264.4 37.4h0M272.3 22.5h0M278.4 44.4h0M271.8 49.5h0M282.5 51.9h0M282.9 51.7h0M282.1 50.9h0M270.1 30.7h0M276.7 41.3h0M275.0 54.7h0M268.3 46.1h0M275.7 37.4h0M269.8 40.5h0M283.1 42.0h0M274.6 44.7h0M284.3 33.9h0M261.7 42.4h0M283.1 58.3h0M286.8 49.8h0M265.2 43.7h0M283.3 37.7h0M272.3 48.3h0M278.0 53.4h0M276.2 35.6h0M281.1 42.0h0M268.8 27.2h0M270.6 33.1h0M271.1 39.3h0M285.2 49.3h0M263.3 44.5h0M276.4 27.7h0M265.3 39.9h0M272.7 51.3h0M287.7 42.5h0M284.3 59.1h0M285.4 39.7h0M276.9 43.8h0M278.8 31.8h0M276.1 43.8h0M270.3 38.8h0M269.7 41.1h0M264.3 34.7h0M270.1 31.7h0M287.2 40.1h0M281.3 50.7h0M277.7 48.3h0M285.3 53.1h0M286.4 48.8h0M270.7 39.1h0M272.0 23.1h0M270.5 48.7h0M268.8 50.3h0M277.8 51.9h0M272.8 43.1h0M264.2 49.3h0M271.2 37.5h0M265.5 47.2h0M287.0 37.3h0M282.2 49.1h0M272.8 24.3h0M284.8 62.4h0M271.7 25.8h0M285.5 49.1h0M285.2 48.0h0M266.4 50.8h0M276.2 29.6h0M285.1 35.2h0M289.0 55.2h0M271.0 29.2h0M268.0 24.7h0M287.0 49.3h0M262.9 47.4h0M288.2 39.7h0M288.3 43.6h0M263.7 44.7h0M260.9 46.4h0M277.8 38.5h0M272.1 31.4h0M285.9 42.7h0M279.5 33.0h0M270.9 25.7h0M274.1 31.9h0M273.5 40.1h0M286.3 48.4h0M264.1 43.0h0M287.6 41.1h0" stroke="#D89000" stroke-width="1.5" stroke-linecap="round" fill="none"/>
<path d="M326.7 52.3h0M318.2 61.8h0M315.4 47.6h0M338.7 63.5h0M324.2 60.0h0M337.9 61.0h0M320.0 59.2h0M312.6 45.6h0M327.0 62.4h0M322.2 72.7h0M333.8 45.9h0M313.0 52.4h0M314.0 58.8h0M331.2 69.6h0M319.9 45.2h0M335.4 60.5h0M335.9 51.7h0M317.1 61.3h0M333.1 66.9h0M312.6 50.4h0M312.2 66.6h0M319.2 63.2h0M324.5 70.9h0M326.1 59.2h0M313.6 49.3h0M320.1 54.0h0M325.4 68.5h0M332.2 58.7h0M333.6 61.8h0M319.6 41.0h0M324.0 55.0h0M332.8 74.0h0M311.0 60.2h0M313.9 70.4h0M322.0 47.4h0M312.4 69.2h0M327.8 47.6h0M338.6 63.8h0M338.6 58.6h0M337.2 55.1h0M319.5 60.8h0M333.2 51.2h0M333.6 45.4h0M317.8 64.8h0M332.8 59.1h0M327.9 61.3h0M332.6 58.1h0M314.8 61.8h0M313.9 61.0h0M323.9 60.3h0M336.4 62.6h0M337.6 52.0h0M322.1 69.7h0M327.1 54.6h0M328.2 54.6h0M319.4 66.9h0M320.5 43.9h0M314.1 55.4h0M309.6 58.7h0M321.9 57.3h0M331.3 54.4h0M312.3 68.8h0M328.0 56.9h0M322.0 61.0h0M319.6 44.2h0M313.1 57.8h0M326.1 39.6h0M318.7 55.2h0M325.8 58.1h0M328.1 74.5h0M324.6 47.9h0M312.8 70.7h0M317.4 69.7h0M320.3 69.4h0M311.0 57.4h0M334.0 56.8h0M327.7 63.5h0M316.0 67.5h0M323.2 68.5h0M329.5 72.5h0M311.4 54.4h0M327.6 55.0h0M312.3 54.1h0M335.3 59.3h0M333.0 69.8h0M331.7 47.7h0M316.5 70.6h0M317.8 67.8h0M319.3 41.1h0M320.6 51.1h0M325.4 62.0h0M320.0 52.3h0M334.4 54.0h0M316.0 47.7h0M330.9 45.8h0M336.9 51.7h0M323.6 68.6h0M334.1 67.1h0M334.1 63.7h0M324.6 75.1h0M327.0 49.9h0M313.4 67.7h0M319.9 69.6h0M334.8 62.2h0M325.6 70.0h0M337.1 60.9h0M309.4 67.8h0M318.5 74.3h0M308.2 53.7h0M316.1 51.0h0M319.1 65.2h0M324.8 66.1h0M335.2 56.5h0M311.5 68.5h0M328.8 70.3h0M309.8 57.7h0M318.7 52.4h0M323.2 64.0h0" stroke="#A3A500" stroke-width="1.5" stroke-linecap="round" fill="none"/>
<path d="M251.9 61.6h0M248.1 51.6h0M253.3 55.4h0M246.8 61.6h0M257.6 60.6h0M251.0 49.2h0M264.1 65.9h0M258.7 58.5h0M259.4 71.0h0M256.0 50.3h0M256.5 57.2h0M264.3 53.5h0M262.0 68.5h0M251.7 66.8h0M264.5 53.3h0M262.1 68.3h0M247.5 61.8h0M254.4 68.3h0M255.9 57.8h0M257.0 66.5h0M255.7 55.3h0M246.0 59.3h0M248.5 51.8h0M261.6 69.2h0M258.5 50.6h0M256.5 64.9h0M250.6 69.7h0M257.0 64.0h0M258.6 50.0h0M258.3 45.4h0M266.9 62.8h0M256.2 48.1h0M261.9 70.1h0M264.0 63.9h0M265.1 61.7h0M269.0 58.0h0M262.0 54.7h0M247.9 56.9h0M267.0 65.2h0M251.8 48.6h0M246.7 58.2h0M260.4 55.6h0M254.1 60.8h0M266.4 61.9h0M254.1 50.5h0M251.8 68.3h0M247.5 64.4h0M259.3 67.4h0M253.5 48.0h0M251.0 60.6h0M253.3 56.0h0M260.2 60.2h0M246.3 58.1h0M264.2 58.4h0M260.5 46.3h0M250.5 64.5h0M255.2 45.9h0M258.3 57.9h0M260.2 54.1h0M258.7 52.7h0M254.7 67.9h0M252.1 55.8h0M265.0 62.6h0M247.1 57.1h0M253.9 50.7h0M248.0 58.2h0M260.7 45.6h0M250.3 63.8h0M266.0 60.0h0M258.0 47.6h0M250.7 54.2h0M248.0 63.3h0M261.2 67.7h0M255.6 58.0h0M252.1 66.3h0M261.9 67.5h0M264.8 55.1h0M266.1 54.6h0M259.9 62.2h0M254.5 51.7h0M258.0 62.8h0M263.0 57.8h0M250.1 61.7h0M254.8 62.5h0M250.8 53.9h0M256.0 52.0h0M260.6 60.3h0M269.2 56.9h0M262.7 55.4h0M260.8 52.7h0M264.6 53.2h0M261.6 64.6h0M248.7 56.2h0M251.7 49.5h0M253.0 62.5h0M254.1 47.5h0M257.2 49.7h0M265.6 62.7h0M249.2 65.3h0M252.7 47.6h0M268.8 54.6h0M259.4 55.6h0" stroke="#39B600" stroke-width="1.5" stroke-linecap="round" fill="none"/>
<path d="M284.8 54.1h0M273.5 67.7h0M272.4 59.9h0M275.2 57.3h0M274.6 67.7h0M272.6 62.3h0M271.7 50.5h0M275.9 51.6h0M277.2 63.9h0M268.6 50.8h0M281.8 59.9h0M271.5 55.8h0M266.9 54.5h0M283.2 62.3h0M273.1 47.0h0M273.6 57.5h0M274.1 59.5h0M274.3 55.5h0M281.9 61.2h0M279.4 55.1h0M276.7 47.6h0M267.5 64.6h0M283.5 65.4h0M285.0 65.3h0M268.8 51.4h0M275.0 53.6h0M282.0 61.2h0M283.5 50.3h0M277.3 69.5h0M282.9 49.6h0M282.7 66.4h0M277.5 70.5h0M279.3 63.2h0M284.2 58.3h0M272.7 67.5h0M267.7 59.7h0M280.9 58.4h0M269.1 60.6h0M279.6 59.5h0M279.7 51.9h0M277.8 45.2h0M274.8 66.3h0M269.9 54.0h0M282.2 48.2h0M269.1 59.6h0M270.9 50.9h0M266.8 57.8h0M273.8 47.0h0M273.5 52.6h0M280.8 67.5h0M274.2 61.5h0M275.2 43.3h0M285.3 62.2h0M277.5 44.6h0M267.2 52.9h0M282.9 46.4h0M284.6 61.3h0M269.4 63.2h0M277.5 68.8h0M271.1 67.4h0M274.8 47.9h0M286.0 51.7h0M269.0 52.1h0M283.1 47.7h0M267.6 63.8h0M273.3 61.1h0M270.7 55.1h0M284.9 65.9h0M285.9 63.6h0M284.4 52.1h0M277.7 58.1h0M279.6 56.4h0M278.3 53.2h0M276.7 49.4h0M281.6 61.9h0M278.7 46.8h0M268.1 50.3h0M279.9 66.7h0M282.1 64.2h0M272.4 48.8h0M277.5 58.8h0M284.7 53.6h0M278.8 70.7h0M275.5 59.5h0M272.0 69.6h0M270.5 55.1h0M277.7 69.2h0M285.6 60.9h0M275.2 67.2h0M274.6 45.6h0M283.9 48.9h0M280.4 67.3h0M273.2 59.5h0M272.4 66.7h0M268.3 60.5h0M279.7 61.2h0M276.5 58.8h0M282.4 58.1h0M280.5 53.7h0M276.6 62.8h0" stroke="#00BF7D" stroke-width="1.5" stroke-linecap="round" fill="none"/>
<path d="M266.5 78.1h0M276.0 91.8h0M275.8 90.7h0M277.1 87.4h0M264.0 97.6h0M273.6 91.2h0M258.4 83.4h0M272.8 84.0h0M274.6 81.6h0M272.7 82.0h0M266.8 89.2h0M276.4 90.4h0M271.7 97.3h0M262.5 77.7h0M268.1 77.2h0M265.4 94.4h0M267.7 98.7h0M272.1 93.8h0M260.2 86.7h0M267.3 86.9h0M263.4 95.4h0M270.3 82.9h0M266.1 95.7h0M266.0 96.2h0M260.7 86.7h0M264.2 87.1h0M266.4 95.0h0M274.3 83.4h0M258.0 83.6h0M272.3 80.0h0M275.5 93.1h0M263.1 92.0h0M277.0 87.7h0M268.7 93.6h0M265.1 94.5h0M262.3 78.3h0" stroke="#00BFC4" stroke-width="1.5" stroke-linecap="round" fill="none"/>
<path d="M267.0 114.7h0M262.8 101.4h0M273.2 122.8h0M261.0 115.8h0M274.1 109.3h0M275.2 107.7h0M259.8 107.6h0M264.3 117.7h0M267.0 123.4h0M262.7 115.4h0M268.0 110.9h0M273.8 121.5h0M272.7 112.8h0M259.1 108.6h0M275.6 120.1h0M268.6 103.9h0M263.9 124.6h0M270.0 121.7h0M268.9 120.5h0M265.5 108.4h0M265.2 119.7h0M258.4 114.2h0M267.3 121.2h0M270.6 112.1h0M265.2 100.7h0M272.9 123.1h0M261.6 121.1h0M274.1 109.4h0M268.4 107.8h0M267.1 108.3h0M259.8 106.1h0M267.3 119.6h0M261.6 118.4h0M265.7 106.5h0M271.2 108.1h0M274.1 110.0h0M261.3 119.3h0M261.2 109.3h0M264.7 109.3h0M270.3 121.5h0M266.1 105.3h0M266.2 126.4h0M272.4 107.5h0M264.2 101.2h0M272.7 114.4h0M271.1 112.4h0M270.2 121.8h0M268.4 104.2h0M269.1 124.7h0M269.9 101.2h0" stroke="#00B0F6" stroke-width="1.5" stroke-linecap="round" fill="none"/>
<path d="M298.2 53.7h0M299.9 65.8h0M302.8 46.5h0M309.3 46.0h0M304.8 46.8h0M310.0 57.7h0M301.5 62.0h0M300.0 69.2h0M306.0 45.2h0M298.2 65.9h0M307.3 43.4h0M305.3 68.6h0M303.4 62.6h0M307.4 56.7h0M305.9 66.2h0M308.8 68.1h0M303.8 59.7h0M306.9 47.3h0M309.3 46.8h0M308.6 63.0h0M308.1 48.8h0M305.6 52.7h0M304.7 56.3h0M299.9 70.5h0M310.3 53.1h0M308.6 51.8h0M302.6 59.2h0M307.3 56.1h0M310.2 52.5h0M299.4 60.7h0M302.6 43.1h0M301.5 58.5h0M303.5 53.3h0" stroke="#9590FF" stroke-width="1.5" stroke-linecap="round" fill="none"/>
<path d="M297.1 93.3h0M294.6 94.4h0M298.4 79.6h0M286.3 87.6h0M297.7 91.6h0M288.1 90.4h0M302.8 85.2h0M299.5 89.1h0M292.2 90.9h0M303.7 80.0h0M298.7 93.5h0M293.8 90.8h0M292.6 92.6h0M292.6 80.6h0M301.7 88.0h0M289.1 95.6h0M288.1 77.9h0M301.2 82.5h0M297.0 75.0h0M292.9 81.8h0M293.9 95.9h0M297.1 77.2h0M298.1 96.3h0M287.4 92.0h0M295.8 84.2h0M287.0 91.9h0M298.0 75.9h0M299.4 79.2h0M300.9 85.6h0M283.9 85.9h0" stroke="#E76BF3" stroke-width="1.5" stroke-linecap="round" fill="none"/>
<path d="M280.0 102.8h0M291.2 101.2h0M285.7 100.9h0M281.2 100.4h0M293.5 103.4h0M281.7 101.8h0M289.5 107.3h0M286.2 105.5h0M282.1 102.5h0" stroke="#FF62BC" stroke-width="1.5" stroke-linecap="round" fill="none"/>
<path d="M312.8 83.6h0M310.4 84.8h0M328.3 96.5h0M316.6 64.9h0M317.1 96.7h0M327.2 98.3h0M320.0 101.4h0M317.7 78.9h0M322.0 101.0h0M313.9 84.0h0M321.7 80.5h0M315.1 74.7h0M323.8 82.4h0M316.5 89.8h0M310.9 74.3h0M314.4 83.5h0M319.0 81.5h0M312.6 67.8h0M319.8 66.9h0M315.4 70.8h0M311.1 85.3h0M321.7 71.7h0M307.2 85.2h0M331.1 83.9h0M306.8 73.0h0M303.9 77.9h0M319.2 76.1h0M311.3 97.7h0M310.0 80.4h0M308.7 83.7h0M311.3 96.8h0M324.5 100.1h0M319.5 99.8h0M322.4 88.3h0M316.8 66.4h0M311.4 91.7h0M320.7 101.6h0M311.7 83.2h0M326.3 77.1h0M311.1 92.3h0M304.7 79.7h0M327.9 93.4h0M320.5 79.1h0M304.3 83.2h0M316.4 97.9h0M315.7 98.7h0M309.2 80.3h0M312.5 68.7h0M329.6 85.9h0M331.5 75.1h0M320.5 102.1h0M322.7 65.9h0M309.0 86.8h0M317.7 102.5h0M324.7 78.9h0M310.1 92.9h0M331.8 88.8h0M305.8 91.0h0M331.0 78.3h0M323.5 73.5h0M311.0 86.7h0M326.9 88.1h0M311.7 71.2h0M304.3 81.3h0M330.1 91.5h0M316.6 86.5h0M332.0 76.6h0M327.2 67.2h0M306.1 71.7h0M305.0 86.7h0M305.9 83.4h0M324.4 78.2h0M325.7 76.5h0M325.5 91.7h0M323.1 76.6h0M309.2 74.3h0M310.9 82.2h0M325.4 81.4h0M325.0 85.6h0M313.5 80.6h0M309.1 75.1h0M323.0 94.1h0M303.2 84.3h0M306.4 77.3h0M305.5 91.0h0M310.8 70.4h0M329.8 72.2h0M323.5 100.4h0M322.6 70.6h0M320.5 72.2h0M312.0 88.9h0M316.0 101.6h0M321.4 67.4h0M332.3 82.0h0M305.1 74.7h0M312.7 92.7h0M316.5 95.7h0M319.8 88.9h0M317.8 89.5h0M313.4 100.9h0M319.4 65.4h0M311.6 78.9h0M328.7 92.1h0M317.6 78.2h0M325.1 81.8h0M327.6 81.5h0M314.2 95.4h0M325.0 92.7h0M321.0 80.6h0M329.2 85.2h0M323.4 78.1h0M303.2 79.7h0M328.3 74.1h0M317.2 102.3h0M326.5 86.5h0M326.1 76.4h0M319.7 88.8h0M324.9 95.1h0M313.1 96.0h0M312.5 67.3h0M319.4 95.2h0M315.7 64.5h0M317.5 73.4h0M312.3 77.9h0M310.9 96.9h0M319.6 81.8h0M325.4 70.6h0M306.2 88.5h0M316.3 99.3h0M306.8 70.4h0M315.2 68.5h0M306.2 89.4h0M313.4 78.0h0M315.2 89.9h0M330.2 72.8h0M305.0 88.1h0M324.5 100.5h0M326.5 82.3h0M316.9 87.9h0M319.3 74.1h0M311.2 97.0h0M306.7 82.5h0M309.9 88.4h0M322.2 65.6h0M303.6 76.0h0M316.4 70.7h0M316.5 95.7h0M329.0 82.6h0M329.5 82.3h0M330.2 93.5h0M319.6 79.1h0M313.2 71.0h0M308.3 76.8h0M308.4 70.1h0M311.9 76.0h0M323.8 80.6h0M320.3 71.1h0M325.9 88.3h0M322.9 92.8h0M319.9 64.6h0M304.7 91.4h0M321.3 91.9h0M321.4 77.6h0M307.4 81.7h0M309.2 75.9h0M314.0 71.0h0M320.1 96.1h0M305.7 76.5h0M330.3 81.2h0M311.9 83.4h0M327.1 77.7h0M321.1 71.7h0M330.0 88.5h0M304.0 79.6h0M315.6 70.9h0M304.4 88.3h0M325.0 71.4h0M325.3 97.0h0M311.0 95.1h0M320.4 70.4h0M330.3 81.3h0M309.2 80.1h0M309.3 80.8h0M307.9 68.2h0M315.0 69.0h0M305.1 76.9h0M328.0 81.4h0M324.6 87.7h0M314.0 66.2h0M325.1 79.9h0M331.0 88.8h0M326.2 80.8h0M325.6 90.6h0M304.0 90.7h0M305.2 90.9h0M330.6 72.6h0M326.9 79.2h0M312.8 68.9h0M315.4 66.0h0M316.2 80.6h0M326.8 74.7h0M317.4 76.9h0M307.8 88.4h0M323.6 70.3h0M323.2 76.6h0M303.8 84.0h0M320.3 94.4h0M320.2 66.5h0M307.5 93.5h0M309.6 75.3h0M319.8 75.0h0M304.4 89.7h0" stroke="#F8766D" stroke-width="1.5" stroke-linecap="round" fill="none"/>
<path d="M270.9 22.3h0M282.2 40.3h0M270.9 51.2h0M275.8 51.6h0M280.7 34.2h0M277.2 49.2h0M274.9 23.1h0M268.7 48.1h0M286.2 47.3h0M284.4 56.8h0M277.2 37.5h0M281.2 50.4h0M272.2 51.5h0M285.5 34.9h0M280.3 41.5h0M273.0 28.1h0M284.4 42.0h0M287.1 58.6h0M265.5 38.9h0M288.7 41.3h0M271.2 50.2h0M281.8 36.4h0M272.8 31.7h0M262.6 39.8h0M276.1 47.0h0M272.0 43.8h0M286.3 47.0h0M264.1 47.5h0M273.0 31.3h0M284.4 46.1h0M289.1 39.7h0M262.2 38.1h0M273.6 25.5h0M269.3 27.6h0M288.2 61.0h0M287.7 56.3h0M279.4 48.2h0M275.5 27.0h0M270.9 38.9h0M273.1 23.5h0M286.8 48.8h0M267.6 47.1h0M274.1 27.3h0M286.5 38.8h0M282.2 52.8h0M289.1 58.0h0M270.2 31.0h0M264.8 36.9h0M287.4 54.1h0M286.0 56.2h0M277.0 36.4h0M276.1 50.0h0M271.9 34.3h0M276.6 25.4h0M268.2 50.3h0M269.7 38.9h0M275.8 52.6h0M284.6 61.3h0M266.4 33.3h0M278.4 38.5h0M268.7 53.3h0M268.9 46.2h0M287.4 48.5h0M274.0 48.9h0M272.7 41.4h0M266.1 45.5h0M288.2 58.0h0M273.6 37.8h0M271.8 31.5h0" stroke="#D89000" stroke-width="1.5" stroke-linecap="round" fill="none"/>
<path d="M321.5 54.6h0M330.6 62.2h0M326.1 67.2h0M316.5 42.0h0M329.2 63.5h0M325.1 64.2h0M308.7 52.3h0M320.4 40.2h0M323.5 49.5h0M321.5 52.3h0M316.1 67.1h0M317.0 56.3h0M314.9 70.8h0M315.0 43.8h0M318.2 43.7h0M317.1 42.1h0M326.2 43.4h0M311.2 62.1h0M329.6 49.9h0M325.6 77.1h0M310.7 66.2h0M308.7 65.9h0M337.5 49.6h0M335.3 71.1h0M324.3 52.1h0M336.9 50.6h0M329.8 51.9h0M314.3 59.3h0M326.7 69.3h0M311.8 55.4h0M328.9 63.8h0M322.5 50.2h0M318.3 65.8h0M331.8 55.9h0M324.4 47.5h0M325.2 67.8h0M318.4 48.3h0M321.9 65.5h0M327.3 74.9h0M329.3 66.9h0M322.8 71.3h0M336.8 60.0h0M331.5 58.3h0M332.0 61.7h0M326.3 63.7h0M319.1 52.3h0M324.8 54.7h0M319.7 51.7h0M330.2 75.8h0M317.6 66.7h0M326.1 62.2h0M337.8 59.7h0M329.8 63.2h0M338.5 58.0h0M316.6 71.8h0M323.2 52.7h0M332.6 74.0h0M336.6 51.9h0M331.4 42.2h0M323.8 51.2h0M318.6 43.2h0M316.8 71.3h0M332.1 54.4h0M324.5 41.7h0M313.7 50.0h0M317.6 72.4h0M324.2 40.7h0M325.8 75.5h0M325.8 50.0h0M318.4 69.1h0M320.2 69.4h0M317.2 59.4h0M326.0 69.6h0M327.6 75.4h0M314.5 63.6h0M311.5 71.6h0M321.0 44.9h0M333.0 64.7h0M315.7 41.7h0M327.6 52.7h0M337.7 67.5h0M313.2 71.4h0M327.7 62.8h0M310.9 52.7h0M327.7 52.6h0M313.0 48.0h0M334.2 67.1h0M328.7 77.1h0M314.4 74.6h0M328.9 61.6h0M317.1 43.9h0M319.2 45.4h0M310.4 58.4h0M323.7 64.0h0M333.5 52.8h0M317.2 66.7h0M321.0 41.4h0M326.9 42.6h0M328.1 65.8h0M331.1 67.8h0M313.5 67.1h0M316.2 61.4h0M322.8 52.5h0M326.5 58.1h0M322.5 55.2h0M315.0 46.9h0M335.9 49.9h0M327.8 59.5h0M317.5 43.7h0M331.0 51.0h0" stroke="#A3A500" stroke-width="1.5" stroke-linecap="round" fill="none"/>
<path d="M266.7 62.3h0M259.3 47.7h0M260.7 70.5h0M261.6 63.1h0M259.0 54.6h0M254.3 69.7h0M263.3 55.2h0M256.9 57.3h0M263.1 47.8h0M263.5 62.0h0M266.1 64.3h0M265.4 58.3h0M247.2 61.0h0M250.6 60.4h0M248.5 65.2h0M246.9 64.5h0M247.9 65.4h0M264.2 64.8h0M251.7 52.3h0M261.5 62.4h0M258.6 64.8h0M253.6 53.8h0M262.1 65.9h0M258.4 60.7h0M258.8 68.6h0M267.0 60.7h0M253.9 56.2h0M252.2 50.9h0M256.1 60.9h0M255.1 53.4h0M254.1 68.6h0M257.8 49.1h0M267.2 62.5h0M253.5 60.2h0M260.1 62.1h0M256.5 45.8h0M258.0 66.1h0M252.7 52.4h0M256.4 59.4h0M253.6 57.9h0M249.1 59.6h0M249.7 65.4h0M251.6 46.6h0M260.4 52.6h0M256.3 53.9h0M251.2 53.5h0M264.3 59.3h0M256.5 56.0h0M261.5 69.1h0M253.0 61.3h0M247.0 54.0h0M247.8 52.7h0M261.1 61.7h0M249.3 62.5h0M267.9 52.5h0M248.1 65.3h0M262.1 68.5h0M256.5 46.3h0M250.7 67.2h0M265.1 58.6h0M262.4 67.2h0M261.3 50.3h0M250.6 66.9h0M253.4 66.2h0M247.1 59.3h0M263.3 65.3h0M255.9 70.0h0M256.3 45.9h0M248.7 63.4h0M256.9 56.3h0M247.8 58.0h0M251.4 70.2h0M249.7 63.1h0M263.3 59.1h0M255.1 49.1h0M266.4 66.4h0M261.2 61.3h0M269.0 57.2h0M267.9 59.5h0M255.6 69.8h0M250.0 59.5h0M255.4 71.4h0M246.5 60.7h0M254.3 54.1h0M247.4 60.0h0M256.0 59.7h0M253.9 57.7h0M260.4 68.1h0M253.0 65.1h0M254.9 51.6h0M263.3 50.6h0M263.1 63.4h0M250.0 62.8h0M257.3 48.4h0M263.1 46.5h0M255.4 48.8h0M247.8 62.4h0M254.5 53.7h0M260.3 68.5h0" stroke="#39B600" stroke-width="1.5" stroke-linecap="round" fill="none"/>
<path d="M285.4 54.1h0M278.4 67.8h0M271.9 60.1h0M273.2 66.1h0M278.8 49.4h0M273.4 70.0h0M275.0 50.5h0M268.4 60.4h0M278.0 54.9h0M277.1 61.0h0M272.1 59.9h0M270.9 58.5h0M265.9 55.6h0M274.2 65.6h0M271.9 47.8h0M279.2 64.8h0M271.0 57.7h0M274.5 65.4h0M274.8 67.9h0M272.6 48.0h0M279.4 53.4h0M266.4 57.4h0M285.4 53.7h0M274.4 49.6h0M271.3 50.7h0M270.9 55.5h0M267.3 59.3h0M266.1 60.3h0M270.3 55.6h0M283.8 67.2h0M275.1 67.6h0M274.9 46.4h0M271.1 52.6h0M284.1 61.6h0M275.4 52.9h0M267.2 51.5h0M270.6 60.7h0M285.5 49.2h0M280.8 58.5h0M275.5 56.7h0M272.9 59.0h0M279.4 44.6h0M265.9 60.5h0M285.2 48.8h0M284.4 56.5h0M276.5 62.6h0M283.6 52.8h0M277.7 69.6h0M274.5 68.1h0M283.0 49.9h0M271.1 56.9h0M282.0 65.3h0M272.5 59.5h0M280.3 69.5h0M276.6 58.0h0M277.9 52.1h0M274.6 56.3h0M270.2 55.7h0M272.6 63.9h0M270.0 60.3h0M274.1 67.9h0M270.7 55.6h0M269.9 53.8h0M279.2 47.3h0M281.5 58.5h0M270.2 53.4h0M281.2 66.7h0M280.4 52.5h0M275.5 50.5h0M280.7 51.3h0M279.6 54.0h0M267.4 52.3h0M275.7 51.1h0M279.3 48.9h0M279.4 43.7h0M268.5 56.3h0M271.9 56.3h0" stroke="#00BF7D" stroke-width="1.5" stroke-linecap="round" fill="none"/>
<path d="M271.4 89.9h0M272.7 87.5h0M269.8 86.1h0M274.1 80.8h0M272.7 85.6h0M274.9 92.3h0M273.1 89.7h0M262.1 82.9h0M271.5 93.7h0M273.2 91.9h0M273.7 83.1h0M260.9 83.4h0M263.6 93.0h0M269.7 84.1h0M273.8 80.9h0M268.5 88.3h0M264.6 76.4h0M266.3 78.0h0M265.8 77.2h0M275.1 82.7h0M273.1 93.9h0M275.4 84.4h0M261.2 82.0h0M267.8 81.8h0M263.5 87.1h0M271.5 86.6h0M269.1 97.4h0M263.1 97.2h0M262.5 91.7h0M265.7 86.1h0M273.2 86.2h0M272.2 87.1h0M261.9 91.8h0M271.1 93.1h0M262.2 86.7h0M260.7 83.3h0M272.8 84.8h0M270.0 89.8h0M270.0 85.0h0M261.4 82.9h0" stroke="#00BFC4" stroke-width="1.5" stroke-linecap="round" fill="none"/>
<path d="M260.2 120.8h0M265.3 108.8h0M271.4 109.3h0M267.6 120.2h0M275.6 107.4h0M258.5 117.5h0M265.6 100.4h0M273.7 107.1h0M268.4 111.3h0M265.3 106.0h0M267.3 106.5h0M268.7 111.3h0M266.7 113.7h0M264.6 121.8h0M267.6 103.8h0M264.4 115.0h0M267.5 123.9h0M263.7 119.9h0M273.4 113.0h0M260.6 122.8h0M267.9 125.6h0M268.9 105.3h0M271.1 123.9h0M267.2 102.1h0M263.7 109.1h0M260.9 113.0h0M266.8 115.1h0M276.3 116.2h0M269.3 116.4h0M267.2 101.4h0M274.7 112.8h0M269.5 110.1h0M275.1 115.2h0M266.0 125.3h0M269.8 120.6h0M273.3 121.5h0M270.2 109.6h0M263.5 125.5h0M267.8 103.0h0M275.6 108.5h0M260.9 105.8h0M267.8 106.5h0M266.2 107.1h0M269.7 116.5h0M258.6 109.6h0M264.9 117.7h0M270.4 125.9h0M268.6 123.8h0M275.8 115.5h0M259.3 110.0h0M270.4 113.7h0M268.9 125.7h0M260.3 111.7h0M260.7 107.6h0M263.2 108.8h0M271.9 101.4h0M262.2 114.5h0M267.7 103.3h0M267.4 124.6h0M267.5 121.7h0M275.5 113.6h0M269.6 125.8h0M265.9 103.6h0M265.4 119.7h0" stroke="#00B0F6" stroke-width="1.5" stroke-linecap="round" fill="none"/>
<path d="M298.5 54.8h0M306.1 70.3h0M302.6 66.9h0M308.2 44.6h0M301.6 64.4h0M305.6 71.4h0M300.7 65.0h0M305.0 46.8h0M309.2 49.8h0M308.5 68.2h0M304.8 70.6h0M305.6 50.0h0M300.9 71.0h0M305.3 60.1h0M298.1 58.4h0M299.7 63.4h0M303.8 68.0h0M310.7 55.8h0M304.4 49.5h0M308.7 64.9h0M309.3 62.6h0M307.1 58.8h0M297.8 60.8h0M301.5 55.5h0M306.7 42.3h0M302.3 63.0h0" stroke="#9590FF" stroke-width="1.5" stroke-linecap="round" fill="none"/>
<path d="M287.3 83.1h0M286.5 82.6h0M286.0 87.6h0M286.5 83.7h0M295.8 82.7h0M298.0 81.1h0M285.0 81.7h0M297.1 84.0h0M296.3 77.7h0M295.5 83.6h0M285.5 80.2h0M296.6 92.2h0M284.5 88.5h0M294.7 96.2h0M300.5 84.8h0M304.7 88.6h0M301.0 86.6h0M288.4 93.2h0M287.8 87.5h0M302.8 82.4h0M285.5 90.6h0M302.2 91.5h0M303.5 87.9h0" stroke="#E76BF3" stroke-width="1.5" stroke-linecap="round" fill="none"/>
<path d="M280.9 104.8h0M281.8 107.1h0M289.3 102.2h0M289.0 101.5h0M280.1 102.5h0M279.2 100.7h0M282.8 106.1h0M278.3 104.9h0M289.5 102.8h0M284.5 102.3h0M290.9 103.5h0M290.8 104.3h0M281.3 105.4h0M283.4 99.4h0M283.4 101.8h0M288.9 105.8h0M289.7 107.0h0M289.3 106.3h0M279.2 101.3h0" stroke="#FF62BC" stroke-width="1.5" stroke-linecap="round" fill="none"/>
<path d="M303.1 84.6h0M327.4 77.7h0M328.3 74.8h0M325.5 90.1h0M323.4 72.0h0M312.9 81.9h0M311.5 92.4h0M309.1 70.9h0M305.6 84.2h0M317.8 79.5h0M310.8 82.9h0M329.7 80.7h0M314.2 82.0h0M314.9 97.1h0M305.5 84.4h0M320.7 77.8h0M307.6 77.8h0M325.5 79.1h0M317.7 101.6h0M304.6 72.7h0M327.6 76.8h0M309.5 80.3h0M326.3 83.8h0M317.4 74.6h0M329.5 78.0h0M324.6 98.3h0M328.9 90.9h0M329.8 85.2h0M314.2 73.6h0M317.1 75.9h0M310.6 90.0h0M327.1 89.7h0M329.9 81.6h0M324.1 88.7h0M328.7 91.8h0M326.0 98.5h0M316.2 91.4h0M309.8 96.1h0M327.4 85.5h0M326.8 95.7h0M319.5 63.5h0M327.2 90.5h0M310.9 73.2h0M312.4 69.8h0M326.5 96.5h0M314.5 65.0h0M320.0 83.6h0M318.3 75.9h0M332.0 87.5h0M312.8 87.2h0M329.2 89.7h0M319.2 68.0h0M324.9 90.3h0M305.1 89.9h0M307.8 88.9h0M323.1 92.6h0M318.0 83.4h0M327.2 98.3h0M312.5 76.3h0M322.3 76.1h0M314.5 89.4h0M320.9 86.2h0M306.5 94.3h0M316.1 79.1h0M316.3 91.2h0M320.5 92.9h0M306.4 91.7h0M326.2 84.6h0M314.0 100.8h0M326.8 82.5h0M322.2 97.1h0M322.5 71.7h0M329.5 81.2h0M319.6 68.9h0M319.0 87.2h0M312.0 90.7h0M304.3 88.6h0M329.0 78.1h0M322.8 75.7h0M305.4 93.6h0M328.8 82.5h0M319.0 98.5h0M325.5 83.3h0M321.9 90.0h0M315.0 83.4h0M322.7 73.4h0M305.7 89.6h0M315.0 73.9h0M326.9 70.7h0M308.4 95.7h0M322.2 75.9h0M315.7 81.3h0M315.6 73.5h0M319.3 77.6h0M311.4 93.6h0M327.5 97.1h0M313.5 96.6h0M318.9 76.1h0M327.9 88.5h0M317.0 88.1h0M322.9 85.0h0M313.3 99.7h0M316.3 98.3h0M314.9 63.9h0M311.8 97.2h0M322.2 81.1h0M326.3 83.5h0M317.9 99.0h0M310.5 89.2h0M325.7 73.6h0M308.0 70.1h0M308.0 95.1h0M308.2 97.4h0M306.2 73.1h0M307.8 85.4h0M309.9 75.1h0M319.4 68.1h0M324.8 93.6h0M305.7 94.0h0M321.3 89.8h0M324.0 78.5h0M317.1 88.7h0M316.7 68.1h0M311.4 98.6h0M329.1 90.9h0M314.8 66.1h0M316.4 99.3h0M318.2 90.9h0M329.8 84.4h0M324.5 78.9h0M325.3 72.0h0M319.6 102.0h0M307.6 90.9h0M311.2 80.4h0M313.3 97.0h0M306.6 70.1h0M323.5 79.8h0M311.3 88.9h0M319.3 87.3h0M320.6 86.8h0M315.4 70.1h0M309.1 90.1h0M315.4 63.6h0M312.8 98.0h0M328.0 78.0h0M309.6 87.4h0M331.2 90.0h0M320.4 92.5h0M312.9 96.2h0M327.7 95.4h0M327.9 72.3h0M316.1 65.2h0M312.6 92.3h0M315.0 90.0h0M309.1 95.2h0M305.3 80.9h0M313.2 100.4h0M326.4 69.9h0M314.5 84.7h0M315.3 79.4h0M318.5 64.2h0M321.9 95.0h0M325.1 81.4h0M325.1 67.7h0M324.8 83.6h0M318.7 94.3h0M317.1 74.7h0M307.5 90.3h0M322.6 75.1h0" stroke="#F8766D" stroke-width="1.5" stroke-linecap="round" fill="none"/>
<path d="M273.4 54.6h0M274.0 26.1h0M269.9 42.6h0M278.1 43.8h0M271.2 45.2h0M280.6 45.5h0M277.4 35.7h0M270.7 48.8h0M288.8 39.7h0M262.8 39.2h0M277.8 39.8h0M269.3 40.3h0M272.4 35.5h0M269.2 37.2h0M275.0 26.6h0M271.8 53.5h0M280.4 48.2h0M289.5 42.3h0M271.3 47.9h0M265.2 43.1h0M287.3 44.2h0M271.1 23.5h0M278.8 43.9h0M279.3 46.2h0M272.4 49.4h0M274.1 27.7h0M263.4 44.7h0M270.8 25.9h0M283.3 52.4h0M267.9 29.3h0M272.3 26.8h0M277.3 51.1h0M271.6 47.8h0M282.8 47.2h0M274.6 42.1h0M272.2 53.2h0M277.5 37.7h0M281.7 34.3h0M270.8 36.6h0M285.1 41.7h0M285.5 51.4h0M275.4 28.6h0M284.3 50.4h0M269.4 30.3h0M270.2 27.6h0M267.9 52.1h0M275.7 47.5h0M284.7 54.1h0M270.0 26.0h0M261.6 46.6h0M263.3 43.2h0M269.4 50.7h0M267.6 28.9h0M275.7 31.1h0M267.5 34.9h0M285.3 61.4h0M269.2 53.3h0M281.0 37.9h0M273.7 30.8h0M286.4 57.0h0M279.7 47.3h0M283.2 52.5h0M289.7 54.2h0M277.7 46.0h0M285.1 46.1h0M264.8 49.4h0M262.5 45.8h0M272.6 52.9h0M279.9 34.3h0M264.7 43.7h0M270.2 28.9h0M288.9 39.9h0M287.2 48.3h0M270.6 29.2h0M272.3 35.1h0M263.1 45.9h0M272.4 30.8h0M282.4 34.1h0M283.7 52.3h0M270.1 22.9h0M265.8 42.9h0M261.9 38.6h0M287.7 38.2h0M272.1 25.4h0M288.6 43.3h0M271.1 24.3h0" stroke="#D89000" stroke-width="1.5" stroke-linecap="round" fill="none"/>
<path d="M322.7 54.4h0M322.7 63.1h0M315.8 59.3h0M322.7 45.8h0M323.6 60.4h0M334.4 54.8h0M321.2 41.0h0M328.7 70.9h0M323.2 63.9h0M328.6 42.5h0M321.0 43.8h0M336.5 48.8h0M328.8 45.7h0M316.2 56.9h0M331.2 48.5h0M323.1 75.8h0M330.2 72.2h0M321.8 46.2h0M317.0 48.7h0M323.0 77.8h0M330.6 43.0h0M309.0 60.6h0M328.8 50.2h0M320.7 60.7h0M326.8 61.3h0M320.6 77.7h0M323.9 55.0h0M313.1 73.6h0M312.5 72.5h0M311.3 56.0h0M330.0 55.2h0M333.8 47.0h0M328.4 48.5h0M324.4 74.5h0M318.4 68.8h0M325.5 39.6h0M317.1 65.4h0M311.6 59.6h0M326.8 40.6h0M338.8 57.3h0M322.8 67.7h0M331.0 57.0h0M310.1 58.7h0M320.2 68.5h0M314.3 60.9h0M317.2 56.3h0M315.0 53.4h0M336.1 49.6h0M317.1 66.8h0M320.4 70.9h0M317.1 50.0h0M335.9 62.7h0M326.1 46.7h0M315.5 50.9h0M317.3 66.9h0M329.8 45.7h0M320.8 71.9h0M321.5 69.5h0M314.0 66.4h0M323.5 74.3h0M312.2 71.2h0M322.2 68.7h0M311.7 67.1h0M334.1 58.4h0M315.0 56.6h0M338.6 60.5h0M318.6 49.0h0M320.9 73.5h0M335.8 54.0h0M326.8 72.9h0M323.7 48.9h0M309.8 62.9h0M310.4 57.8h0M324.7 66.3h0M323.0 58.2h0M326.7 42.2h0M313.4 63.2h0M332.6 62.8h0M318.2 43.6h0M311.3 63.4h0M324.8 75.5h0M332.7 55.9h0M310.5 65.9h0M321.4 73.4h0M318.0 74.2h0M328.3 48.1h0M318.7 57.9h0M332.9 53.0h0M327.5 44.6h0M329.9 55.9h0M333.1 43.9h0M322.1 77.7h0M314.8 44.0h0M323.7 78.3h0M323.2 43.0h0M311.0 50.9h0M315.3 51.4h0M312.9 52.4h0M326.6 76.1h0M332.6 43.0h0M328.9 43.4h0M313.6 60.2h0M317.5 54.0h0M338.4 62.1h0M331.2 65.4h0M322.1 68.9h0M308.4 54.4h0M324.4 57.1h0M337.5 67.6h0M316.5 63.9h0M326.9 59.2h0M309.6 56.0h0M328.7 40.8h0M326.5 52.7h0M313.8 63.2h0M319.4 55.5h0M319.5 70.9h0M312.9 61.6h0M330.8 64.6h0M319.3 71.2h0M324.9 52.7h0M315.0 63.9h0M314.6 69.0h0M321.5 49.5h0M320.2 60.4h0M332.2 43.1h0M327.4 58.6h0" stroke="#A3A500" stroke-width="1.5" stroke-linecap="round" fill="none"/>
<path d="M265.8 67.8h0M265.9 51.4h0M257.9 48.3h0M261.1 56.4h0M259.5 52.2h0M252.8 47.9h0M262.9 51.3h0M267.0 63.5h0M259.0 71.0h0M253.1 67.4h0M256.5 45.4h0M263.9 70.1h0M253.0 68.7h0M252.4 69.0h0M264.3 62.7h0M264.7 65.3h0M259.4 65.8h0M264.6 52.6h0M250.2 58.3h0M261.5 69.1h0M249.0 57.4h0M257.0 65.1h0M265.2 52.4h0M264.0 49.9h0M253.9 60.9h0M256.4 52.6h0M266.3 58.3h0M267.6 62.2h0M261.0 47.1h0M263.9 50.4h0M265.0 47.8h0M262.7 65.3h0M261.8 45.9h0M256.3 48.5h0M249.0 51.1h0M265.3 68.3h0M248.7 57.5h0M258.0 63.0h0M251.5 52.5h0M255.1 56.6h0M249.2 64.7h0M248.1 50.0h0M263.6 68.1h0M257.6 50.9h0M257.2 48.5h0M268.0 56.9h0M257.3 71.0h0M268.3 52.6h0M265.1 61.7h0M263.6 67.1h0M252.7 46.7h0M267.8 51.8h0M258.5 55.0h0M250.2 65.2h0M261.5 71.4h0M261.4 66.6h0M254.6 65.3h0M263.2 63.0h0M260.2 53.5h0M250.9 46.8h0M247.0 57.8h0M263.9 65.1h0M259.1 50.6h0M256.6 70.7h0M254.3 66.9h0M248.4 66.4h0M261.2 64.1h0M255.4 64.1h0M250.1 63.2h0M252.0 60.4h0M251.3 58.5h0M259.3 45.1h0M251.0 48.7h0M258.9 60.8h0M252.0 52.0h0M247.2 63.2h0M251.5 61.3h0M255.6 64.9h0M258.9 67.2h0M265.5 60.6h0M265.3 66.4h0M249.3 61.4h0M258.9 65.0h0M254.7 65.8h0M258.2 66.9h0M254.7 59.1h0M258.3 50.9h0M252.9 61.4h0M256.4 60.8h0M254.3 52.9h0M259.0 56.0h0M264.6 49.1h0M255.3 60.8h0M257.2 63.8h0M252.0 68.1h0M257.1 62.9h0M252.3 49.4h0M252.6 50.9h0M256.2 50.5h0M250.0 60.6h0M258.0 49.8h0" stroke="#39B600" stroke-width="1.5" stroke-linecap="round" fill="none"/>
<path d="M271.9 53.1h0M278.3 69.9h0M280.4 52.3h0M272.9 48.0h0M278.0 46.8h0M278.5 66.2h0M278.9 66.2h0M268.8 61.9h0M286.0 54.6h0M282.8 53.3h0M275.0 55.9h0M276.0 65.7h0M266.0 53.7h0M274.9 49.6h0M268.4 63.0h0M276.1 47.8h0M282.1 52.0h0M271.6 63.6h0M282.3 51.3h0M273.8 61.0h0M273.0 54.9h0M282.6 49.6h0M266.8 53.7h0M281.3 63.2h0M281.1 54.3h0M270.1 60.5h0M277.8 65.6h0M277.8 45.4h0M281.8 65.7h0M283.1 56.8h0M273.1 69.2h0M278.6 55.6h0M272.4 68.4h0M278.7 58.7h0M276.4 51.8h0M273.8 58.5h0M270.8 66.0h0M273.5 49.7h0M269.5 50.0h0M276.5 61.2h0M284.4 57.3h0M271.3 68.6h0M272.9 69.8h0M281.3 60.7h0M278.0 48.4h0M280.1 64.3h0M278.2 52.6h0M280.2 53.6h0M269.0 50.3h0M273.1 49.7h0M270.9 59.1h0M270.7 68.3h0M279.8 56.9h0M285.1 64.7h0M269.2 53.4h0M273.4 64.0h0M276.3 52.2h0M268.2 53.4h0M282.9 62.8h0M271.4 56.6h0M277.4 44.0h0M285.4 56.2h0M273.4 51.4h0M280.5 52.5h0M280.1 59.1h0M270.8 68.0h0M271.2 65.7h0M276.5 43.7h0M265.7 59.6h0M277.5 68.9h0M272.0 62.5h0M283.8 53.0h0M275.9 56.1h0M277.0 62.9h0M278.8 45.3h0M269.2 50.9h0M276.8 65.0h0M277.6 67.1h0M281.2 50.2h0M283.4 67.4h0M270.7 48.2h0M273.9 66.2h0M277.6 50.4h0M276.4 63.7h0M277.8 70.3h0M272.1 61.2h0M271.8 52.3h0" stroke="#00BF7D" stroke-width="1.5" stroke-linecap="round" fill="none"/>
<path d="M264.4 91.8h0M268.2 94.7h0M264.1 91.1h0M271.0 84.5h0M258.1 83.1h0M273.1 92.9h0M272.6 78.7h0M269.8 81.0h0M272.0 91.1h0M260.0 90.3h0M260.9 81.1h0M275.7 89.8h0M270.9 96.9h0M270.9 83.8h0M274.0 86.1h0M275.1 92.7h0M267.4 80.3h0M273.9 82.4h0M271.2 81.4h0M271.7 93.9h0M260.4 92.4h0M269.5 86.4h0M273.4 82.0h0M264.5 83.8h0M263.1 80.2h0M261.8 88.5h0M267.7 81.1h0M272.0 90.0h0M273.1 95.1h0M260.5 90.8h0M267.4 80.2h0M264.5 90.2h0M274.5 95.3h0M265.3 90.2h0M269.8 76.5h0M268.5 76.8h0M267.4 91.8h0M269.6 85.6h0M267.7 79.9h0M264.8 83.1h0M271.3 96.2h0M277.0 89.5h0M268.0 89.2h0M275.1 84.0h0M270.0 78.5h0M260.6 86.9h0M276.7 89.8h0M277.0 86.0h0M260.2 79.0h0M274.6 86.1h0M266.5 89.3h0M271.7 80.8h0" stroke="#00BFC4" stroke-width="1.5" stroke-linecap="round" fill="none"/>
<path d="M261.2 119.9h0M271.9 104.0h0M264.2 100.7h0M262.1 107.8h0M267.9 110.8h0M269.9 125.0h0M271.9 115.0h0M265.0 102.3h0M260.2 117.5h0M269.1 121.5h0M265.6 121.2h0M261.5 117.3h0M265.2 110.6h0M267.5 125.4h0M271.0 103.0h0M265.0 115.3h0M270.7 108.1h0M260.8 111.5h0M267.6 110.9h0M267.3 120.1h0M272.5 118.0h0M260.6 110.7h0M270.6 121.1h0M266.4 100.8h0M265.5 102.9h0M264.9 118.5h0M264.2 112.6h0M266.3 126.1h0M265.5 121.4h0M263.3 119.3h0M275.5 115.1h0M265.0 107.6h0M275.8 107.7h0M260.4 109.1h0M270.5 104.3h0M274.4 113.1h0M261.7 110.5h0M265.2 115.7h0M266.8 119.4h0M272.3 116.1h0M262.2 106.8h0M275.7 106.5h0M274.9 121.3h0M266.8 104.1h0M265.3 113.0h0" stroke="#00B0F6" stroke-width="1.5" stroke-linecap="round" fill="none"/>
<path d="M303.4 52.7h0M299.8 53.7h0M307.6 59.0h0M301.4 46.0h0M300.6 52.4h0M304.6 54.1h0M307.7 70.2h0M303.1 50.3h0M303.4 58.1h0M305.6 61.6h0M306.6 59.6h0M306.9 52.2h0M308.0 62.4h0M302.7 63.1h0M301.0 67.5h0M300.5 45.3h0M297.4 53.5h0M308.7 45.8h0M302.1 44.8h0M305.8 58.4h0M307.2 64.2h0M305.6 69.6h0M301.5 45.4h0M308.2 48.3h0M306.5 54.9h0M301.0 45.3h0M307.2 53.5h0M298.9 61.1h0M301.8 70.4h0M302.2 59.3h0M298.3 49.1h0M302.7 51.9h0" stroke="#9590FF" stroke-width="1.5" stroke-linecap="round" fill="none"/>
<path d="M292.3 80.9h0M291.8 90.9h0M299.7 81.2h0M292.2 79.9h0M294.0 78.4h0M289.5 94.4h0M304.7 84.4h0M296.2 94.7h0M299.8 78.3h0M289.9 76.1h0M289.1 77.3h0M297.3 88.7h0M291.8 93.7h0M299.6 83.6h0M289.2 81.3h0M299.6 77.3h0M297.5 76.6h0M296.9 83.3h0M292.0 76.0h0M300.3 79.6h0M297.1 82.6h0M289.1 81.8h0M297.2 90.3h0M286.1 85.9h0M303.6 81.6h0M304.4 88.9h0M296.6 82.3h0M290.4 91.8h0M298.2 96.1h0M299.4 95.9h0M296.1 90.7h0" stroke="#E76BF3" stroke-width="1.5" stroke-linecap="round" fill="none"/>
<path d="M283.0 107.7h0M283.7 107.7h0M286.2 103.6h0M293.3 104.9h0M280.7 106.1h0M287.7 107.1h0M282.1 102.3h0M288.5 104.1h0M290.9 105.9h0" stroke="#FF62BC" stroke-width="1.5" stroke-linecap="round" fill="none"/>
<path d="M437.6 82.7h0M433.3 99.1h0M422.2 81.7h0M418.4 95.1h0M436.4 87.0h0M414.2 78.7h0M416.2 75.9h0M420.2 83.1h0M436.6 93.1h0M426.8 80.3h0M428.0 93.2h0M425.4 96.9h0M418.3 91.5h0M433.1 85.9h0M422.7 73.5h0M414.3 92.8h0M417.5 98.8h0M431.0 77.3h0M423.8 80.0h0M418.4 87.3h0M419.6 93.8h0M425.5 72.0h0M430.2 100.9h0M433.0 93.9h0M430.4 101.4h0M427.0 72.0h0M417.4 73.5h0M418.5 85.2h0M421.4 78.2h0M413.7 81.4h0M428.0 98.0h0M426.3 99.9h0M423.0 69.7h0M413.8 86.9h0M421.8 95.6h0M422.3 100.3h0M429.9 86.5h0M437.5 81.9h0M430.7 91.5h0M424.8 90.2h0M418.8 96.0h0M419.1 71.8h0M416.3 97.3h0M427.7 97.2h0M418.1 83.0h0M415.7 91.7h0M427.7 82.1h0M427.6 80.5h0M434.4 92.9h0M429.7 91.0h0M413.8 90.9h0M437.6 82.3h0M425.5 71.5h0M420.9 79.0h0M425.4 77.8h0M431.6 77.2h0M423.4 77.9h0M436.5 83.0h0M420.4 71.0h0M414.7 93.2h0M430.5 87.8h0M428.2 79.8h0M429.9 78.5h0M422.4 100.5h0M430.5 93.5h0M433.1 98.2h0M413.9 79.3h0M416.9 87.9h0M429.7 96.6h0" stroke="#F8766D" stroke-width="1.5" stroke-linecap="round" fill="none"/>
<path d="M375.0 28.3h0M372.2 38.9h0M385.2 32.6h0M373.1 36.0h0M392.1 36.6h0M378.6 29.1h0M394.4 33.5h0M374.4 29.7h0M379.4 27.2h0M386.1 35.1h0M372.7 33.7h0M384.4 24.1h0M384.2 38.5h0M381.6 34.9h0M385.0 32.5h0M379.7 29.5h0M384.1 25.7h0M391.0 27.8h0M387.4 26.1h0M383.1 23.4h0M386.4 42.7h0M391.3 39.2h0M390.4 43.6h0M381.5 30.7h0M374.3 40.5h0M390.9 36.4h0M386.0 35.0h0M374.5 30.5h0M377.1 44.0h0M382.2 26.5h0M378.4 44.5h0M381.1 26.1h0M377.7 38.2h0M393.6 32.6h0M390.0 29.0h0M374.8 39.9h0M391.2 29.3h0M376.2 42.1h0M396.7 35.5h0M377.0 30.9h0M379.3 27.5h0M392.6 36.3h0M374.9 38.7h0M379.8 43.6h0" stroke="#D89000" stroke-width="1.5" stroke-linecap="round" fill="none"/>
<path d="M432.2 48.2h0M428.4 61.9h0M440.9 57.7h0M424.6 50.5h0M433.1 58.1h0M427.9 58.9h0M425.3 60.5h0M419.5 53.7h0M434.4 67.4h0M436.7 54.4h0M419.0 60.2h0M419.1 63.3h0M426.5 67.4h0M429.5 71.9h0M416.8 65.2h0M426.1 54.9h0M423.7 68.7h0M420.5 57.0h0M419.5 54.2h0M423.1 69.2h0M435.7 61.8h0M428.6 65.0h0M426.2 73.7h0M437.0 51.0h0M425.3 47.4h0M431.4 70.3h0M429.1 47.9h0M417.7 61.8h0M434.5 66.6h0M414.8 55.5h0M425.2 62.8h0M432.3 58.0h0M425.8 64.4h0M441.3 61.7h0M421.7 48.1h0M424.4 65.4h0M431.7 62.4h0M435.2 67.2h0M435.1 48.9h0M417.0 60.7h0M421.5 70.1h0M429.3 48.6h0M427.8 64.6h0M441.8 64.1h0M433.2 69.6h0M433.5 53.7h0M423.6 73.4h0M429.4 73.7h0M429.3 65.8h0M435.1 56.6h0M429.9 52.2h0M423.8 57.0h0" stroke="#A3A500" stroke-width="1.5" stroke-linecap="round" fill="none"/>
<path d="M365.7 62.9h0M364.5 63.5h0M354.3 66.1h0M365.1 55.6h0M367.1 64.1h0M366.0 65.9h0M362.3 54.8h0M365.5 63.0h0M361.9 66.6h0M361.4 53.4h0M356.5 61.0h0M355.1 53.7h0M366.3 59.1h0M353.8 64.2h0M369.6 62.7h0M360.4 65.6h0M352.5 57.1h0M361.6 66.3h0M357.5 62.1h0" stroke="#39B600" stroke-width="1.5" stroke-linecap="round" fill="none"/>
<path d="M385.2 40.1h0M376.6 48.6h0M391.9 43.1h0M388.4 48.6h0M380.4 46.1h0M389.5 43.1h0M382.3 41.5h0M389.9 41.9h0M387.0 41.8h0M384.2 40.8h0M377.0 46.5h0M392.2 57.1h0M392.2 45.2h0M381.0 55.7h0M386.0 58.5h0M382.7 50.9h0M379.9 44.3h0M384.6 55.9h0M391.8 48.6h0M381.5 61.0h0M391.8 53.3h0M394.9 52.3h0M386.2 47.8h0M379.0 54.6h0M387.2 40.8h0M381.8 45.4h0M387.5 58.8h0M391.1 55.7h0M382.9 53.4h0M385.0 61.9h0M381.3 47.8h0M383.2 48.9h0M378.6 48.6h0M380.8 50.8h0M393.2 48.3h0M390.4 61.4h0M389.9 51.7h0M381.9 44.7h0M378.2 48.4h0M380.4 54.4h0M383.8 49.0h0M386.8 39.7h0M381.4 58.8h0M383.1 49.8h0M390.8 62.3h0M385.4 42.9h0M385.0 38.7h0M389.9 56.8h0M393.1 50.6h0M382.0 41.0h0M380.7 47.9h0M395.8 49.7h0" stroke="#00BF7D" stroke-width="1.5" stroke-linecap="round" fill="none"/>
<path d="M372.6 83.3h0M367.2 97.0h0M368.7 102.4h0M364.8 85.8h0M367.3 95.5h0M368.4 95.2h0M381.5 83.4h0M371.0 93.5h0M369.7 76.0h0M369.4 94.4h0M373.0 81.6h0M365.4 84.9h0M378.7 78.8h0M368.8 76.2h0M365.6 90.5h0M363.9 92.2h0M369.4 98.3h0M368.9 84.8h0M365.9 91.4h0M371.2 92.0h0" stroke="#00BFC4" stroke-width="1.5" stroke-linecap="round" fill="none"/>
<path d="M379.3 116.9h0M377.1 116.4h0M370.0 118.8h0M372.3 124.8h0M378.7 109.0h0M370.5 122.3h0M366.6 110.1h0M379.6 116.8h0M370.4 116.4h0M372.6 119.0h0M381.1 110.5h0M367.9 117.6h0M379.5 123.6h0M370.7 116.1h0M379.9 111.3h0M370.9 110.5h0M380.6 116.1h0M366.6 117.8h0M370.4 120.3h0M382.9 114.5h0M375.9 107.2h0M369.5 108.3h0M373.3 113.3h0M378.2 108.5h0M368.4 107.7h0M379.0 108.7h0M376.3 116.2h0M380.1 120.2h0M372.3 118.8h0M370.9 122.1h0M380.5 115.6h0M378.3 109.3h0M370.4 120.7h0M370.7 117.0h0M381.6 111.9h0M381.6 117.7h0M366.6 118.4h0M365.3 114.4h0M379.8 115.5h0M368.1 121.3h0M373.3 106.4h0M379.3 109.2h0M373.2 116.7h0M371.9 125.1h0M365.6 115.0h0M374.6 119.6h0M374.0 120.7h0M380.0 109.2h0M366.7 112.0h0" stroke="#00B0F6" stroke-width="1.5" stroke-linecap="round" fill="none"/>
<path d="M395.2 89.1h0M400.4 86.8h0M390.8 90.4h0M396.0 91.9h0M398.2 86.7h0M396.1 78.2h0M392.5 77.6h0M399.3 79.5h0M391.1 90.5h0M401.5 81.4h0M401.8 77.8h0M392.9 84.5h0M394.7 77.4h0M391.0 80.3h0M390.2 86.7h0M396.5 75.7h0" stroke="#E76BF3" stroke-width="1.5" stroke-linecap="round" fill="none"/>
<path d="M391.8 103.3h0M389.6 103.1h0M391.7 107.2h0M399.5 105.2h0M396.5 99.2h0M393.6 98.4h0M387.3 98.6h0M397.3 102.9h0M393.2 104.2h0M389.1 98.9h0M397.2 101.8h0M395.9 104.4h0M393.3 107.2h0M391.1 107.7h0M386.6 101.6h0M392.0 105.3h0M387.5 106.0h0M397.5 102.4h0" stroke="#FF62BC" stroke-width="1.5" stroke-linecap="round" fill="none"/>
<path d="M431.4 95.4h0M423.5 84.4h0M430.9 91.3h0M435.6 79.4h0M426.1 76.6h0M423.0 79.3h0M413.3 82.1h0M433.1 80.6h0M429.2 82.4h0M433.0 85.9h0M429.1 90.2h0M433.9 90.5h0M425.3 79.1h0M426.9 83.4h0M421.4 85.9h0M426.7 70.3h0M426.1 98.9h0M432.0 82.6h0M421.1 82.0h0M427.4 91.2h0M422.6 75.5h0M419.5 93.9h0M427.3 87.7h0M425.7 98.8h0M420.1 73.4h0M421.4 98.9h0M416.7 90.5h0M421.7 83.0h0M423.9 92.3h0M423.2 89.7h0M416.1 75.9h0M424.1 95.7h0M427.4 99.1h0M427.9 76.8h0M421.0 82.0h0M414.6 93.5h0M426.5 101.0h0M423.0 95.9h0M429.2 79.7h0M422.0 70.4h0M421.6 95.7h0M419.2 87.0h0M422.9 102.4h0M415.8 93.2h0M424.7 86.3h0M431.8 86.8h0M419.8 79.3h0M434.5 84.6h0M426.3 70.9h0M425.3 78.5h0M431.0 71.1h0M427.6 102.0h0M435.4 89.8h0M433.1 96.0h0M413.7 91.3h0M426.3 69.0h0M423.7 74.1h0M431.9 87.4h0M421.9 94.4h0M431.4 93.3h0M436.0 78.6h0M434.1 93.2h0M437.9 86.1h0M432.8 73.4h0M430.8 99.4h0M436.3 92.9h0M413.8 81.9h0M421.1 94.2h0M420.2 73.8h0M425.1 80.2h0M434.5 88.9h0M420.3 83.3h0M432.4 77.0h0M424.5 88.3h0M415.0 79.4h0M427.4 72.1h0M425.4 80.0h0M423.2 82.0h0" stroke="#F8766D" stroke-width="1.5" stroke-linecap="round" fill="none"/>
<path d="M386.8 43.6h0M377.7 37.4h0M395.9 34.3h0M383.2 25.6h0M388.7 37.8h0M388.1 37.7h0M379.1 34.1h0M396.1 36.0h0M371.4 33.5h0M373.9 27.5h0M381.4 43.4h0M382.5 25.7h0M376.7 40.1h0M378.0 30.0h0M371.2 31.1h0M386.0 29.8h0M391.9 44.4h0M378.5 36.3h0M376.4 32.3h0M375.3 42.9h0M378.6 31.5h0M381.0 28.8h0M378.4 33.0h0M388.3 41.7h0M379.2 43.3h0M388.6 33.2h0M383.8 32.3h0M390.3 37.6h0M384.4 39.1h0M380.7 44.1h0M387.0 33.2h0M389.1 37.5h0M377.8 34.6h0M389.8 43.5h0M381.2 45.5h0M389.0 29.0h0M381.3 43.9h0M379.4 43.7h0M383.9 29.3h0M382.2 38.6h0M392.3 37.8h0M391.8 35.7h0M386.8 23.9h0M382.6 42.3h0M385.1 40.8h0M388.5 45.9h0M388.2 29.6h0M390.5 34.8h0" stroke="#D89000" stroke-width="1.5" stroke-linecap="round" fill="none"/>
<path d="M427.8 60.9h0M424.4 64.7h0M437.6 64.3h0M436.8 62.3h0M427.0 53.7h0M414.7 58.0h0M433.9 59.0h0M439.2 63.9h0M417.6 69.1h0M429.0 59.4h0M419.0 49.7h0M419.0 63.0h0M433.7 64.3h0M437.8 51.7h0M426.3 68.0h0M442.9 58.2h0M431.6 72.7h0M421.1 60.9h0M440.2 58.3h0M435.9 71.5h0M439.4 66.4h0M431.6 58.3h0M433.6 61.4h0M423.4 67.3h0M441.1 54.2h0M421.6 54.4h0M424.6 67.2h0M428.3 50.7h0M434.7 68.9h0M435.5 61.6h0M428.8 62.0h0M438.0 57.6h0M426.6 51.3h0M438.3 57.4h0M435.3 69.2h0M421.7 49.9h0M420.4 63.1h0M422.3 50.6h0M422.5 61.0h0M433.3 67.1h0M413.9 64.6h0M428.3 63.5h0M420.0 71.2h0M420.1 61.9h0M431.1 69.9h0M436.8 59.3h0M422.3 63.7h0M428.0 62.0h0M430.9 61.8h0M433.5 48.9h0M418.9 56.6h0M427.8 74.0h0M414.4 55.2h0M430.4 52.7h0M426.0 65.2h0M439.0 57.2h0" stroke="#A3A500" stroke-width="1.5" stroke-linecap="round" fill="none"/>
<path d="M357.7 56.5h0M357.4 62.0h0M359.2 55.8h0M362.9 62.0h0M358.8 67.0h0M361.1 54.2h0M363.8 66.4h0M360.4 67.7h0M363.9 47.3h0M371.5 53.9h0M359.1 59.9h0M365.8 68.3h0M362.0 64.7h0M356.4 53.1h0M353.1 63.7h0M369.6 62.0h0M368.5 64.8h0M367.9 49.4h0" stroke="#39B600" stroke-width="1.5" stroke-linecap="round" fill="none"/>
<path d="M376.6 55.0h0M390.2 59.1h0M391.0 49.2h0M382.5 60.5h0M388.0 62.0h0M389.7 51.0h0M380.5 60.0h0M396.5 48.8h0M394.8 50.0h0M383.4 42.3h0M384.6 41.7h0M388.0 53.7h0M395.9 48.6h0M375.8 51.3h0M377.5 50.9h0M380.6 45.7h0M383.2 47.8h0M383.6 44.4h0M383.6 38.9h0M379.9 41.4h0M390.7 50.8h0M379.7 45.9h0M386.2 59.9h0M381.6 52.4h0M384.3 61.1h0M388.0 51.1h0M391.2 61.8h0M385.3 43.0h0M388.7 54.7h0M389.2 46.2h0M382.2 50.8h0M384.2 42.0h0M379.3 53.1h0M392.0 42.1h0M386.8 50.3h0M382.1 55.8h0M392.4 44.8h0M380.2 55.4h0M388.0 40.4h0M378.4 49.0h0M389.3 49.3h0M380.8 49.5h0M383.3 46.4h0M381.3 41.2h0M389.1 49.3h0" stroke="#00BF7D" stroke-width="1.5" stroke-linecap="round" fill="none"/>
<path d="M380.6 84.3h0M366.7 88.5h0M369.5 101.0h0M373.2 78.1h0M375.7 90.0h0M371.3 76.1h0M368.2 78.3h0M364.8 94.9h0M376.9 78.6h0M375.1 84.9h0M369.1 77.1h0M371.8 83.5h0M366.4 100.7h0M363.7 85.5h0M364.9 83.9h0M368.7 92.8h0M364.6 91.7h0M369.6 98.7h0M368.9 77.2h0M368.9 90.0h0M370.2 76.3h0M380.6 84.3h0M363.6 93.8h0" stroke="#00BFC4" stroke-width="1.5" stroke-linecap="round" fill="none"/>
<path d="M374.0 110.1h0M375.9 116.6h0M372.5 124.2h0M376.8 111.2h0M380.3 116.0h0M379.0 121.4h0M379.3 115.6h0M373.6 113.7h0M381.1 115.3h0M371.0 114.4h0M368.4 110.6h0M366.7 110.4h0M367.4 112.5h0M368.2 109.2h0M375.9 117.1h0M370.1 117.4h0M375.9 114.1h0M382.8 114.3h0M371.7 120.2h0M370.3 109.5h0M376.7 110.0h0M378.1 120.9h0M371.7 119.4h0M374.7 125.5h0M377.0 118.3h0M366.7 109.4h0M370.5 108.3h0M381.1 116.2h0M366.8 110.5h0M366.0 119.7h0M371.9 118.4h0M370.5 116.5h0M376.9 119.7h0M372.6 112.6h0M370.1 108.0h0M380.3 117.6h0M379.8 113.5h0" stroke="#00B0F6" stroke-width="1.5" stroke-linecap="round" fill="none"/>
<path d="M412.5 62.5h0" stroke="#9590FF" stroke-width="1.5" stroke-linecap="round" fill="none"/>
<path d="M402.4 75.7h0M393.0 86.3h0M392.8 88.6h0M394.4 85.9h0M391.7 90.9h0M396.4 90.4h0M398.3 77.6h0M395.6 76.1h0M403.7 85.5h0M403.2 78.9h0M404.0 86.1h0M399.7 87.3h0M393.3 85.7h0M394.6 94.2h0M393.1 91.6h0M402.6 83.4h0M395.0 89.2h0" stroke="#E76BF3" stroke-width="1.5" stroke-linecap="round" fill="none"/>
<path d="M395.8 97.1h0M397.8 104.1h0M387.5 104.4h0M385.5 99.6h0M384.5 104.6h0M391.0 107.8h0M383.5 102.8h0M399.3 101.5h0M389.3 99.4h0M388.2 97.1h0M389.3 98.5h0M397.1 97.7h0M385.8 98.7h0M389.4 103.7h0M396.1 99.7h0M394.2 100.2h0" stroke="#FF62BC" stroke-width="1.5" stroke-linecap="round" fill="none"/>
<path d="M412.7 85.7h0M417.9 81.3h0M432.2 82.1h0M413.7 80.5h0M427.7 81.1h0M432.0 89.2h0M422.4 89.4h0M420.4 73.6h0M416.7 74.1h0M428.2 90.4h0M421.6 89.5h0M434.8 88.9h0M416.9 83.0h0M417.9 88.1h0M429.5 87.2h0M428.8 101.2h0M430.1 99.8h0M434.6 91.4h0M432.5 86.4h0M419.5 71.1h0M423.0 90.7h0M415.7 94.0h0M426.4 77.6h0M420.4 78.8h0M429.5 88.6h0M423.8 91.3h0M427.5 70.7h0M421.4 89.5h0M416.0 82.0h0M423.5 83.6h0M416.7 80.5h0M423.3 70.5h0M437.6 89.9h0M432.5 91.7h0M422.0 100.4h0M426.3 96.6h0M420.0 82.8h0M435.9 83.7h0M429.5 86.5h0M419.3 99.9h0M428.0 74.0h0M432.0 72.3h0M427.9 83.4h0M413.9 90.4h0M421.4 95.8h0M417.1 84.0h0M419.1 79.0h0M426.9 92.6h0M429.4 85.3h0M425.9 87.2h0M419.7 71.0h0M430.4 88.2h0M423.4 75.4h0M416.8 73.6h0M436.8 84.4h0M436.6 84.2h0M427.4 74.3h0M426.3 85.5h0M437.5 89.2h0M429.0 83.5h0M428.2 82.1h0M416.2 89.7h0M424.9 99.5h0M417.3 92.8h0M423.0 83.2h0M415.2 86.2h0M434.2 91.8h0M429.7 95.9h0M427.9 71.2h0M414.5 94.5h0M420.9 89.9h0M433.1 91.2h0M413.7 81.4h0M428.0 90.6h0" stroke="#F8766D" stroke-width="1.5" stroke-linecap="round" fill="none"/>
<path d="M376.5 28.5h0M375.3 26.1h0M393.6 28.2h0M389.9 30.6h0M386.5 31.6h0M373.2 40.4h0M375.2 28.1h0M381.8 45.1h0M373.8 29.1h0M383.8 41.8h0M388.8 36.6h0M382.3 32.2h0M380.7 27.4h0M393.5 33.9h0M382.7 39.1h0M385.8 31.0h0M379.8 45.4h0M375.3 25.8h0M395.8 37.3h0M385.2 31.3h0M387.1 29.3h0M388.4 24.4h0M374.7 26.3h0M374.5 38.3h0M381.2 42.3h0M392.3 30.5h0M380.6 38.8h0M375.8 41.0h0M392.1 36.3h0M386.3 41.7h0M382.2 26.2h0M385.5 35.7h0M394.2 30.0h0M376.1 43.1h0M375.2 27.0h0M376.8 31.7h0M374.8 36.3h0M394.3 33.4h0" stroke="#D89000" stroke-width="1.5" stroke-linecap="round" fill="none"/>
<path d="M428.5 59.0h0M437.8 50.7h0M423.7 67.9h0M433.0 61.8h0M429.1 57.0h0M436.4 60.2h0M441.3 60.5h0M432.9 64.4h0M428.0 62.8h0M414.0 60.3h0M434.2 47.8h0M435.7 57.7h0M414.1 63.0h0M438.7 62.5h0M435.9 57.9h0M423.2 61.0h0M437.7 57.2h0M439.0 63.4h0M432.6 63.3h0M424.7 67.3h0M423.5 69.4h0M425.4 53.8h0M422.3 65.9h0M439.3 68.7h0M424.7 60.2h0M440.8 53.7h0M417.2 54.4h0M435.3 58.5h0M434.1 63.1h0M430.1 58.8h0M418.9 64.7h0M437.2 71.0h0M428.2 68.2h0M434.6 54.2h0M421.2 59.3h0M426.9 67.9h0M433.7 47.6h0M418.3 59.9h0M425.1 73.2h0M426.7 50.1h0M440.7 53.9h0M421.6 54.5h0M424.3 61.8h0M425.8 58.6h0M439.3 68.1h0M440.0 60.0h0M417.8 66.1h0M427.0 48.1h0M438.2 53.0h0M426.7 57.9h0" stroke="#A3A500" stroke-width="1.5" stroke-linecap="round" fill="none"/>
<path d="M357.7 55.8h0M353.5 60.6h0M371.0 55.4h0M365.5 55.3h0M367.1 66.9h0M367.6 65.3h0M368.8 66.9h0M353.9 51.4h0M367.2 67.5h0M355.9 55.7h0M358.3 56.7h0M357.5 57.4h0M363.2 69.2h0M367.8 51.2h0M362.3 57.1h0M362.9 48.5h0M357.3 68.3h0M369.0 66.9h0M354.1 52.0h0M359.2 52.5h0M371.4 53.8h0M353.5 64.2h0M353.1 61.6h0M369.7 61.0h0M363.2 55.4h0" stroke="#39B600" stroke-width="1.5" stroke-linecap="round" fill="none"/>
<path d="M389.3 43.6h0M391.4 50.9h0M385.0 47.2h0M387.8 50.0h0M392.9 45.3h0M384.4 44.5h0M385.1 62.4h0M393.3 55.0h0M382.6 57.1h0M395.0 57.4h0M385.8 58.8h0M388.9 57.4h0M376.2 52.2h0M380.8 45.1h0M387.4 62.3h0M387.2 57.6h0M384.0 54.3h0M379.1 54.3h0M379.4 47.3h0M386.8 46.2h0M382.9 45.8h0M392.0 49.6h0M380.5 44.7h0M394.2 43.6h0M391.0 56.3h0M377.3 52.2h0M380.9 58.5h0M382.6 61.8h0M383.0 57.5h0M385.6 52.9h0M380.8 49.0h0M377.5 48.6h0M386.8 57.8h0M380.0 48.0h0M376.0 50.6h0M387.4 54.6h0M380.0 42.8h0M379.6 46.4h0M380.7 50.0h0M387.7 43.4h0M389.8 43.0h0M389.2 41.4h0M382.1 40.4h0M389.1 42.3h0M385.5 54.4h0M389.8 52.7h0M396.0 52.4h0M383.7 39.7h0M393.3 56.5h0M382.3 56.1h0M391.1 58.2h0M387.2 62.6h0" stroke="#00BF7D" stroke-width="1.5" stroke-linecap="round" fill="none"/>
<path d="M369.1 99.2h0M369.7 90.0h0M366.2 82.8h0M375.8 82.6h0M370.9 91.8h0M377.0 82.9h0M369.0 100.2h0M378.8 91.7h0M370.5 84.3h0M363.7 82.7h0M371.3 83.9h0M373.7 102.6h0M380.2 98.2h0M376.2 95.1h0M366.5 86.6h0M366.1 95.4h0M371.3 87.4h0M365.6 79.3h0M366.7 86.6h0M371.2 94.2h0" stroke="#00BFC4" stroke-width="1.5" stroke-linecap="round" fill="none"/>
<path d="M374.8 114.3h0M368.0 108.3h0M370.9 122.7h0M375.6 121.2h0M378.3 120.9h0M370.8 111.8h0M381.5 112.7h0M369.4 108.0h0M378.0 119.7h0M380.2 120.6h0M381.4 120.7h0M374.2 123.9h0M372.9 125.9h0M374.0 108.0h0M382.0 114.9h0M371.3 112.9h0M373.3 106.7h0M368.6 108.6h0M376.3 117.3h0M373.9 106.1h0M376.3 110.9h0M379.9 108.7h0M368.1 118.6h0M380.7 119.7h0M381.6 117.7h0M370.6 108.2h0M370.2 109.9h0M369.6 123.3h0M378.2 110.3h0M369.6 117.3h0M371.0 115.4h0M368.4 114.1h0M373.9 118.9h0M375.1 119.3h0M374.6 113.1h0M366.3 121.6h0M375.2 124.1h0M372.0 111.3h0M378.5 118.5h0" stroke="#00B0F6" stroke-width="1.5" stroke-linecap="round" fill="none"/>
<path d="M411.6 57.6h0M406.7 63.6h0M409.3 65.3h0" stroke="#9590FF" stroke-width="1.5" stroke-linecap="round" fill="none"/>
<path d="M392.7 92.2h0M404.4 88.7h0M399.2 91.0h0M390.8 80.0h0M398.8 80.1h0M399.2 76.6h0M391.6 81.5h0M405.5 83.4h0M399.8 79.1h0M395.7 80.8h0M404.6 88.2h0M402.0 87.4h0M390.6 82.2h0M401.9 84.0h0M395.6 86.7h0M401.5 79.9h0M400.0 93.7h0M397.6 86.6h0M396.2 92.8h0M389.6 85.9h0M389.6 82.6h0M395.2 83.1h0" stroke="#E76BF3" stroke-width="1.5" stroke-linecap="round" fill="none"/>
<path d="M400.3 100.3h0M392.6 101.6h0M393.6 106.0h0M397.4 101.9h0M388.1 105.5h0M396.0 101.4h0M389.3 107.4h0M392.3 102.9h0M396.4 103.7h0M396.0 97.9h0M394.7 100.8h0M390.5 98.8h0M388.0 100.0h0M386.0 104.8h0M395.0 100.5h0M391.8 101.9h0" stroke="#FF62BC" stroke-width="1.5" stroke-linecap="round" fill="none"/>
<path d="M427.5 79.1h0M420.7 86.6h0M417.3 73.3h0M433.2 76.2h0M435.8 80.5h0M421.8 85.4h0M436.3 88.3h0M425.0 85.2h0M418.0 89.6h0M437.4 85.5h0M427.1 97.3h0M419.3 91.2h0M426.4 94.4h0M420.8 78.0h0M416.0 84.7h0M415.5 77.2h0M422.4 85.8h0M415.1 87.6h0M425.6 83.2h0M423.0 88.4h0M430.0 83.9h0M434.4 77.6h0M432.6 85.0h0M416.9 79.2h0M428.8 97.3h0M420.5 84.9h0M420.9 86.1h0M420.2 72.5h0M419.5 99.8h0M430.6 84.7h0M425.0 82.1h0M432.0 88.1h0M430.5 97.9h0M417.2 95.5h0M435.4 84.0h0M419.8 89.4h0M413.8 91.0h0M436.0 78.1h0M423.2 73.6h0M429.1 75.3h0M426.8 97.8h0M431.7 83.4h0M415.5 78.4h0M422.0 93.1h0M422.8 97.7h0M414.6 78.0h0M427.1 95.2h0M420.8 96.0h0M431.5 92.6h0M434.6 87.4h0M421.0 85.8h0M421.6 96.5h0M422.8 85.7h0M429.4 84.0h0M426.8 99.0h0M428.3 82.3h0M415.2 89.0h0M431.7 92.1h0M421.6 90.3h0" stroke="#F8766D" stroke-width="1.5" stroke-linecap="round" fill="none"/>
<path d="M392.9 38.2h0M384.4 41.5h0M384.1 40.8h0M385.6 34.0h0M372.5 39.3h0M380.8 33.1h0M389.6 37.7h0M382.1 34.3h0M380.1 33.4h0M382.8 29.2h0M394.4 32.8h0M391.8 28.1h0M380.2 26.2h0M385.3 27.2h0M375.2 25.3h0M384.5 32.4h0M375.1 37.8h0M388.8 40.0h0M380.5 25.3h0M381.2 30.7h0M374.8 36.0h0M388.4 25.3h0M387.1 35.4h0M390.9 30.8h0M392.6 43.4h0M383.9 46.3h0M382.8 27.7h0M377.8 37.8h0M377.7 24.1h0M375.7 27.5h0M375.5 38.2h0M372.7 36.2h0M386.8 40.6h0M384.1 44.3h0M375.1 28.8h0M388.7 27.2h0M387.6 33.9h0M380.4 25.4h0M377.1 39.9h0M385.7 26.3h0M376.7 24.5h0M377.5 23.4h0M388.6 24.6h0M374.8 30.0h0M374.7 24.6h0M373.9 27.1h0M393.9 36.6h0M388.8 43.5h0M371.4 34.6h0M378.6 44.6h0" stroke="#D89000" stroke-width="1.5" stroke-linecap="round" fill="none"/>
<path d="M433.3 69.7h0M424.2 67.2h0M417.9 65.2h0M431.6 67.5h0M439.7 54.0h0M431.3 47.0h0M423.4 49.6h0M413.8 57.1h0M436.4 62.0h0M416.3 64.6h0M417.4 53.8h0M432.2 54.9h0M420.1 48.9h0M414.8 59.5h0M438.1 64.5h0M421.3 60.7h0M442.5 59.0h0M415.4 60.3h0M430.6 49.0h0M415.5 52.8h0M418.4 55.0h0M414.9 59.7h0M423.8 59.0h0M413.8 59.5h0M419.7 54.4h0M430.1 57.6h0M432.7 48.4h0M416.0 53.7h0M423.2 56.6h0M430.1 48.8h0M427.8 72.4h0M413.9 60.2h0M420.0 57.2h0M428.8 60.8h0M437.2 57.0h0M437.0 54.2h0M431.0 49.2h0M434.5 59.4h0M436.1 64.6h0M440.7 60.3h0M437.3 53.3h0M428.7 48.2h0M434.7 53.1h0M417.2 56.3h0M426.5 65.2h0M413.7 61.2h0M433.3 63.8h0M421.3 69.2h0M441.8 60.3h0M421.4 51.0h0M424.8 49.2h0M417.4 58.0h0M425.3 64.9h0M436.2 53.0h0M431.1 53.1h0M414.6 58.3h0M423.3 59.9h0M440.4 62.2h0M421.4 71.4h0M417.1 57.8h0M418.4 59.6h0M432.1 71.9h0" stroke="#A3A500" stroke-width="1.5" stroke-linecap="round" fill="none"/>
<path d="M360.5 69.5h0M356.3 52.6h0M358.9 62.0h0M362.4 53.9h0M357.1 48.6h0M368.1 67.7h0M370.3 54.9h0M357.4 59.4h0M355.7 53.4h0M361.2 61.6h0M372.3 59.1h0M360.8 65.7h0M368.3 61.2h0M354.6 59.2h0M365.8 52.4h0M370.8 56.3h0M357.6 54.9h0M370.0 63.6h0" stroke="#39B600" stroke-width="1.5" stroke-linecap="round" fill="none"/>
<path d="M387.0 62.8h0M383.7 59.7h0M393.4 54.1h0M394.5 50.9h0M387.1 40.6h0M382.6 62.6h0M391.6 39.9h0M383.5 47.9h0M382.4 56.5h0M394.6 45.0h0M396.2 51.9h0M387.3 55.5h0M386.9 46.1h0M395.8 49.0h0M392.7 41.6h0M394.1 45.2h0M391.4 60.3h0M390.2 60.2h0M378.7 50.8h0M380.3 59.2h0M378.8 56.7h0M393.0 57.6h0M384.3 45.3h0M387.0 44.3h0M377.7 57.5h0M392.8 49.6h0M388.9 51.7h0M380.5 59.9h0M389.4 42.2h0M391.8 42.3h0M383.5 43.4h0M386.5 53.7h0M378.7 54.5h0M387.5 50.4h0M383.0 48.9h0M376.5 47.7h0M378.4 55.5h0M381.3 40.8h0M391.9 53.2h0M393.3 52.1h0M390.9 50.2h0M382.5 44.6h0M387.4 44.2h0M380.0 44.5h0M386.3 57.8h0M380.6 43.9h0M380.4 56.6h0M382.7 49.6h0M394.8 46.8h0M384.0 50.1h0M393.1 54.6h0" stroke="#00BF7D" stroke-width="1.5" stroke-linecap="round" fill="none"/>
<path d="M368.1 88.3h0M369.7 91.1h0M381.6 95.6h0M368.2 89.0h0M380.3 83.4h0M376.8 97.9h0M366.3 82.3h0M363.7 89.0h0M370.5 91.6h0M363.7 89.7h0M379.5 84.0h0M374.4 96.8h0M374.7 91.1h0M365.2 87.5h0M368.3 93.4h0M373.8 94.9h0M366.7 90.7h0M372.9 79.1h0M369.5 91.2h0M372.3 90.0h0M373.9 75.7h0M369.3 87.6h0" stroke="#00BFC4" stroke-width="1.5" stroke-linecap="round" fill="none"/>
<path d="M374.2 108.8h0M371.3 113.4h0M373.0 112.7h0M377.6 111.4h0M367.6 115.8h0M367.9 109.7h0M382.6 117.7h0M369.0 124.0h0M376.6 122.6h0M377.1 123.4h0M382.4 114.1h0M375.6 111.2h0M375.9 110.4h0M377.5 114.0h0M370.0 120.1h0M373.0 112.4h0M369.8 112.8h0M375.2 109.0h0M366.0 116.3h0M372.6 116.4h0M382.2 112.5h0M378.4 122.2h0M369.5 111.0h0M373.4 120.2h0M375.6 111.5h0M377.9 115.5h0M381.2 120.1h0M373.0 122.1h0M380.1 114.6h0M379.6 114.9h0M374.2 124.5h0M375.0 107.9h0M373.8 123.7h0M371.2 109.7h0M376.6 108.4h0M376.6 113.5h0M374.7 112.3h0M376.5 117.4h0M373.3 108.2h0M382.4 117.9h0M366.2 113.5h0M376.3 120.5h0M382.3 119.3h0M368.7 115.9h0M365.4 117.5h0" stroke="#00B0F6" stroke-width="1.5" stroke-linecap="round" fill="none"/>
<path d="M406.0 60.5h0" stroke="#9590FF" stroke-width="1.5" stroke-linecap="round" fill="none"/>
<path d="M403.4 84.4h0M396.3 86.3h0M398.4 79.4h0M402.9 91.4h0M402.3 82.3h0M401.7 76.6h0M400.0 83.4h0M393.3 78.9h0M398.5 86.1h0M391.5 82.4h0M394.8 90.3h0M396.8 86.7h0M395.3 77.4h0M404.8 86.4h0M397.1 82.8h0M401.1 85.7h0M395.4 79.4h0M400.3 75.9h0M393.0 76.3h0M402.0 85.3h0" stroke="#E76BF3" stroke-width="1.5" stroke-linecap="round" fill="none"/>
<path d="M392.0 102.2h0M388.7 101.5h0M389.8 101.5h0M395.6 102.8h0M392.9 101.9h0M392.5 96.5h0M392.8 100.3h0M391.5 100.7h0M385.0 103.5h0M389.8 96.6h0" stroke="#FF62BC" stroke-width="1.5" stroke-linecap="round" fill="none"/>
<path d="M83.0 60.0 C83.2 56.7 82.8 51.1 84.0 48.0 C85.2 44.9 87.3 43.1 90.0 41.5 C92.7 39.9 95.8 39.0 100.0 38.5 C104.2 38.0 111.1 37.8 115.0 38.3 C118.9 38.8 121.3 39.7 123.5 41.5 C125.7 43.3 127.1 45.9 128.3 49.0 C129.5 52.1 130.1 56.5 130.5 60.0 C130.9 63.5 131.1 67.2 130.5 70.0 C129.9 72.8 129.1 75.3 127.0 77.0 C124.9 78.7 120.8 80.2 118.0 80.0 C115.2 79.8 112.3 77.4 110.0 76.0 C107.7 74.6 106.0 72.3 104.0 71.5 C102.0 70.7 100.0 70.5 98.0 71.0 C96.0 71.5 94.0 74.1 92.0 74.5 C90.0 74.9 87.6 74.6 86.0 73.5 C84.4 72.4 83.0 70.2 82.5 68.0 C82.0 65.8 82.8 63.3 83.0 60.0Z" fill="none" stroke="#1a1a1a" stroke-width="0.65" stroke-dasharray="1.2 0.8"/>
<path d="M190.5 58.0 C190.8 54.7 190.3 49.1 191.5 46.0 C192.7 42.9 194.8 41.1 197.5 39.5 C200.2 37.9 203.3 37.0 207.5 36.5 C211.7 36.0 218.6 35.8 222.5 36.3 C226.4 36.8 228.8 37.7 231.0 39.5 C233.2 41.3 234.6 43.9 235.8 47.0 C237.0 50.1 237.6 54.5 238.0 58.0 C238.4 61.5 238.6 65.2 238.0 68.0 C237.4 70.8 236.6 73.3 234.5 75.0 C232.4 76.7 228.3 78.2 225.5 78.0 C222.7 77.8 219.8 75.4 217.5 74.0 C215.2 72.6 213.5 70.3 211.5 69.5 C209.5 68.7 207.5 68.5 205.5 69.0 C203.5 69.5 201.5 72.1 199.5 72.5 C197.5 72.9 195.1 72.6 193.5 71.5 C191.9 70.4 190.5 68.2 190.0 66.0 C189.5 63.8 190.2 61.3 190.5 58.0Z" fill="none" stroke="#1a1a1a" stroke-width="0.65" stroke-dasharray="1.2 0.8"/>
<path d="M296.0 57.0 C296.3 53.7 295.8 48.1 297.0 45.0 C298.2 41.9 300.4 40.1 303.1 38.5 C305.9 36.9 309.1 36.0 313.4 35.5 C317.6 35.0 324.7 34.8 328.6 35.3 C332.6 35.8 335.1 36.7 337.3 38.5 C339.6 40.3 341.0 42.9 342.2 46.0 C343.4 49.1 344.1 53.5 344.5 57.0 C344.8 60.5 345.1 64.2 344.5 67.0 C343.9 69.8 343.0 72.3 340.9 74.0 C338.8 75.7 334.6 77.2 331.7 77.0 C328.8 76.8 325.9 74.4 323.6 73.0 C321.2 71.6 319.5 69.3 317.4 68.5 C315.4 67.7 313.4 67.5 311.3 68.0 C309.3 68.5 307.2 71.1 305.2 71.5 C303.1 71.9 300.7 71.6 299.1 70.5 C297.5 69.4 296.0 67.2 295.5 65.0 C295.0 62.8 295.8 60.3 296.0 57.0Z" fill="none" stroke="#1a1a1a" stroke-width="0.65" stroke-dasharray="1.2 0.8"/>
<path d="M397.3 57.0 C397.6 53.7 397.1 48.1 398.4 45.0 C399.6 41.9 401.8 40.1 404.6 38.5 C407.4 36.9 410.7 36.0 415.0 35.5 C419.3 35.0 426.5 34.8 430.6 35.3 C434.7 35.8 437.1 36.7 439.4 38.5 C441.7 40.3 443.2 42.9 444.4 46.0 C445.6 49.1 446.3 53.5 446.7 57.0 C447.1 60.5 447.3 64.2 446.7 67.0 C446.1 69.8 445.2 72.3 443.1 74.0 C440.9 75.7 436.7 77.2 433.7 77.0 C430.8 76.8 427.8 74.4 425.4 73.0 C423.0 71.6 421.2 69.3 419.2 68.5 C417.1 67.7 415.0 67.5 412.9 68.0 C410.8 68.5 408.8 71.1 406.7 71.5 C404.6 71.9 402.1 71.6 400.4 70.5 C398.8 69.4 397.3 67.2 396.8 65.0 C396.3 62.8 397.1 60.3 397.3 57.0Z" fill="none" stroke="#1a1a1a" stroke-width="0.65" stroke-dasharray="1.2 0.8"/>
<text x="97.20" y="55.80" font-size="10.5" text-anchor="middle" font-weight="normal" font-style="normal" fill="#000" stroke="#000" stroke-width="0.25">7</text>
<text x="114.60" y="55.80" font-size="10.5" text-anchor="middle" font-weight="normal" font-style="normal" fill="#000" stroke="#000" stroke-width="0.25">2</text>
<text x="202.50" y="56.50" font-size="10.5" text-anchor="middle" font-weight="normal" font-style="normal" fill="#000" stroke="#000" stroke-width="0.25">7</text>
<text x="221.00" y="56.50" font-size="10.5" text-anchor="middle" font-weight="normal" font-style="normal" fill="#000" stroke="#000" stroke-width="0.25">2</text>
<text x="307.00" y="58.70" font-size="10.5" text-anchor="middle" font-weight="normal" font-style="normal" fill="#000" stroke="#000" stroke-width="0.25">7</text>
<text x="325.30" y="58.70" font-size="10.5" text-anchor="middle" font-weight="normal" font-style="normal" fill="#000" stroke="#000" stroke-width="0.25">2</text>
<text x="409.50" y="57.50" font-size="10.5" text-anchor="middle" font-weight="normal" font-style="normal" fill="#000" stroke="#000" stroke-width="0.25">7</text>
<text x="427.50" y="57.50" font-size="10.5" text-anchor="middle" font-weight="normal" font-style="normal" fill="#000" stroke="#000" stroke-width="0.25">2</text>
<defs><linearGradient id="gbar" x1="0" x2="1" y1="0" y2="0"><stop offset="0" stop-color="#0FA04E"/><stop offset="0.165" stop-color="#5EBE7E"/><stop offset="0.29" stop-color="#B8DFC4"/><stop offset="0.39" stop-color="#E8EEF4"/><stop offset="0.5" stop-color="#F7F3EA"/><stop offset="0.72" stop-color="#F8F1E6"/><stop offset="0.79" stop-color="#F0A0A2"/><stop offset="0.86" stop-color="#E52A30"/><stop offset="1" stop-color="#E41E26"/></linearGradient></defs>
<rect x="33.2" y="157.2" width="406" height="4.3" fill="url(#gbar)" stroke="#8AA6E6" stroke-width="0.6"/>
<path d="M439 154.5 L443.8 159.35 L439 164.2 Z" fill="#E41E26" stroke="#7A8FD6" stroke-width="0.5"/>
<text x="36.30" y="174.30" font-size="9.6" text-anchor="start" font-weight="normal" font-style="normal" fill="#111" >Best working</text>
<text x="36.30" y="185.00" font-size="9.6" text-anchor="start" font-weight="normal" font-style="normal" fill="#111" >CAR</text>
<text x="217.00" y="174.30" font-size="9.6" text-anchor="start" font-weight="normal" font-style="normal" fill="#111" >Suboptimal</text>
<text x="217.00" y="185.00" font-size="9.6" text-anchor="start" font-weight="normal" font-style="normal" fill="#111" >CARs</text>
<text x="414.00" y="174.30" font-size="9.6" text-anchor="start" font-weight="normal" font-style="normal" fill="#111" >Ctrl</text>
<text x="414.00" y="185.00" font-size="9.6" text-anchor="start" font-weight="normal" font-style="normal" fill="#111" >CAR</text>
<text x="5.20" y="209.60" font-size="10.6" text-anchor="start" font-weight="bold" font-style="normal" fill="#000" >B</text>
<line x1="47.20" y1="235.20" x2="47.20" y2="301.20" stroke="#222" stroke-width="0.8"/>
<line x1="47.20" y1="301.20" x2="91.00" y2="301.20" stroke="#222" stroke-width="0.8"/>
<line x1="45.20" y1="235.20" x2="47.20" y2="235.20" stroke="#222" stroke-width="0.7"/>
<text x="42.30" y="237.70" font-size="7.2" text-anchor="end" font-weight="normal" font-style="normal" fill="#222" >60</text>
<line x1="45.20" y1="257.20" x2="47.20" y2="257.20" stroke="#222" stroke-width="0.7"/>
<text x="42.30" y="259.70" font-size="7.2" text-anchor="end" font-weight="normal" font-style="normal" fill="#222" >40</text>
<line x1="45.20" y1="279.20" x2="47.20" y2="279.20" stroke="#222" stroke-width="0.7"/>
<text x="42.30" y="281.70" font-size="7.2" text-anchor="end" font-weight="normal" font-style="normal" fill="#222" >20</text>
<line x1="45.20" y1="301.20" x2="47.20" y2="301.20" stroke="#222" stroke-width="0.7"/>
<text x="42.30" y="303.70" font-size="7.2" text-anchor="end" font-weight="normal" font-style="normal" fill="#222" >0</text>
<text x="0" y="0" font-size="7" fill="#222" text-anchor="middle" transform="translate(29.3,269) rotate(-90)">Percentage (%)</text>
<line x1="59.60" y1="301.20" x2="59.60" y2="303.20" stroke="#222" stroke-width="0.8"/>
<text x="59.60" y="313.20" font-size="6.8" text-anchor="middle" font-weight="normal" font-style="normal" fill="#222" >2</text>
<line x1="79.00" y1="301.20" x2="79.00" y2="303.20" stroke="#222" stroke-width="0.8"/>
<text x="79.00" y="313.20" font-size="6.8" text-anchor="middle" font-weight="normal" font-style="normal" fill="#222" >7</text>
<text x="69.20" y="324.80" font-size="6.8" text-anchor="middle" font-weight="normal" font-style="normal" fill="#222" >Clusters</text>
<rect x="51.699999999999996" y="286.87" width="15.60" height="14.03" fill="#000000" stroke="#000" stroke-width="0.6"/>
<rect x="51.699999999999996" y="262.34" width="15.60" height="23.93" fill="#FA7A7A" stroke="#F03A3A" stroke-width="0.6"/>
<rect x="51.699999999999996" y="250.90" width="15.60" height="10.84" fill="#FDB77F" stroke="#FF9A40" stroke-width="0.6"/>
<rect x="51.699999999999996" y="249.14" width="15.60" height="1.16" fill="#A443DA" stroke="#9333CF" stroke-width="0.6"/>
<rect x="71.39999999999999" y="288.41" width="15.10" height="12.49" fill="#FA7A7A" stroke="#F03A3A" stroke-width="0.6"/>
<rect x="71.39999999999999" y="285.33" width="15.10" height="2.48" fill="#FDB77F" stroke="#FF9A40" stroke-width="0.6"/>
<rect x="71.39999999999999" y="280.93" width="15.10" height="3.80" fill="#A443DA" stroke="#9333CF" stroke-width="0.6"/>
<rect x="86.7" y="227.6" width="12" height="3" fill="#000" stroke="#000" stroke-width="0.5"/>
<rect x="86.7" y="238.1" width="12" height="3" fill="#FA7A7A" stroke="#F03A3A" stroke-width="0.5"/>
<rect x="86.7" y="250.2" width="12" height="3" fill="#FDB77F" stroke="#FF9A40" stroke-width="0.5"/>
<rect x="86.7" y="263.2" width="12" height="3" fill="#A443DA" stroke="#9333CF" stroke-width="0.5"/>
<text x="105.80" y="231.30" font-size="7.8" text-anchor="start" font-weight="normal" font-style="normal" fill="#222" >Ctrl</text>
<text x="105.8" y="243.4" font-size="7.8" fill="#222">28.<tspan font-style="italic">mζ</tspan></text>
<text x="105.8" y="256.0" font-size="7.8" fill="#222"><tspan font-size="4.6" dy="-3">CD8tm</tspan><tspan dy="3">BB.</tspan><tspan font-style="italic">ζ</tspan></text>
<text x="105.8" y="269.0" font-size="7.8" fill="#222">BBL-28.<tspan font-style="italic">mζ</tspan></text>
<text x="152.80" y="214.40" font-size="10.6" text-anchor="start" font-weight="bold" font-style="normal" fill="#000" >C</text>
<text x="200.3" y="217.8" font-size="9.7" font-weight="bold" fill="#000">Cluster 2 <tspan font-style="italic">vs.</tspan> all:</text>
<text x="175.50" y="229.00" font-size="4.6" text-anchor="start" font-weight="bold" font-style="normal" fill="#111" >Volcano plot</text>
<text x="175.50" y="235.00" font-size="4.1" text-anchor="start" font-weight="normal" font-style="italic" fill="#555" >EnhancedVolcano</text>
<circle cx="210.0" cy="243" r="1.45" fill="#8A8A8A"/>
<text x="213.0" y="244.4" font-size="3.9" fill="#222">NS</text>
<circle cx="223.5" cy="243" r="1.45" fill="#3BAF4A"/>
<text x="226.5" y="244.4" font-size="3.9" fill="#222">log<tspan font-size="2.6" dy="1">2</tspan><tspan dy="-1"> FC</tspan></text>
<circle cx="245.6" cy="243" r="1.45" fill="#7088E4"/>
<text x="248.6" y="244.4" font-size="3.9" fill="#222"><tspan font-style="italic">P</tspan>-value</text>
<circle cx="266.7" cy="243" r="1.45" fill="#E43030"/>
<text x="269.7" y="244.4" font-size="3.9" fill="#222"><tspan font-style="italic">P</tspan> - value and log<tspan font-size="2.6" dy="1">2</tspan><tspan dy="-1"> FC</tspan></text>
<rect x="175" y="254.5" width="156" height="52.69999999999999" fill="#fff"/>
<line x1="177.40" y1="254.50" x2="177.40" y2="307.20" stroke="#EBEBEB" stroke-width="0.4"/>
<line x1="198.90" y1="254.50" x2="198.90" y2="307.20" stroke="#EBEBEB" stroke-width="0.4"/>
<line x1="220.40" y1="254.50" x2="220.40" y2="307.20" stroke="#EBEBEB" stroke-width="0.4"/>
<line x1="241.90" y1="254.50" x2="241.90" y2="307.20" stroke="#EBEBEB" stroke-width="0.4"/>
<line x1="263.40" y1="254.50" x2="263.40" y2="307.20" stroke="#EBEBEB" stroke-width="0.4"/>
<line x1="284.90" y1="254.50" x2="284.90" y2="307.20" stroke="#EBEBEB" stroke-width="0.4"/>
<line x1="306.40" y1="254.50" x2="306.40" y2="307.20" stroke="#EBEBEB" stroke-width="0.4"/>
<line x1="327.90" y1="254.50" x2="327.90" y2="307.20" stroke="#EBEBEB" stroke-width="0.4"/>
<line x1="175.00" y1="305.00" x2="331.00" y2="305.00" stroke="#EBEBEB" stroke-width="0.4"/>
<line x1="175.00" y1="295.85" x2="331.00" y2="295.85" stroke="#EBEBEB" stroke-width="0.4"/>
<line x1="175.00" y1="286.70" x2="331.00" y2="286.70" stroke="#EBEBEB" stroke-width="0.4"/>
<line x1="175.00" y1="277.55" x2="331.00" y2="277.55" stroke="#EBEBEB" stroke-width="0.4"/>
<line x1="175.00" y1="268.40" x2="331.00" y2="268.40" stroke="#EBEBEB" stroke-width="0.4"/>
<line x1="175.00" y1="259.25" x2="331.00" y2="259.25" stroke="#EBEBEB" stroke-width="0.4"/>
<line x1="175.00" y1="254.50" x2="175.00" y2="307.20" stroke="#333" stroke-width="0.9"/>
<line x1="175.00" y1="307.20" x2="331.00" y2="307.20" stroke="#333" stroke-width="0.9"/>
<line x1="177.40" y1="307.20" x2="177.40" y2="308.40" stroke="#222" stroke-width="0.5"/>
<text x="177.40" y="313.40" font-size="4.8" text-anchor="middle" font-weight="normal" font-style="normal" fill="#555" >-5.0</text>
<line x1="220.40" y1="307.20" x2="220.40" y2="308.40" stroke="#222" stroke-width="0.5"/>
<text x="220.40" y="313.40" font-size="4.8" text-anchor="middle" font-weight="normal" font-style="normal" fill="#555" >-2.5</text>
<line x1="263.40" y1="307.20" x2="263.40" y2="308.40" stroke="#222" stroke-width="0.5"/>
<text x="263.40" y="313.40" font-size="4.8" text-anchor="middle" font-weight="normal" font-style="normal" fill="#555" >0.0</text>
<line x1="306.40" y1="307.20" x2="306.40" y2="308.40" stroke="#222" stroke-width="0.5"/>
<text x="306.40" y="313.40" font-size="4.8" text-anchor="middle" font-weight="normal" font-style="normal" fill="#555" >2.5</text>
<line x1="173.80" y1="305.00" x2="175.00" y2="305.00" stroke="#222" stroke-width="0.5"/>
<text x="173.20" y="306.70" font-size="4.8" text-anchor="end" font-weight="normal" font-style="normal" fill="#555" >0</text>
<line x1="173.80" y1="286.70" x2="175.00" y2="286.70" stroke="#222" stroke-width="0.5"/>
<text x="173.20" y="288.40" font-size="4.8" text-anchor="end" font-weight="normal" font-style="normal" fill="#555" >100</text>
<line x1="173.80" y1="268.40" x2="175.00" y2="268.40" stroke="#222" stroke-width="0.5"/>
<text x="173.20" y="270.10" font-size="4.8" text-anchor="end" font-weight="normal" font-style="normal" fill="#555" >200</text>
<text x="0" y="0" font-size="5.2" fill="#333" text-anchor="middle" transform="translate(162.5,280.5) rotate(-90)">- Log<tspan font-size="3.4" dy="1">10</tspan><tspan dy="-1" font-style="italic"> P</tspan></text>
<text x="254.0" y="318.7" font-size="4.9" fill="#222" text-anchor="middle">log<tspan font-size="3.2" dy="1">2</tspan><tspan dy="-1"> fold change</tspan></text>
<text x="331.00" y="326.20" font-size="3.7" text-anchor="end" font-weight="normal" font-style="normal" fill="#222" >total = 841 variables</text>
<path d="M251.7 303.2h0M253.5 303.3h0M250.0 295.9h0M254.9 302.8h0M253.9 284.1h0M251.6 294.8h0M252.0 287.5h0M259.0 299.4h0M254.2 293.6h0M248.2 292.9h0M259.3 297.4h0M249.3 283.9h0M251.5 298.3h0M248.3 298.5h0M258.4 300.1h0M256.7 299.0h0M254.9 292.1h0M256.1 300.4h0M254.9 300.7h0M258.0 296.4h0M249.5 301.3h0M251.0 298.5h0M250.3 295.9h0M253.3 288.2h0M253.9 296.3h0M256.3 294.9h0M253.3 299.0h0M249.5 276.0h0M253.6 282.2h0M255.8 299.6h0M256.5 300.7h0M252.1 300.9h0M256.5 290.0h0M249.0 302.7h0M250.4 293.3h0M249.1 292.3h0M251.5 303.1h0M254.9 295.8h0M257.0 301.2h0M250.5 300.3h0M253.6 281.4h0M255.7 287.3h0M259.6 298.9h0M251.1 289.9h0M250.2 289.2h0M248.2 301.5h0M248.9 287.3h0M250.2 301.8h0M252.8 299.3h0M248.4 299.6h0M257.6 292.2h0M250.5 299.9h0M251.2 279.0h0M253.7 293.6h0M251.2 290.6h0M254.1 295.2h0M259.0 298.0h0M254.7 302.1h0M255.8 297.6h0M248.1 293.9h0M251.5 290.7h0M252.9 301.1h0M257.4 302.4h0M252.9 303.0h0M254.2 301.0h0M260.2 301.0h0M252.1 301.0h0M253.5 284.4h0M252.4 301.8h0M253.3 297.1h0M259.7 299.9h0M256.2 290.9h0M253.0 303.8h0M258.6 301.7h0M250.2 283.0h0M255.7 302.7h0M248.2 294.4h0M254.5 290.8h0M248.2 301.1h0M248.6 302.1h0M255.4 302.1h0M251.5 300.5h0M252.6 299.1h0M258.3 293.2h0M249.2 269.7h0M254.7 298.6h0M249.1 285.8h0M250.4 286.9h0M255.1 303.6h0M257.2 302.0h0M249.4 268.1h0M254.8 289.6h0M258.4 303.8h0M259.1 293.7h0M254.3 300.5h0M248.1 292.8h0M248.5 294.3h0M255.7 299.2h0M249.7 301.8h0M253.0 282.1h0M249.0 293.9h0M253.5 296.0h0M257.2 302.7h0M253.5 302.5h0M251.5 303.3h0M249.7 269.6h0M252.4 296.0h0M255.8 303.6h0M256.4 297.2h0M249.2 277.1h0M248.7 294.6h0M250.9 299.9h0M257.9 296.1h0M249.8 301.2h0M255.8 298.5h0M256.1 300.8h0M253.1 297.1h0M249.8 293.2h0M249.9 294.5h0M255.4 292.1h0M254.9 303.2h0M256.9 297.5h0M248.1 293.6h0M252.3 303.5h0M252.4 300.1h0M259.8 301.4h0M255.5 294.9h0M255.6 300.7h0M251.5 299.0h0M254.8 293.8h0M258.9 297.5h0M249.8 299.7h0M250.3 298.7h0M252.6 288.9h0M252.6 296.2h0M258.3 303.4h0M249.1 299.6h0M254.8 289.2h0M250.4 278.2h0M255.5 292.3h0M254.3 300.1h0M259.1 296.6h0M250.4 297.3h0M258.9 303.2h0M251.3 272.1h0M251.4 303.3h0M254.9 298.0h0M249.1 283.6h0M250.3 287.5h0M255.1 286.6h0M255.0 289.5h0M249.4 302.0h0M248.0 303.8h0M259.4 299.8h0M255.1 294.3h0M256.5 303.1h0M253.7 301.3h0M254.5 299.5h0M256.9 298.2h0M249.4 295.7h0M250.5 298.7h0M250.6 300.2h0M248.9 285.0h0M253.3 302.7h0M253.1 294.5h0M251.3 288.0h0M254.4 295.5h0M248.1 301.9h0M259.5 300.7h0M248.5 302.8h0M251.0 283.4h0M255.8 303.0h0M258.3 299.7h0M249.0 286.3h0M249.5 302.5h0M249.7 297.6h0M255.9 297.2h0M254.0 297.1h0M256.7 293.2h0M257.0 303.1h0M251.1 303.8h0M256.5 299.0h0M258.2 291.6h0M253.2 298.2h0M250.7 303.8h0M250.8 301.1h0M253.0 288.7h0M251.0 302.2h0M251.0 298.3h0M256.5 293.8h0M251.2 290.8h0M249.5 303.6h0M258.4 298.9h0M254.4 300.5h0M260.2 301.4h0M251.9 289.4h0M249.9 276.5h0M250.8 301.8h0M252.2 301.8h0M251.4 304.0h0M251.5 302.9h0M253.7 284.6h0M249.4 296.1h0M252.8 289.3h0M248.9 300.6h0M254.0 299.4h0M255.9 300.1h0M249.8 295.8h0M248.0 301.5h0M253.0 301.1h0M256.5 291.4h0M258.6 293.8h0M249.4 296.1h0M256.5 303.9h0M251.6 303.6h0M249.4 301.2h0M248.9 301.9h0M254.7 300.8h0M250.3 298.9h0M251.6 291.9h0M257.6 291.8h0M249.4 293.1h0M253.2 296.6h0M255.8 291.9h0M256.7 301.1h0M252.4 298.7h0M259.2 301.4h0M253.7 300.9h0M252.3 286.4h0M250.3 276.3h0M251.9 285.2h0M253.3 298.1h0M250.5 295.8h0M254.3 296.7h0M248.5 297.6h0M249.5 303.0h0M257.2 302.3h0M254.3 293.8h0M248.8 301.8h0M248.6 300.4h0M250.1 266.3h0M249.2 270.1h0M259.6 299.9h0M252.1 286.8h0M254.7 303.1h0M252.9 303.8h0M248.2 292.4h0M251.2 298.0h0M249.1 286.6h0M257.7 299.1h0M259.8 300.5h0M250.4 275.1h0M256.4 303.6h0M251.4 288.7h0M258.1 301.8h0M248.0 301.5h0M256.1 291.9h0M259.0 300.4h0M256.5 301.0h0M259.6 301.1h0M258.2 303.8h0M257.9 303.6h0M253.9 282.6h0M249.7 298.3h0M250.8 301.5h0M258.0 298.8h0M254.4 303.4h0M251.9 301.1h0M250.3 286.9h0M251.8 283.4h0M248.8 302.1h0M250.6 300.5h0M259.4 299.9h0M250.1 297.7h0M253.6 297.6h0M253.9 297.5h0M249.3 290.7h0M250.5 290.2h0M250.8 271.1h0M257.6 300.9h0M254.8 296.5h0M251.6 300.7h0M253.3 299.7h0M250.1 288.7h0M251.4 292.6h0M250.9 300.5h0M254.9 302.5h0M249.5 290.1h0M258.3 300.3h0M249.4 292.8h0M258.8 303.5h0M257.5 301.3h0M259.2 298.1h0M258.6 299.2h0M259.9 300.7h0M257.1 290.5h0M253.4 297.2h0M255.9 287.6h0M258.7 292.6h0M251.1 297.2h0M248.9 302.4h0M258.7 298.0h0M251.9 278.2h0M259.8 298.9h0M250.3 272.8h0M258.3 299.9h0M256.0 289.6h0M253.5 280.8h0M249.6 296.0h0M257.3 303.5h0M256.1 303.4h0M248.8 300.0h0M260.0 299.7h0M260.0 300.6h0M255.5 285.5h0M252.7 287.6h0M249.3 296.3h0M251.1 292.4h0M249.0 301.3h0M250.5 288.8h0M251.8 299.6h0M255.3 302.8h0M250.6 291.8h0M259.7 298.0h0M252.8 299.0h0M256.0 298.5h0M257.4 299.1h0M254.1 303.7h0M253.0 297.3h0M252.1 281.7h0M255.4 295.0h0M250.4 300.8h0M254.8 294.8h0M256.2 303.6h0M253.9 302.8h0M256.6 297.7h0M252.2 300.4h0M254.6 294.4h0M255.5 296.2h0M254.1 286.6h0M251.7 280.6h0M255.0 298.5h0M249.3 275.0h0M247.7 300.5h0M259.4 300.5h0M257.3 298.3h0M248.5 298.0h0M249.3 285.0h0M253.8 289.6h0M259.4 296.8h0M253.0 302.9h0M248.1 299.1h0M259.4 302.4h0M251.7 272.1h0M254.2 282.1h0M257.8 291.2h0M250.6 275.2h0M249.6 302.8h0M252.6 301.4h0M253.9 296.8h0M248.1 297.8h0M255.2 294.6h0M250.2 301.6h0M258.1 293.5h0M250.6 272.7h0M258.5 294.4h0M257.1 288.2h0M250.2 301.5h0M258.0 303.4h0M256.8 303.0h0M250.6 304.0h0M258.9 300.7h0M249.5 290.8h0M250.8 290.6h0M252.4 299.6h0M255.3 295.1h0M252.7 291.7h0M256.2 288.0h0M252.1 299.0h0M249.2 294.0h0M251.2 301.7h0M249.7 300.0h0M257.2 301.7h0M251.1 294.1h0M253.9 292.4h0M253.6 295.7h0M250.4 281.3h0M251.3 289.4h0M253.2 293.7h0M256.9 303.2h0M254.6 302.4h0M250.5 282.5h0M253.1 300.1h0M254.1 294.8h0M250.2 296.8h0M256.2 291.4h0M255.1 294.0h0M257.1 299.7h0M248.2 301.7h0M249.6 299.3h0M253.1 281.4h0M248.9 291.7h0M248.2 297.4h0M248.5 287.6h0M248.4 303.8h0M250.7 295.7h0M255.8 292.8h0M249.6 303.7h0M251.0 272.4h0M253.7 301.8h0M251.5 278.6h0M254.2 289.3h0M248.4 298.4h0M253.6 295.2h0M251.4 299.7h0M254.5 292.5h0M248.3 302.7h0M249.5 301.5h0M250.1 297.1h0M250.0 303.3h0M254.7 303.3h0M258.3 303.3h0M253.0 281.7h0M251.5 293.1h0M248.7 295.9h0M257.3 298.7h0M252.8 300.5h0M251.8 284.7h0M256.1 303.0h0M258.7 302.3h0M277.1 286.5h0M276.9 264.0h0M275.0 296.6h0M269.1 300.8h0M270.7 293.1h0M271.4 297.6h0M275.9 288.2h0M277.7 283.2h0M272.0 288.6h0M274.5 295.5h0M273.2 293.8h0M269.4 302.8h0M269.7 303.6h0M273.8 289.4h0M270.9 297.1h0M270.5 297.7h0M269.3 292.9h0M271.2 296.8h0M269.0 302.2h0M271.9 282.3h0M269.1 296.8h0M276.2 292.3h0M274.0 296.2h0M274.7 274.8h0M268.9 300.4h0M277.6 270.0h0M274.8 298.8h0M272.4 293.7h0M272.9 295.8h0M271.5 302.0h0M268.1 300.7h0M270.3 302.6h0M273.2 301.1h0M273.5 300.2h0M275.7 293.4h0M269.1 294.5h0M269.2 293.3h0M270.9 293.5h0M275.7 293.1h0M274.8 285.5h0M271.4 296.3h0M277.8 267.2h0M271.0 303.5h0M274.6 289.3h0M269.3 303.8h0M272.8 301.0h0M270.6 301.6h0M271.0 292.8h0M271.8 301.5h0M269.5 300.8h0M269.3 301.6h0M274.9 277.3h0M273.3 283.6h0M275.9 287.3h0M270.7 292.3h0M270.5 297.8h0M270.4 292.8h0M271.7 297.6h0M275.4 293.1h0M273.4 302.2h0M270.3 301.7h0M268.7 299.5h0M274.7 274.4h0M269.7 290.8h0M271.1 301.1h0M270.9 303.9h0M271.5 302.5h0M270.4 290.3h0M272.1 298.4h0M270.4 303.1h0M268.1 302.1h0M272.8 294.4h0M270.1 302.7h0M271.8 295.1h0M270.5 295.6h0M269.4 301.6h0M275.4 290.8h0M271.3 293.1h0M271.2 300.7h0M272.1 284.8h0M277.1 290.0h0M271.1 287.9h0M276.9 281.3h0M270.4 295.5h0M268.7 300.9h0M272.8 299.4h0M272.0 301.9h0M273.0 296.8h0M276.0 273.3h0M269.3 296.9h0M276.7 282.3h0M274.6 295.0h0M272.4 291.9h0M272.0 297.3h0M270.7 301.3h0M271.4 303.9h0M271.8 286.1h0M269.8 302.9h0M278.9 273.7h0M269.7 299.5h0M269.7 299.7h0M271.1 297.8h0M272.1 297.9h0M269.9 303.9h0M278.5 266.9h0M271.8 301.2h0M275.2 298.0h0M277.9 275.8h0M271.6 289.2h0M270.8 291.4h0M272.8 302.3h0M274.0 300.0h0M270.2 298.6h0M269.3 303.0h0M273.0 298.4h0M273.1 300.9h0M272.2 301.3h0M268.4 299.3h0M268.2 303.0h0M268.5 300.1h0M268.6 298.0h0M269.3 296.0h0M274.0 292.4h0M272.5 295.8h0M271.9 293.4h0M273.8 298.7h0M273.3 300.3h0M277.5 265.3h0M275.1 294.0h0M273.4 301.6h0M268.2 301.2h0M278.9 272.0h0M271.1 292.5h0M268.9 300.7h0M274.4 299.7h0M268.5 303.3h0M278.8 272.6h0M272.7 293.7h0M272.7 301.0h0M276.0 294.3h0M270.9 298.3h0M271.6 303.7h0M272.6 302.9h0M270.3 303.9h0M269.0 299.7h0M272.5 294.8h0M272.5 280.7h0M273.2 289.3h0M270.0 300.5h0M274.7 276.1h0M273.4 298.0h0M277.6 280.2h0M268.8 303.3h0M275.4 291.7h0M269.1 297.1h0M270.7 298.7h0M268.2 302.5h0M271.0 302.5h0M271.0 302.0h0M274.5 284.6h0M269.8 303.2h0M271.8 301.7h0M272.7 299.4h0M276.1 272.3h0M270.9 303.4h0M269.7 302.8h0M269.0 296.7h0M271.0 298.0h0M272.1 289.5h0M269.6 293.0h0M272.4 299.1h0M269.0 303.7h0M272.6 300.9h0M271.1 302.6h0M273.8 289.9h0M273.3 300.2h0M269.0 300.9h0M270.3 299.2h0M268.0 300.8h0M272.1 286.9h0M277.5 266.5h0M271.6 291.5h0M269.4 300.5h0M276.2 276.3h0M269.5 297.9h0M271.6 282.9h0M275.0 292.7h0M274.9 297.4h0M272.7 296.7h0M274.6 290.2h0M269.5 301.8h0M272.8 297.1h0M268.2 298.5h0M276.4 287.8h0M274.9 294.0h0M269.4 294.2h0M268.2 300.8h0M273.9 293.0h0M268.6 303.3h0M270.7 303.9h0M272.5 292.4h0M270.2 302.4h0M271.5 287.4h0M274.3 292.8h0M274.4 298.7h0M273.6 298.0h0M273.7 301.4h0M276.3 294.7h0M270.8 297.3h0M270.3 288.8h0M270.2 294.7h0M268.9 301.0h0M270.1 296.9h0M272.6 302.4h0M275.9 291.8h0M272.6 301.1h0M275.3 297.4h0M272.7 300.0h0M271.6 292.8h0M273.3 288.1h0M270.0 302.3h0M271.6 301.2h0M268.5 302.6h0M269.0 302.2h0M272.5 303.0h0M271.8 299.9h0M273.9 294.7h0M272.3 288.8h0M274.1 297.8h0M274.0 299.5h0M269.3 300.8h0M269.0 297.3h0M268.2 301.4h0M268.9 303.0h0M278.3 272.4h0M269.1 295.5h0M275.0 279.7h0M275.4 287.9h0M278.2 272.0h0M270.6 300.0h0M274.2 299.7h0M273.0 300.0h0M271.4 303.1h0M268.5 299.6h0M279.1 266.4h0M276.1 284.6h0M271.1 301.4h0M268.3 303.7h0M273.3 301.5h0M272.4 297.5h0M270.1 291.2h0M276.4 293.2h0M272.6 295.7h0M274.3 291.3h0M272.3 300.8h0M269.6 301.1h0M273.3 302.2h0M275.4 267.3h0M276.1 291.5h0M278.5 279.8h0M272.5 301.6h0M274.3 293.2h0M271.0 299.9h0M268.1 303.6h0M272.9 302.2h0M276.1 292.9h0M275.6 281.5h0M273.8 295.7h0M271.4 300.7h0M271.7 292.1h0M269.0 301.5h0M270.4 291.8h0M276.5 278.2h0M272.7 297.0h0M274.0 301.1h0M274.8 295.0h0M271.9 302.5h0M273.3 285.1h0M271.4 302.3h0M274.3 298.7h0M275.1 285.7h0M276.3 287.0h0M277.4 282.9h0M271.6 298.4h0M269.2 301.3h0M275.2 293.2h0M275.3 298.0h0M277.8 270.1h0M274.2 283.1h0M278.1 280.0h0M275.0 286.0h0M275.4 297.2h0M271.7 302.2h0M273.3 298.3h0M275.8 291.3h0M268.6 300.6h0M279.0 267.2h0M269.7 290.8h0M270.1 299.0h0M276.1 294.0h0M268.1 303.1h0M270.9 302.3h0M271.3 293.0h0M274.8 296.9h0M274.3 297.1h0M269.0 297.7h0M268.3 298.3h0M273.5 281.0h0M268.1 301.0h0M271.7 302.4h0M269.8 303.8h0M273.4 298.2h0M272.7 303.4h0M277.1 282.8h0M274.6 294.5h0M273.0 292.1h0M272.2 303.2h0M270.4 304.0h0M271.4 301.7h0M271.7 295.2h0M274.7 299.4h0M271.0 295.5h0M272.6 299.0h0M272.9 286.3h0M272.9 296.4h0M274.8 295.4h0M272.6 299.8h0M269.9 303.7h0M271.6 300.4h0M270.4 300.3h0M269.4 301.4h0M269.3 292.9h0M273.8 298.2h0M274.4 287.8h0M268.8 304.0h0M270.2 289.5h0M268.5 303.0h0M268.9 297.7h0M271.2 303.6h0M272.0 301.3h0M276.6 285.7h0M274.3 283.8h0M272.5 285.4h0M277.3 270.6h0M277.4 273.6h0M276.9 282.1h0M272.4 283.4h0M274.1 297.6h0M273.3 295.2h0M277.3 285.1h0M274.2 281.9h0M271.1 285.7h0M272.3 298.6h0M269.8 291.1h0M275.7 281.4h0M269.9 303.9h0M270.8 300.7h0M273.7 301.4h0M278.9 270.8h0M273.7 297.3h0M268.4 303.1h0M276.6 293.0h0M272.7 298.4h0M272.6 280.9h0M278.0 285.4h0M272.8 303.3h0M270.5 302.5h0M268.3 303.5h0M272.1 300.6h0M275.4 283.2h0M275.8 289.2h0M270.3 294.6h0M271.9 297.9h0M272.7 302.2h0M273.1 301.6h0M268.1 301.9h0M269.6 300.0h0M273.4 301.8h0M269.6 294.5h0M268.2 303.5h0" stroke="#4A78D8" stroke-width="1.05" stroke-linecap="round" stroke-opacity="0.9" fill="none"/>
<line x1="246.20" y1="254.50" x2="246.20" y2="307.20" stroke="#333" stroke-width="0.5" stroke-dasharray="1 0.8"/>
<line x1="280.60" y1="254.50" x2="280.60" y2="307.20" stroke="#333" stroke-width="0.5" stroke-dasharray="1 0.8"/>
<line x1="175.00" y1="303.50" x2="331.00" y2="303.50" stroke="#333" stroke-width="0.5" stroke-dasharray="1 0.8"/>
<path d="M246.0 266.0h0M241.0 270.0h0M238.0 273.0h0M242.0 275.0h0M239.0 277.0h0M236.0 279.0h0M240.0 281.0h0M233.0 287.0h0M239.0 289.0h0M232.0 291.0h0M240.0 293.0h0M234.0 296.0h0M231.0 297.0h0M282.0 257.0h0M285.0 260.0h0M281.0 264.0h0M279.0 268.0h0M281.0 272.0h0M280.0 276.0h0M278.0 279.0h0M279.0 283.0h0M289.0 300.0h0M283.0 262.0h0M241.6 287.1h0M244.2 288.0h0M246.1 276.8h0M245.4 281.1h0M241.2 284.1h0M245.0 283.7h0M241.6 268.4h0M246.7 297.5h0M246.5 286.1h0M247.0 271.8h0M243.8 287.5h0M242.3 293.2h0M281.2 281.5h0M280.6 276.5h0M282.2 274.1h0M280.9 265.5h0M283.6 258.7h0M283.3 268.5h0M281.8 271.3h0M280.3 271.9h0M281.8 258.5h0M282.0 259.8h0" stroke="#CC1F1F" stroke-width="1.3" stroke-linecap="round" fill="none"/>
<text x="237.00" y="266.50" font-size="3.75" text-anchor="start" font-weight="normal" font-style="normal" fill="#1a1a1a" >Cxcl2</text>
<text x="225.50" y="272.00" font-size="3.75" text-anchor="start" font-weight="normal" font-style="normal" fill="#1a1a1a" >Mag7</text>
<text x="240.50" y="272.50" font-size="3.75" text-anchor="start" font-weight="normal" font-style="normal" fill="#1a1a1a" >Il1b</text>
<text x="231.50" y="275.30" font-size="3.75" text-anchor="start" font-weight="normal" font-style="normal" fill="#1a1a1a" >Ccl3Ccl4</text>
<text x="234.00" y="278.50" font-size="3.75" text-anchor="start" font-weight="normal" font-style="normal" fill="#1a1a1a" >Wfdc17</text>
<text x="218.00" y="281.00" font-size="3.75" text-anchor="start" font-weight="normal" font-style="normal" fill="#1a1a1a" >Gsmb</text>
<text x="242.50" y="285.50" font-size="3.75" text-anchor="start" font-weight="normal" font-style="normal" fill="#1a1a1a" >Trac</text>
<text x="204.00" y="291.00" font-size="3.75" text-anchor="start" font-weight="normal" font-style="normal" fill="#1a1a1a" >Gzma</text>
<text x="240.50" y="291.50" font-size="3.75" text-anchor="start" font-weight="normal" font-style="normal" fill="#1a1a1a" >Ero1</text>
<text x="240.00" y="294.50" font-size="3.75" text-anchor="start" font-weight="normal" font-style="normal" fill="#1a1a1a" >Ccl4</text>
<text x="238.00" y="297.50" font-size="3.75" text-anchor="start" font-weight="normal" font-style="normal" fill="#1a1a1a" >Atp6v0d2</text>
<text x="290.00" y="257.50" font-size="3.75" text-anchor="start" font-weight="normal" font-style="normal" fill="#1a1a1a" >Lst2</text>
<text x="283.00" y="260.50" font-size="3.75" text-anchor="start" font-weight="normal" font-style="normal" fill="#1a1a1a" >Aplaa</text>
<text x="278.00" y="264.50" font-size="3.75" text-anchor="start" font-weight="normal" font-style="normal" fill="#1a1a1a" >Plaat</text>
<text x="293.00" y="270.00" font-size="3.75" text-anchor="start" font-weight="normal" font-style="normal" fill="#1a1a1a" >Gpnmb</text>
<text x="279.00" y="270.50" font-size="3.75" text-anchor="start" font-weight="normal" font-style="normal" fill="#1a1a1a" >Ctsk</text>
<text x="289.00" y="277.00" font-size="3.75" text-anchor="start" font-weight="normal" font-style="normal" fill="#1a1a1a" >Fabp5</text>
<text x="281.00" y="276.50" font-size="3.75" text-anchor="start" font-weight="normal" font-style="normal" fill="#1a1a1a" >Lpl</text>
<text x="278.50" y="284.00" font-size="3.75" text-anchor="start" font-weight="normal" font-style="normal" fill="#1a1a1a" >Ctsl</text>
<text x="283.50" y="299.00" font-size="3.75" text-anchor="start" font-weight="normal" font-style="normal" fill="#1a1a1a" >Spp1</text>
<text x="333.80" y="213.40" font-size="10.6" text-anchor="start" font-weight="bold" font-style="normal" fill="#000" >D</text>
<text x="390.3" y="215.8" font-size="9.7" font-weight="bold" fill="#000">Cluster 7 <tspan font-style="italic">vs.</tspan> all:</text>
<text x="354.00" y="229.00" font-size="4.6" text-anchor="start" font-weight="bold" font-style="normal" fill="#111" >Volcano plot</text>
<text x="354.00" y="235.00" font-size="4.1" text-anchor="start" font-weight="normal" font-style="italic" fill="#555" >EnhancedVolcano</text>
<circle cx="388.6" cy="243" r="1.45" fill="#8A8A8A"/>
<text x="391.6" y="244.4" font-size="3.9" fill="#222">NS</text>
<circle cx="402.1" cy="243" r="1.45" fill="#3BAF4A"/>
<text x="405.1" y="244.4" font-size="3.9" fill="#222">log<tspan font-size="2.6" dy="1">2</tspan><tspan dy="-1"> FC</tspan></text>
<circle cx="424.2" cy="243" r="1.45" fill="#7088E4"/>
<text x="427.2" y="244.4" font-size="3.9" fill="#222"><tspan font-style="italic">P</tspan>-value</text>
<circle cx="445.3" cy="243" r="1.45" fill="#E43030"/>
<text x="448.3" y="244.4" font-size="3.9" fill="#222"><tspan font-style="italic">P</tspan> - value and log<tspan font-size="2.6" dy="1">2</tspan><tspan dy="-1"> FC</tspan></text>
<rect x="353.5" y="253.8" width="156.10000000000002" height="52.80000000000001" fill="#fff"/>
<line x1="357.80" y1="253.80" x2="357.80" y2="306.60" stroke="#EBEBEB" stroke-width="0.4"/>
<line x1="375.25" y1="253.80" x2="375.25" y2="306.60" stroke="#EBEBEB" stroke-width="0.4"/>
<line x1="392.70" y1="253.80" x2="392.70" y2="306.60" stroke="#EBEBEB" stroke-width="0.4"/>
<line x1="410.15" y1="253.80" x2="410.15" y2="306.60" stroke="#EBEBEB" stroke-width="0.4"/>
<line x1="427.60" y1="253.80" x2="427.60" y2="306.60" stroke="#EBEBEB" stroke-width="0.4"/>
<line x1="445.05" y1="253.80" x2="445.05" y2="306.60" stroke="#EBEBEB" stroke-width="0.4"/>
<line x1="462.50" y1="253.80" x2="462.50" y2="306.60" stroke="#EBEBEB" stroke-width="0.4"/>
<line x1="479.95" y1="253.80" x2="479.95" y2="306.60" stroke="#EBEBEB" stroke-width="0.4"/>
<line x1="497.40" y1="253.80" x2="497.40" y2="306.60" stroke="#EBEBEB" stroke-width="0.4"/>
<line x1="353.50" y1="304.20" x2="509.60" y2="304.20" stroke="#EBEBEB" stroke-width="0.4"/>
<line x1="353.50" y1="297.50" x2="509.60" y2="297.50" stroke="#EBEBEB" stroke-width="0.4"/>
<line x1="353.50" y1="290.80" x2="509.60" y2="290.80" stroke="#EBEBEB" stroke-width="0.4"/>
<line x1="353.50" y1="284.10" x2="509.60" y2="284.10" stroke="#EBEBEB" stroke-width="0.4"/>
<line x1="353.50" y1="277.40" x2="509.60" y2="277.40" stroke="#EBEBEB" stroke-width="0.4"/>
<line x1="353.50" y1="270.70" x2="509.60" y2="270.70" stroke="#EBEBEB" stroke-width="0.4"/>
<line x1="353.50" y1="264.00" x2="509.60" y2="264.00" stroke="#EBEBEB" stroke-width="0.4"/>
<line x1="353.50" y1="257.30" x2="509.60" y2="257.30" stroke="#EBEBEB" stroke-width="0.4"/>
<line x1="353.50" y1="253.80" x2="353.50" y2="306.60" stroke="#333" stroke-width="0.9"/>
<line x1="353.50" y1="306.60" x2="509.60" y2="306.60" stroke="#333" stroke-width="0.9"/>
<line x1="357.80" y1="306.60" x2="357.80" y2="307.80" stroke="#222" stroke-width="0.5"/>
<text x="357.80" y="312.80" font-size="4.8" text-anchor="middle" font-weight="normal" font-style="normal" fill="#555" >-4</text>
<line x1="392.70" y1="306.60" x2="392.70" y2="307.80" stroke="#222" stroke-width="0.5"/>
<text x="392.70" y="312.80" font-size="4.8" text-anchor="middle" font-weight="normal" font-style="normal" fill="#555" >-2</text>
<line x1="427.60" y1="306.60" x2="427.60" y2="307.80" stroke="#222" stroke-width="0.5"/>
<text x="427.60" y="312.80" font-size="4.8" text-anchor="middle" font-weight="normal" font-style="normal" fill="#555" >0</text>
<line x1="462.50" y1="306.60" x2="462.50" y2="307.80" stroke="#222" stroke-width="0.5"/>
<text x="462.50" y="312.80" font-size="4.8" text-anchor="middle" font-weight="normal" font-style="normal" fill="#555" >2</text>
<line x1="497.40" y1="306.60" x2="497.40" y2="307.80" stroke="#222" stroke-width="0.5"/>
<text x="497.40" y="312.80" font-size="4.8" text-anchor="middle" font-weight="normal" font-style="normal" fill="#555" >4</text>
<line x1="352.30" y1="304.20" x2="353.50" y2="304.20" stroke="#222" stroke-width="0.5"/>
<text x="351.70" y="305.90" font-size="4.8" text-anchor="end" font-weight="normal" font-style="normal" fill="#555" >0</text>
<line x1="352.30" y1="290.80" x2="353.50" y2="290.80" stroke="#222" stroke-width="0.5"/>
<text x="351.70" y="292.50" font-size="4.8" text-anchor="end" font-weight="normal" font-style="normal" fill="#555" >50</text>
<line x1="352.30" y1="277.40" x2="353.50" y2="277.40" stroke="#222" stroke-width="0.5"/>
<text x="351.70" y="279.10" font-size="4.8" text-anchor="end" font-weight="normal" font-style="normal" fill="#555" >100</text>
<line x1="352.30" y1="264.00" x2="353.50" y2="264.00" stroke="#222" stroke-width="0.5"/>
<text x="351.70" y="265.70" font-size="4.8" text-anchor="end" font-weight="normal" font-style="normal" fill="#555" >150</text>
<text x="0" y="0" font-size="5.2" fill="#333" text-anchor="middle" transform="translate(341.0,280.5) rotate(-90)">- Log<tspan font-size="3.4" dy="1">10</tspan><tspan dy="-1" font-style="italic"> P</tspan></text>
<text x="432.55" y="318.1" font-size="4.9" fill="#222" text-anchor="middle">log<tspan font-size="3.2" dy="1">2</tspan><tspan dy="-1"> fold change</tspan></text>
<text x="509.50" y="325.40" font-size="3.7" text-anchor="end" font-weight="normal" font-style="normal" fill="#222" >total = 1412 variables</text>
<path d="M418.6 285.7h0M411.9 293.2h0M417.3 297.4h0M414.2 287.7h0M416.0 297.6h0M420.7 297.1h0M414.1 288.2h0M415.2 302.2h0M422.7 301.5h0M416.1 290.0h0M417.4 296.3h0M423.0 297.9h0M420.0 300.4h0M414.8 290.8h0M415.8 285.3h0M414.1 286.3h0M421.3 300.5h0M420.8 290.6h0M411.9 293.2h0M412.5 299.7h0M417.8 290.6h0M415.6 293.4h0M416.9 301.1h0M419.5 298.0h0M412.0 288.6h0M416.9 295.4h0M418.1 293.5h0M421.1 298.1h0M415.7 287.2h0M419.5 298.6h0M415.3 291.3h0M423.2 300.0h0M420.5 302.9h0M422.5 298.8h0M414.6 291.4h0M423.1 299.2h0M413.4 303.0h0M419.9 291.5h0M415.1 281.2h0M412.6 287.1h0M415.9 299.4h0M414.4 287.6h0M412.3 294.1h0M411.5 295.3h0M421.1 291.6h0M414.4 302.8h0M416.7 285.1h0M419.9 296.7h0M417.3 296.5h0M421.2 292.8h0M419.6 289.5h0M414.0 302.7h0M416.7 300.3h0M412.8 298.5h0M414.8 286.4h0M418.1 302.5h0M415.7 286.3h0M415.6 298.8h0M411.9 285.7h0M418.3 301.3h0M414.1 290.0h0M416.2 301.2h0M420.3 289.0h0M416.0 294.8h0M420.5 292.9h0M420.8 296.2h0M422.2 294.8h0M415.9 288.2h0M415.1 295.2h0M419.6 292.0h0M421.8 302.8h0M418.8 300.7h0M413.4 292.9h0M413.3 288.7h0M411.4 292.0h0M418.9 300.2h0M412.2 295.5h0M414.9 300.2h0M422.3 300.7h0M417.8 298.8h0M413.8 293.1h0M416.0 297.4h0M422.3 298.1h0M413.3 301.2h0M412.2 289.5h0M416.3 301.2h0M415.8 281.4h0M413.1 294.6h0M419.9 291.7h0M419.1 302.6h0M419.2 301.5h0M419.6 299.9h0M422.4 301.0h0M412.2 299.7h0M415.9 303.2h0M417.6 301.7h0M412.0 289.4h0M419.7 289.4h0M419.5 288.1h0M419.7 301.9h0M412.7 294.8h0M415.9 288.8h0M414.4 299.1h0M415.0 289.7h0M413.3 300.0h0M420.7 300.8h0M418.8 286.5h0M414.0 295.4h0M416.3 299.0h0M415.7 298.1h0M417.3 299.7h0M423.3 300.8h0M415.1 289.6h0M415.7 290.0h0M414.4 282.2h0M419.8 293.1h0M413.0 290.7h0M414.0 287.9h0M418.5 298.3h0M420.0 297.3h0M412.3 285.9h0M419.5 302.6h0M415.1 282.1h0M423.0 301.4h0M414.1 294.7h0M415.3 294.3h0M420.8 302.5h0M420.1 302.3h0M413.6 299.8h0M417.8 298.3h0M413.6 302.5h0M418.6 299.5h0M412.5 301.1h0M419.1 296.3h0M413.2 299.1h0M412.5 290.4h0M419.1 291.9h0M412.3 293.5h0M417.9 295.0h0M413.9 286.9h0M411.2 283.3h0M421.8 302.3h0M413.9 293.4h0M416.7 302.3h0M413.9 298.8h0M421.5 300.6h0M411.9 290.9h0M421.5 301.9h0M417.5 294.4h0M419.1 296.9h0M420.2 289.0h0M422.5 299.2h0M416.9 283.0h0M420.1 298.6h0M418.0 288.4h0M413.9 301.1h0M420.8 293.1h0M414.6 302.6h0M417.2 295.4h0M415.5 299.4h0M423.0 302.4h0M412.2 282.8h0M423.7 302.3h0M416.5 286.9h0M423.5 301.0h0M413.9 297.0h0M415.7 283.7h0M419.3 288.8h0M422.7 302.5h0M412.5 293.6h0M411.2 289.3h0M417.9 288.3h0M415.3 296.4h0M420.4 296.9h0M423.2 300.2h0M419.6 302.6h0M415.8 300.9h0M416.9 296.6h0M412.3 286.8h0M412.9 292.5h0M423.1 303.1h0M421.4 292.6h0M417.3 292.5h0M416.5 285.2h0M415.0 300.4h0M419.2 293.0h0M421.0 296.2h0M419.8 292.4h0M414.1 290.1h0M422.5 301.2h0M417.2 284.0h0M417.0 295.9h0M413.2 295.9h0M415.9 291.6h0M412.7 296.7h0M422.1 302.2h0M415.2 297.6h0M421.2 300.9h0M415.6 297.0h0M416.6 290.4h0M417.3 295.6h0M420.2 301.4h0M419.5 301.0h0M412.8 287.7h0M416.2 282.4h0M417.9 284.4h0M416.1 283.7h0M414.0 286.4h0M423.7 301.4h0M423.9 301.8h0M420.8 300.7h0M417.1 297.2h0M412.3 290.7h0M414.6 301.5h0M415.1 289.8h0M416.0 292.1h0M413.0 292.6h0M423.7 302.9h0M421.3 298.4h0M418.4 302.2h0M417.5 292.7h0M412.0 283.3h0M415.1 302.3h0M413.9 293.2h0M412.5 299.1h0M413.4 300.6h0M421.8 302.6h0M414.0 282.2h0M415.8 302.1h0M419.2 292.1h0M417.8 290.3h0M417.8 288.6h0M413.5 284.0h0M415.9 296.4h0M419.9 295.8h0M417.0 297.4h0M415.2 288.6h0M417.0 290.2h0M415.2 291.0h0M417.0 294.7h0M411.6 290.9h0M424.4 303.0h0M416.2 283.1h0M419.4 290.6h0M419.4 302.4h0M421.1 302.5h0M418.1 286.7h0M421.1 293.6h0M417.2 295.7h0M414.1 300.6h0M423.8 300.8h0M419.6 293.9h0M415.5 288.0h0M418.8 299.5h0M421.6 297.6h0M416.1 284.5h0M417.1 293.5h0M420.4 296.4h0M416.1 289.8h0M417.0 302.4h0M412.5 301.3h0M413.7 291.6h0M416.6 286.8h0M417.8 286.6h0M412.7 297.9h0M416.8 292.7h0M421.1 296.0h0M414.2 301.7h0M417.5 296.8h0M414.9 302.4h0M412.5 300.5h0M419.4 294.6h0M423.4 298.8h0M413.0 288.9h0M421.8 295.9h0M422.0 302.4h0M412.8 297.0h0M416.1 293.5h0M411.7 290.6h0M416.8 284.1h0M416.1 292.9h0M412.7 298.4h0M414.4 290.1h0M418.4 303.1h0M414.4 297.6h0M419.3 297.1h0M421.0 299.5h0M415.7 302.3h0M413.9 298.0h0M416.9 298.1h0M417.9 294.6h0M419.6 289.0h0M419.5 296.2h0M420.2 295.3h0M418.4 299.2h0M415.6 290.9h0M413.9 298.0h0M417.0 284.6h0M411.1 285.5h0M412.3 288.5h0M419.4 298.5h0M423.8 299.8h0M412.9 292.4h0M413.7 300.2h0M416.2 291.1h0M420.5 299.1h0M413.8 297.5h0M415.3 295.1h0M414.7 302.4h0M412.6 301.6h0M423.2 299.6h0M414.0 302.0h0M415.3 290.1h0M416.1 289.5h0M412.3 281.9h0M421.6 302.1h0M414.0 298.7h0M422.1 300.9h0M420.1 290.4h0M411.4 282.3h0M420.7 295.8h0M415.4 299.9h0M417.1 302.0h0M417.0 301.9h0M423.8 302.6h0M417.8 294.6h0M418.9 299.4h0M417.3 303.0h0M416.6 291.1h0M423.2 300.3h0M418.1 296.4h0M416.4 283.9h0M412.1 298.5h0M417.9 297.2h0M413.0 302.5h0M419.0 302.9h0M415.6 303.1h0M414.1 293.5h0M414.6 296.1h0M420.5 300.2h0M417.1 303.0h0M416.0 293.2h0M412.1 293.6h0M419.3 297.0h0M423.2 299.9h0M416.4 281.6h0M414.0 302.5h0M423.2 297.4h0M423.1 299.3h0M417.6 303.0h0M414.0 294.3h0M414.4 290.3h0M422.0 301.9h0M419.5 294.1h0M422.7 300.2h0M414.3 302.1h0M421.9 298.7h0M416.5 288.1h0M411.3 289.4h0M417.6 289.2h0M422.1 302.5h0M415.7 302.7h0M420.4 290.9h0M417.3 299.0h0M412.1 281.7h0M416.3 298.3h0M413.5 294.9h0M417.2 301.9h0M412.2 300.1h0M413.7 288.7h0M414.9 283.3h0M412.8 297.7h0M421.7 302.4h0M419.2 301.5h0M412.0 296.0h0M417.9 299.4h0M415.8 301.2h0M422.6 300.7h0M413.4 298.3h0M423.2 296.7h0M415.7 286.3h0M415.0 289.5h0M414.7 300.0h0M416.8 294.8h0M421.4 292.0h0M417.3 300.2h0M420.6 295.0h0M411.2 284.9h0M415.7 294.2h0M414.0 291.0h0M418.0 300.5h0M417.1 295.4h0M418.2 291.0h0M412.4 290.7h0M412.8 294.7h0M418.8 302.6h0M416.2 301.6h0M422.8 299.2h0M420.0 294.7h0M422.0 294.1h0M411.7 295.6h0M422.3 295.8h0M423.0 297.1h0M413.8 290.3h0M421.8 298.5h0M419.7 299.2h0M416.7 287.4h0M417.2 297.0h0M416.0 302.9h0M418.5 297.9h0M421.0 300.7h0M413.7 295.7h0M418.4 302.6h0M413.2 283.1h0M422.6 294.6h0M416.4 301.1h0M421.1 295.4h0M415.9 292.9h0M417.2 291.5h0M412.4 302.0h0M438.4 290.9h0M432.3 300.6h0M439.4 289.2h0M437.5 291.0h0M436.0 299.1h0M437.7 301.0h0M436.1 292.2h0M433.8 300.9h0M432.4 297.7h0M440.5 291.6h0M439.4 299.3h0M435.2 295.2h0M436.4 287.5h0M437.1 295.1h0M438.7 292.2h0M443.1 285.6h0M440.6 280.7h0M432.8 299.8h0M434.0 302.5h0M435.1 299.7h0M438.5 302.4h0M432.1 298.6h0M433.3 297.9h0M432.5 295.6h0M438.6 292.8h0M437.6 298.0h0M438.0 301.6h0M437.8 299.8h0M434.7 295.5h0M439.2 285.5h0M440.2 291.7h0M433.7 298.0h0M435.8 303.0h0M443.9 282.2h0M439.0 300.7h0M440.7 285.0h0M434.4 292.2h0M440.6 290.4h0M434.6 295.7h0M433.3 293.7h0M438.7 287.6h0M438.5 302.3h0M432.2 299.3h0M437.8 294.9h0M441.1 290.2h0M437.7 298.2h0M435.6 302.3h0M435.2 302.7h0M438.9 284.7h0M439.8 282.7h0M435.2 289.2h0M438.9 291.2h0M435.6 294.7h0M433.3 297.6h0M437.9 301.8h0M436.9 301.1h0M433.2 300.4h0M441.5 288.5h0M440.3 285.3h0M439.7 293.9h0M432.7 301.2h0M434.1 292.6h0M434.8 302.8h0M439.4 292.8h0M437.4 296.1h0M439.6 294.9h0M433.9 300.0h0M434.2 298.2h0M436.5 298.5h0M437.7 298.1h0M434.1 299.6h0M438.3 288.3h0M434.8 303.0h0M440.4 288.1h0M433.9 298.3h0M436.4 298.5h0M431.3 302.4h0M432.3 297.1h0M436.3 299.1h0M440.6 290.3h0M431.9 300.3h0M439.8 295.8h0M437.9 293.6h0M439.5 293.2h0M437.7 296.4h0M438.7 298.2h0M443.3 287.1h0M435.8 294.3h0M433.6 301.7h0M436.9 302.4h0M443.4 286.3h0M439.2 293.6h0M435.6 293.9h0M439.6 293.0h0M434.1 297.8h0M437.2 289.3h0M438.8 298.5h0M439.2 293.6h0M433.4 295.3h0M439.5 291.8h0M435.7 299.7h0M433.4 292.9h0M434.7 299.8h0M436.4 290.9h0M433.1 301.7h0M437.7 300.9h0M433.9 293.1h0M436.7 287.8h0M434.6 295.1h0M436.8 292.9h0M434.4 300.5h0M442.5 282.1h0M437.8 301.2h0M437.8 285.1h0M437.8 299.5h0M433.6 293.4h0M437.9 300.7h0M437.9 302.2h0M435.2 299.1h0M432.5 296.8h0M433.2 301.2h0M437.6 302.4h0M434.0 299.0h0M432.5 301.8h0M432.4 297.3h0M434.7 293.6h0M438.0 295.5h0M436.1 302.6h0M437.4 302.7h0M441.6 286.1h0M437.2 288.2h0M436.1 291.9h0M435.5 299.5h0M433.1 301.9h0M440.0 285.2h0M438.3 286.0h0M435.2 300.8h0M432.8 302.6h0M436.0 293.0h0M437.2 303.0h0M439.3 292.2h0M440.7 293.2h0M432.0 301.2h0M437.1 295.8h0M433.7 302.4h0M436.0 289.2h0M431.7 301.2h0M443.0 285.8h0M437.0 298.6h0M432.9 295.5h0M434.0 296.2h0M433.5 302.2h0M435.0 291.0h0M433.2 302.7h0M436.0 296.3h0M437.9 290.8h0M439.7 297.8h0M432.0 298.9h0M438.4 302.0h0M435.3 298.2h0M440.5 282.4h0M436.7 300.9h0M431.1 303.0h0M437.8 302.3h0M441.7 291.9h0M434.2 292.9h0M435.4 302.9h0M438.7 295.1h0M437.1 286.4h0M438.6 297.0h0M431.7 302.5h0M440.9 294.3h0M437.2 301.4h0M433.3 303.0h0M434.4 302.1h0M435.5 301.3h0M432.2 302.7h0M432.3 300.9h0M435.8 294.8h0M434.3 303.2h0M437.3 298.0h0M437.0 296.3h0M437.6 299.2h0M437.2 290.0h0M431.6 297.0h0M436.0 303.1h0M434.4 293.3h0M437.0 303.2h0M438.8 290.8h0M433.7 292.6h0M437.7 296.2h0M433.4 301.2h0M435.1 302.8h0M440.0 287.1h0M433.6 301.9h0M434.9 292.9h0M437.9 293.8h0M435.1 303.1h0M436.1 290.9h0M435.4 299.9h0M437.5 301.2h0M434.2 298.9h0M431.5 301.8h0M438.0 294.4h0M436.2 289.0h0M436.7 290.7h0M438.6 290.6h0M434.5 301.1h0M434.0 299.5h0M435.4 295.9h0M434.1 302.8h0M439.8 292.2h0M437.9 302.1h0M435.0 303.1h0M440.3 293.5h0M439.9 291.2h0M440.2 285.2h0M432.0 301.2h0M438.4 286.0h0M432.8 302.4h0M440.9 292.7h0M437.3 288.1h0M438.5 303.1h0M442.6 282.1h0M439.0 298.1h0M435.2 300.6h0M432.6 299.3h0M434.6 299.1h0M438.4 299.5h0M437.0 301.5h0M440.7 291.1h0M433.8 303.1h0M441.3 283.7h0M432.9 298.7h0M438.2 294.4h0M432.9 300.9h0M433.6 297.8h0M438.6 287.7h0M436.9 303.1h0M435.6 301.8h0M441.9 285.0h0M443.5 286.5h0M434.1 299.8h0M434.0 302.2h0M432.9 295.7h0M441.4 287.5h0M438.4 302.5h0M434.5 299.3h0M436.9 301.3h0M438.7 293.9h0M432.3 301.5h0M441.9 282.7h0M434.8 302.6h0M439.0 296.1h0M438.2 288.6h0M437.5 297.6h0M438.9 298.8h0M434.6 291.7h0M436.7 302.9h0M437.3 287.8h0M432.0 298.9h0M434.1 295.3h0M435.4 295.4h0M436.8 299.2h0M431.9 297.2h0M439.6 282.1h0M433.6 297.6h0M438.3 298.8h0M438.3 287.1h0M435.7 301.1h0M439.2 297.4h0M433.2 300.3h0M432.9 300.0h0M432.9 294.0h0M440.1 296.3h0M437.4 294.8h0M443.5 284.3h0M435.9 289.1h0M439.0 296.0h0M435.6 293.5h0M438.4 291.2h0M437.9 301.0h0M433.0 300.4h0M437.0 295.5h0M436.9 301.7h0M436.9 301.2h0M432.7 301.7h0M434.1 296.2h0M434.6 302.6h0M434.6 298.6h0M434.4 302.3h0M439.7 297.9h0M441.2 292.1h0M434.9 301.6h0M435.0 295.3h0M438.5 300.2h0M436.2 293.5h0M435.4 290.1h0M433.4 295.0h0M436.7 292.5h0M441.6 289.4h0M435.4 296.4h0M436.0 298.6h0M435.2 295.4h0M437.0 287.4h0M438.0 289.8h0M440.5 295.6h0M434.8 302.9h0M436.3 302.3h0M431.7 301.7h0M433.4 302.1h0M440.4 292.7h0M435.2 295.0h0M440.1 285.6h0M432.2 301.3h0M433.8 300.9h0M437.2 287.6h0M436.3 301.4h0M439.4 289.5h0M432.8 302.3h0M433.9 303.1h0M433.7 294.6h0M439.9 296.5h0M441.0 293.0h0M432.5 297.2h0M435.8 295.5h0M439.3 298.4h0M436.5 295.8h0M439.9 281.6h0M434.2 301.7h0M431.5 301.0h0M435.5 302.4h0M437.4 291.9h0M438.4 302.2h0M436.5 300.0h0M438.6 295.0h0M438.2 296.8h0M438.2 302.9h0M438.9 294.6h0M437.4 291.4h0M434.3 297.3h0M430.9 303.0h0M434.7 299.4h0M438.1 289.3h0M435.7 298.5h0M435.8 301.2h0M437.0 296.4h0M437.4 300.5h0M432.4 299.4h0M435.3 301.2h0M436.9 301.3h0M434.0 301.4h0M438.2 301.3h0M431.5 297.7h0M441.0 285.5h0M439.3 297.5h0M436.8 296.3h0M434.4 301.9h0M435.4 298.4h0M434.8 297.9h0M440.2 286.3h0M438.9 286.8h0M434.8 302.3h0M439.7 295.8h0M439.1 293.9h0M434.7 291.0h0M437.3 287.5h0M437.4 289.4h0M437.4 301.4h0M437.7 298.2h0M431.9 301.9h0M436.6 302.2h0M440.7 287.9h0M431.5 298.2h0M435.6 293.1h0M440.4 286.6h0M440.5 280.4h0M431.0 300.6h0M435.6 297.0h0M431.2 302.3h0M432.2 297.7h0M437.2 302.2h0M433.6 300.2h0M436.7 303.1h0M438.8 299.1h0M437.7 295.7h0M432.0 300.7h0M435.2 302.1h0M433.8 297.3h0M438.3 295.7h0M438.4 288.7h0M433.6 302.0h0M434.6 299.4h0M438.1 301.2h0M437.0 301.8h0M432.9 302.7h0M436.9 302.4h0M442.7 286.5h0M436.7 300.4h0M433.6 294.7h0" stroke="#4A78D8" stroke-width="1.05" stroke-linecap="round" stroke-opacity="0.9" fill="none"/>
<path d="M433.0 304.2h0M433.8 303.3h0M435.0 303.9h0M433.2 304.2h0M436.2 303.5h0M433.9 303.6h0M432.4 303.4h0M436.0 303.9h0M436.0 303.4h0M434.0 303.1h0M434.4 303.9h0M437.4 303.9h0M430.5 303.2h0M434.5 303.8h0M432.2 304.0h0M437.3 303.0h0M432.5 303.4h0M431.7 303.7h0M432.8 304.3h0M435.8 304.2h0M435.0 304.2h0M435.4 303.7h0M433.5 303.8h0M434.9 303.4h0M437.1 302.9h0M432.6 303.0h0M431.7 304.2h0M434.6 303.0h0M434.1 303.4h0M434.3 304.2h0M435.9 303.9h0M435.8 304.2h0M435.6 304.0h0M432.8 303.2h0M434.4 303.9h0M430.7 303.3h0M436.1 303.9h0M436.9 303.0h0M432.1 304.3h0M434.9 303.1h0M433.9 303.9h0M430.8 303.7h0M436.7 303.5h0M430.6 303.3h0M436.6 303.5h0M432.7 304.2h0M434.3 304.0h0M435.5 304.3h0M433.1 303.5h0M435.6 303.5h0" stroke="#3a3a50" stroke-width="1.0" stroke-linecap="round" fill="none"/>
<line x1="410.15" y1="253.80" x2="410.15" y2="306.60" stroke="#333" stroke-width="0.5" stroke-dasharray="1 0.8"/>
<line x1="445.05" y1="253.80" x2="445.05" y2="306.60" stroke="#333" stroke-width="0.5" stroke-dasharray="1 0.8"/>
<line x1="353.50" y1="302.80" x2="509.60" y2="302.80" stroke="#333" stroke-width="0.5" stroke-dasharray="1 0.8"/>
<path d="M443.0 275.0h0M448.0 272.0h0M446.0 279.0h0M444.0 282.0h0M447.0 285.0h0M449.0 288.0h0M445.0 290.0h0M443.0 294.0h0M446.0 297.0h0M450.0 283.0h0M452.0 289.0h0M444.0 287.0h0M402.0 289.0h0M406.0 291.0h0M404.0 294.0h0M399.0 296.0h0M405.0 299.0h0M409.0 286.0h0M466.0 277.0h0M456.0 287.0h0M385.0 290.0h0M442.0 300.0h0M408.0 289.0h0M407.0 293.0h0M408.0 297.0h0M403.0 287.0h0M400.0 299.0h0M446.3 279.6h0M449.5 286.2h0M447.0 279.7h0M443.3 297.8h0M441.3 294.1h0M442.8 283.4h0M448.7 280.3h0M448.5 298.4h0M448.1 283.5h0M447.2 286.8h0M442.8 277.9h0M441.6 289.5h0M443.6 299.0h0M441.2 277.3h0M449.7 287.5h0M444.3 286.5h0M447.6 279.1h0M446.3 278.1h0M444.6 279.2h0M448.7 276.7h0M449.0 289.7h0M442.4 277.1h0M447.6 290.1h0M443.6 290.7h0M444.8 293.7h0M448.6 287.0h0M441.5 287.4h0M441.2 294.2h0M442.8 277.3h0M441.3 298.7h0" stroke="#CC1F1F" stroke-width="1.3" stroke-linecap="round" fill="none"/>
<text x="472.00" y="257.50" font-size="3.75" text-anchor="start" font-weight="normal" font-style="normal" fill="#1a1a1a" >Arg1</text>
<text x="468.50" y="262.00" font-size="3.75" text-anchor="start" font-weight="normal" font-style="normal" fill="#1a1a1a" >Thbs1</text>
<text x="451.50" y="272.50" font-size="3.75" text-anchor="start" font-weight="normal" font-style="normal" fill="#1a1a1a" >Gsta</text>
<text x="449.00" y="276.00" font-size="3.75" text-anchor="start" font-weight="normal" font-style="normal" fill="#1a1a1a" >Dusp1</text>
<text x="465.00" y="275.30" font-size="3.75" text-anchor="start" font-weight="normal" font-style="normal" fill="#1a1a1a" >Cst3</text>
<text x="463.50" y="278.50" font-size="3.75" text-anchor="start" font-weight="normal" font-style="normal" fill="#1a1a1a" >Ms1</text>
<text x="470.00" y="287.50" font-size="3.75" text-anchor="start" font-weight="normal" font-style="normal" fill="#1a1a1a" >Chil3</text>
<text x="450.00" y="282.50" font-size="3.75" text-anchor="start" font-weight="normal" font-style="normal" fill="#1a1a1a" >Igf1</text>
<text x="452.00" y="285.00" font-size="3.75" text-anchor="start" font-weight="normal" font-style="normal" fill="#1a1a1a" >Gatb</text>
<text x="451.00" y="290.00" font-size="3.75" text-anchor="start" font-weight="normal" font-style="normal" fill="#1a1a1a" >Fn1</text>
<text x="445.00" y="298.80" font-size="3.75" text-anchor="start" font-weight="normal" font-style="normal" fill="#1a1a1a" >Mg Mmp13</text>
<text x="447.00" y="294.00" font-size="3.75" text-anchor="start" font-weight="normal" font-style="normal" fill="#1a1a1a" >Ic1</text>
<text x="396.00" y="285.50" font-size="3.75" text-anchor="start" font-weight="normal" font-style="normal" fill="#1a1a1a" >H2R2a</text>
<text x="390.50" y="289.80" font-size="3.75" text-anchor="start" font-weight="normal" font-style="normal" fill="#1a1a1a" >Nlrp7Gcfr1</text>
<text x="400.00" y="293.50" font-size="3.75" text-anchor="start" font-weight="normal" font-style="normal" fill="#1a1a1a" >Cst1</text>
<text x="388.50" y="297.50" font-size="3.75" text-anchor="start" font-weight="normal" font-style="normal" fill="#1a1a1a" >Gsmb</text>
<text x="401.00" y="301.80" font-size="3.75" text-anchor="start" font-weight="normal" font-style="normal" fill="#1a1a1a" >Cst3</text>
<circle cx="288.5" cy="304.2" r="0.7" fill="#3BAF4A"/>
<circle cx="386.5" cy="303.6" r="0.7" fill="#3BAF4A"/>
<text x="3.00" y="353.80" font-size="10.8" text-anchor="start" font-weight="bold" font-style="normal" fill="#000" >E</text>
<line x1="16.50" y1="361.00" x2="16.50" y2="442.40" stroke="#222" stroke-width="0.7"/>
<line x1="16.50" y1="442.40" x2="455.40" y2="442.40" stroke="#222" stroke-width="0.7"/>
<line x1="15.00" y1="437.60" x2="16.50" y2="437.60" stroke="#222" stroke-width="0.6"/>
<text x="13.20" y="440.00" font-size="6.8" text-anchor="end" font-weight="normal" font-style="normal" fill="#222" >0</text>
<line x1="15.00" y1="429.64" x2="16.50" y2="429.64" stroke="#222" stroke-width="0.6"/>
<text x="13.20" y="432.04" font-size="6.8" text-anchor="end" font-weight="normal" font-style="normal" fill="#222" >1</text>
<line x1="15.00" y1="421.67" x2="16.50" y2="421.67" stroke="#222" stroke-width="0.6"/>
<text x="13.20" y="424.07" font-size="6.8" text-anchor="end" font-weight="normal" font-style="normal" fill="#222" >2</text>
<line x1="15.00" y1="413.70" x2="16.50" y2="413.70" stroke="#222" stroke-width="0.6"/>
<text x="13.20" y="416.10" font-size="6.8" text-anchor="end" font-weight="normal" font-style="normal" fill="#222" >3</text>
<line x1="15.00" y1="405.73" x2="16.50" y2="405.73" stroke="#222" stroke-width="0.6"/>
<text x="13.20" y="408.13" font-size="6.8" text-anchor="end" font-weight="normal" font-style="normal" fill="#222" >4</text>
<line x1="15.00" y1="397.77" x2="16.50" y2="397.77" stroke="#222" stroke-width="0.6"/>
<text x="13.20" y="400.17" font-size="6.8" text-anchor="end" font-weight="normal" font-style="normal" fill="#222" >5</text>
<line x1="15.00" y1="389.80" x2="16.50" y2="389.80" stroke="#222" stroke-width="0.6"/>
<text x="13.20" y="392.20" font-size="6.8" text-anchor="end" font-weight="normal" font-style="normal" fill="#222" >6</text>
<line x1="15.00" y1="381.83" x2="16.50" y2="381.83" stroke="#222" stroke-width="0.6"/>
<text x="13.20" y="384.23" font-size="6.8" text-anchor="end" font-weight="normal" font-style="normal" fill="#222" >7</text>
<line x1="15.00" y1="373.87" x2="16.50" y2="373.87" stroke="#222" stroke-width="0.6"/>
<text x="13.20" y="376.27" font-size="6.8" text-anchor="end" font-weight="normal" font-style="normal" fill="#222" >8</text>
<line x1="15.00" y1="365.90" x2="16.50" y2="365.90" stroke="#222" stroke-width="0.6"/>
<text x="13.20" y="368.30" font-size="6.8" text-anchor="end" font-weight="normal" font-style="normal" fill="#222" >9</text>
<text x="0" y="0" font-size="7.1" fill="#222" text-anchor="middle" transform="translate(7.4,402.5) rotate(-90)">Cluster</text>
<circle cx="22.80" cy="365.90" r="2.45" fill="#EEF2DA"/>
<circle cx="22.80" cy="373.87" r="3.10" fill="#FADA92"/>
<circle cx="22.80" cy="381.83" r="2.85" fill="#F7C47E"/>
<circle cx="22.80" cy="389.80" r="2.45" fill="#FADA92"/>
<circle cx="22.80" cy="397.77" r="2.60" fill="#BBD4E8"/>
<circle cx="22.80" cy="405.73" r="2.00" fill="#95B9DC"/>
<circle cx="22.80" cy="413.70" r="2.45" fill="#DAE9F1"/>
<circle cx="22.80" cy="421.67" r="3.10" fill="#E36D45"/>
<circle cx="22.80" cy="429.64" r="2.45" fill="#DAE9F1"/>
<circle cx="22.80" cy="437.60" r="2.85" fill="#FBF2BE"/>
<line x1="22.80" y1="442.40" x2="22.80" y2="444.00" stroke="#222" stroke-width="0.6"/>
<text x="0" y="0" font-size="5.9" fill="#2a2a2a" text-anchor="end" transform="translate(24.90,445.6) rotate(-90)">Adgre1</text>
<circle cx="33.21" cy="365.90" r="2.60" fill="#BBD4E8"/>
<circle cx="33.21" cy="373.87" r="3.65" fill="#F7C47E"/>
<circle cx="33.21" cy="381.83" r="3.25" fill="#F7C47E"/>
<circle cx="33.21" cy="389.80" r="3.25" fill="#F0A064"/>
<circle cx="33.21" cy="397.77" r="2.85" fill="#BBD4E8"/>
<circle cx="33.21" cy="405.73" r="2.60" fill="#BBD4E8"/>
<circle cx="33.21" cy="413.70" r="3.45" fill="#FADA92"/>
<circle cx="33.21" cy="421.67" r="3.45" fill="#FADA92"/>
<circle cx="33.21" cy="429.64" r="2.85" fill="#BBD4E8"/>
<circle cx="33.21" cy="437.60" r="2.60" fill="#BBD4E8"/>
<line x1="33.21" y1="442.40" x2="33.21" y2="444.00" stroke="#222" stroke-width="0.6"/>
<text x="0" y="0" font-size="5.9" fill="#2a2a2a" text-anchor="end" transform="translate(35.31,445.6) rotate(-90)">Itgam</text>
<circle cx="43.61" cy="365.90" r="3.10" fill="#F0A064"/>
<circle cx="43.61" cy="373.87" r="2.60" fill="#FBF2BE"/>
<circle cx="43.61" cy="381.83" r="2.00" fill="#FBF2BE"/>
<circle cx="43.61" cy="389.80" r="1.50" fill="#95B9DC"/>
<circle cx="43.61" cy="397.77" r="2.60" fill="#DAE9F1"/>
<circle cx="43.61" cy="405.73" r="2.60" fill="#FBF2BE"/>
<circle cx="43.61" cy="413.70" r="2.00" fill="#95B9DC"/>
<circle cx="43.61" cy="421.67" r="2.30" fill="#EEF2DA"/>
<circle cx="43.61" cy="429.64" r="2.45" fill="#FBF2BE"/>
<circle cx="43.61" cy="437.60" r="3.25" fill="#E36D45"/>
<line x1="43.61" y1="442.40" x2="43.61" y2="444.00" stroke="#222" stroke-width="0.6"/>
<text x="0" y="0" font-size="5.9" fill="#2a2a2a" text-anchor="end" transform="translate(45.71,445.6) rotate(-90)">Itgax</text>
<circle cx="54.02" cy="365.90" r="2.30" fill="#EEF2DA"/>
<circle cx="54.02" cy="373.87" r="2.30" fill="#EEF2DA"/>
<circle cx="54.02" cy="381.83" r="2.30" fill="#F7C47E"/>
<circle cx="54.02" cy="389.80" r="0.80" fill="#6E98CE"/>
<circle cx="54.02" cy="397.77" r="2.30" fill="#EEF2DA"/>
<circle cx="54.02" cy="405.73" r="3.10" fill="#F0A064"/>
<circle cx="54.02" cy="413.70" r="2.30" fill="#EEF2DA"/>
<circle cx="54.02" cy="421.67" r="2.60" fill="#F7C47E"/>
<circle cx="54.02" cy="429.64" r="2.85" fill="#F7C47E"/>
<circle cx="54.02" cy="437.60" r="2.00" fill="#FBF2BE"/>
<line x1="54.02" y1="442.40" x2="54.02" y2="444.00" stroke="#222" stroke-width="0.6"/>
<text x="0" y="0" font-size="5.9" fill="#2a2a2a" text-anchor="end" transform="translate(56.12,445.6) rotate(-90)">Itga4</text>
<circle cx="64.43" cy="365.90" r="3.70" fill="#F7C47E"/>
<circle cx="64.43" cy="373.87" r="3.45" fill="#FADA92"/>
<circle cx="64.43" cy="381.83" r="3.25" fill="#BBD4E8"/>
<circle cx="64.43" cy="389.80" r="3.45" fill="#F7C47E"/>
<circle cx="64.43" cy="397.77" r="3.70" fill="#95B9DC"/>
<circle cx="64.43" cy="405.73" r="3.70" fill="#BBD4E8"/>
<circle cx="64.43" cy="413.70" r="3.70" fill="#BBD4E8"/>
<circle cx="64.43" cy="421.67" r="3.70" fill="#FADA92"/>
<circle cx="64.43" cy="429.64" r="3.70" fill="#DAE9F1"/>
<circle cx="64.43" cy="437.60" r="3.70" fill="#F7C47E"/>
<line x1="64.43" y1="442.40" x2="64.43" y2="444.00" stroke="#222" stroke-width="0.6"/>
<text x="0" y="0" font-size="5.9" fill="#2a2a2a" text-anchor="end" transform="translate(66.53,445.6) rotate(-90)">Aif1</text>
<circle cx="74.83" cy="365.90" r="0.65" fill="#FBF2BE"/>
<circle cx="74.83" cy="373.87" r="0.50" fill="#EEF2DA"/>
<circle cx="74.83" cy="381.83" r="1.80" fill="#C4352B"/>
<circle cx="74.83" cy="389.80" r="0.35" fill="#DAE9F1"/>
<circle cx="74.83" cy="397.77" r="0.40" fill="#EEF2DA"/>
<circle cx="74.83" cy="405.73" r="0.50" fill="#EEF2DA"/>
<circle cx="74.83" cy="413.70" r="0.40" fill="#EEF2DA"/>
<circle cx="74.83" cy="421.67" r="0.50" fill="#EEF2DA"/>
<circle cx="74.83" cy="429.64" r="0.50" fill="#EEF2DA"/>
<circle cx="74.83" cy="437.60" r="0.50" fill="#EEF2DA"/>
<line x1="74.83" y1="442.40" x2="74.83" y2="444.00" stroke="#222" stroke-width="0.6"/>
<text x="0" y="0" font-size="5.9" fill="#2a2a2a" text-anchor="end" transform="translate(76.93,445.6) rotate(-90)">Trem1</text>
<circle cx="85.24" cy="365.90" r="0.50" fill="#EEF2DA"/>
<circle cx="85.24" cy="373.87" r="1.00" fill="#EEF2DA"/>
<circle cx="85.24" cy="381.83" r="3.70" fill="#C4352B"/>
<circle cx="85.24" cy="389.80" r="0.35" fill="#DAE9F1"/>
<circle cx="85.24" cy="397.77" r="0.75" fill="#EEF2DA"/>
<circle cx="85.24" cy="405.73" r="1.25" fill="#EEF2DA"/>
<circle cx="85.24" cy="413.70" r="0.50" fill="#EEF2DA"/>
<circle cx="85.24" cy="421.67" r="2.45" fill="#FBF2BE"/>
<circle cx="85.24" cy="429.64" r="1.50" fill="#EEF2DA"/>
<circle cx="85.24" cy="437.60" r="1.15" fill="#EEF2DA"/>
<line x1="85.24" y1="442.40" x2="85.24" y2="444.00" stroke="#222" stroke-width="0.6"/>
<text x="0" y="0" font-size="5.9" fill="#2a2a2a" text-anchor="end" transform="translate(87.34,445.6) rotate(-90)">Arg1</text>
<circle cx="95.65" cy="365.90" r="1.80" fill="#FBF2BE"/>
<circle cx="95.65" cy="373.87" r="1.50" fill="#EEF2DA"/>
<circle cx="95.65" cy="381.83" r="3.25" fill="#C4352B"/>
<circle cx="95.65" cy="389.80" r="0.40" fill="#DAE9F1"/>
<circle cx="95.65" cy="397.77" r="1.50" fill="#EEF2DA"/>
<circle cx="95.65" cy="405.73" r="1.50" fill="#EEF2DA"/>
<circle cx="95.65" cy="413.70" r="0.50" fill="#DAE9F1"/>
<circle cx="95.65" cy="421.67" r="1.80" fill="#EEF2DA"/>
<circle cx="95.65" cy="429.64" r="1.80" fill="#EEF2DA"/>
<circle cx="95.65" cy="437.60" r="2.00" fill="#FBF2BE"/>
<line x1="95.65" y1="442.40" x2="95.65" y2="444.00" stroke="#222" stroke-width="0.6"/>
<text x="0" y="0" font-size="5.9" fill="#2a2a2a" text-anchor="end" transform="translate(97.75,445.6) rotate(-90)">Mrc1</text>
<circle cx="106.06" cy="365.90" r="2.60" fill="#EEF2DA"/>
<circle cx="106.06" cy="373.87" r="2.60" fill="#EEF2DA"/>
<circle cx="106.06" cy="381.83" r="3.45" fill="#C4352B"/>
<circle cx="106.06" cy="389.80" r="2.45" fill="#DAE9F1"/>
<circle cx="106.06" cy="397.77" r="2.85" fill="#DAE9F1"/>
<circle cx="106.06" cy="405.73" r="2.85" fill="#EEF2DA"/>
<circle cx="106.06" cy="413.70" r="2.85" fill="#BBD4E8"/>
<circle cx="106.06" cy="421.67" r="2.85" fill="#EEF2DA"/>
<circle cx="106.06" cy="429.64" r="2.85" fill="#EEF2DA"/>
<circle cx="106.06" cy="437.60" r="2.85" fill="#FBF2BE"/>
<line x1="106.06" y1="442.40" x2="106.06" y2="444.00" stroke="#222" stroke-width="0.6"/>
<text x="0" y="0" font-size="5.9" fill="#2a2a2a" text-anchor="end" transform="translate(108.16,445.6) rotate(-90)">Il4ra</text>
<circle cx="116.46" cy="365.90" r="0.65" fill="#EEF2DA"/>
<circle cx="116.46" cy="373.87" r="0.65" fill="#EEF2DA"/>
<circle cx="116.46" cy="381.83" r="2.30" fill="#C4352B"/>
<circle cx="116.46" cy="389.80" r="0.40" fill="#EEF2DA"/>
<circle cx="116.46" cy="397.77" r="0.80" fill="#EEF2DA"/>
<circle cx="116.46" cy="405.73" r="0.65" fill="#EEF2DA"/>
<circle cx="116.46" cy="413.70" r="0.40" fill="#EEF2DA"/>
<circle cx="116.46" cy="421.67" r="1.65" fill="#FBF2BE"/>
<circle cx="116.46" cy="429.64" r="0.80" fill="#EEF2DA"/>
<circle cx="116.46" cy="437.60" r="0.50" fill="#EEF2DA"/>
<line x1="116.46" y1="442.40" x2="116.46" y2="444.00" stroke="#222" stroke-width="0.6"/>
<text x="0" y="0" font-size="5.9" fill="#2a2a2a" text-anchor="end" transform="translate(118.56,445.6) rotate(-90)">Chil3</text>
<circle cx="126.87" cy="365.90" r="2.00" fill="#EEF2DA"/>
<circle cx="126.87" cy="373.87" r="2.30" fill="#EEF2DA"/>
<circle cx="126.87" cy="381.83" r="3.45" fill="#C4352B"/>
<circle cx="126.87" cy="389.80" r="1.80" fill="#EEF2DA"/>
<circle cx="126.87" cy="397.77" r="2.30" fill="#EEF2DA"/>
<circle cx="126.87" cy="405.73" r="2.00" fill="#EEF2DA"/>
<circle cx="126.87" cy="413.70" r="1.80" fill="#EEF2DA"/>
<circle cx="126.87" cy="421.67" r="2.45" fill="#FBF2BE"/>
<circle cx="126.87" cy="429.64" r="2.00" fill="#EEF2DA"/>
<circle cx="126.87" cy="437.60" r="1.65" fill="#EEF2DA"/>
<line x1="126.87" y1="442.40" x2="126.87" y2="444.00" stroke="#222" stroke-width="0.6"/>
<text x="0" y="0" font-size="5.9" fill="#2a2a2a" text-anchor="end" transform="translate(128.97,445.6) rotate(-90)">Ccl6</text>
<circle cx="137.28" cy="365.90" r="1.50" fill="#EEF2DA"/>
<circle cx="137.28" cy="373.87" r="1.65" fill="#FBF2BE"/>
<circle cx="137.28" cy="381.83" r="2.60" fill="#C4352B"/>
<circle cx="137.28" cy="389.80" r="0.80" fill="#EEF2DA"/>
<circle cx="137.28" cy="397.77" r="1.65" fill="#DAE9F1"/>
<circle cx="137.28" cy="405.73" r="1.65" fill="#EEF2DA"/>
<circle cx="137.28" cy="413.70" r="0.80" fill="#95B9DC"/>
<circle cx="137.28" cy="421.67" r="2.45" fill="#FADA92"/>
<circle cx="137.28" cy="429.64" r="1.50" fill="#EEF2DA"/>
<circle cx="137.28" cy="437.60" r="1.50" fill="#EEF2DA"/>
<line x1="137.28" y1="442.40" x2="137.28" y2="444.00" stroke="#222" stroke-width="0.6"/>
<text x="0" y="0" font-size="5.9" fill="#2a2a2a" text-anchor="end" transform="translate(139.38,445.6) rotate(-90)">Fn1</text>
<circle cx="147.68" cy="365.90" r="1.80" fill="#FBF2BE"/>
<circle cx="147.68" cy="373.87" r="2.60" fill="#F0A064"/>
<circle cx="147.68" cy="381.83" r="2.00" fill="#D2452F"/>
<circle cx="147.68" cy="389.80" r="1.25" fill="#EEF2DA"/>
<circle cx="147.68" cy="397.77" r="1.65" fill="#95B9DC"/>
<circle cx="147.68" cy="405.73" r="1.50" fill="#DAE9F1"/>
<circle cx="147.68" cy="413.70" r="1.65" fill="#DAE9F1"/>
<circle cx="147.68" cy="421.67" r="1.50" fill="#EEF2DA"/>
<circle cx="147.68" cy="429.64" r="1.50" fill="#DAE9F1"/>
<circle cx="147.68" cy="437.60" r="1.50" fill="#EEF2DA"/>
<line x1="147.68" y1="442.40" x2="147.68" y2="444.00" stroke="#222" stroke-width="0.6"/>
<text x="0" y="0" font-size="5.9" fill="#2a2a2a" text-anchor="end" transform="translate(149.78,445.6) rotate(-90)">Il13ra1</text>
<circle cx="158.09" cy="365.90" r="1.50" fill="#F7C47E"/>
<circle cx="158.09" cy="373.87" r="0.50" fill="#EEF2DA"/>
<circle cx="158.09" cy="381.83" r="1.80" fill="#C4352B"/>
<circle cx="158.09" cy="389.80" r="0.40" fill="#EEF2DA"/>
<circle cx="158.09" cy="397.77" r="0.40" fill="#EEF2DA"/>
<circle cx="158.09" cy="405.73" r="0.40" fill="#EEF2DA"/>
<circle cx="158.09" cy="413.70" r="0.40" fill="#EEF2DA"/>
<circle cx="158.09" cy="421.67" r="0.40" fill="#EEF2DA"/>
<circle cx="158.09" cy="429.64" r="0.40" fill="#EEF2DA"/>
<circle cx="158.09" cy="437.60" r="1.00" fill="#F0A064"/>
<line x1="158.09" y1="442.40" x2="158.09" y2="444.00" stroke="#222" stroke-width="0.6"/>
<text x="0" y="0" font-size="5.9" fill="#2a2a2a" text-anchor="end" transform="translate(160.19,445.6) rotate(-90)">Ccl24</text>
<circle cx="168.50" cy="365.90" r="2.30" fill="#95B9DC"/>
<circle cx="168.50" cy="373.87" r="2.85" fill="#FBF2BE"/>
<circle cx="168.50" cy="381.83" r="2.85" fill="#F7C47E"/>
<circle cx="168.50" cy="389.80" r="2.45" fill="#BBD4E8"/>
<circle cx="168.50" cy="397.77" r="3.25" fill="#FADA92"/>
<circle cx="168.50" cy="405.73" r="3.45" fill="#F7C47E"/>
<circle cx="168.50" cy="413.70" r="3.10" fill="#FADA92"/>
<circle cx="168.50" cy="421.67" r="2.45" fill="#BBD4E8"/>
<circle cx="168.50" cy="429.64" r="2.85" fill="#FBF2BE"/>
<circle cx="168.50" cy="437.60" r="2.45" fill="#BBD4E8"/>
<line x1="168.50" y1="442.40" x2="168.50" y2="444.00" stroke="#222" stroke-width="0.6"/>
<text x="0" y="0" font-size="5.9" fill="#2a2a2a" text-anchor="end" transform="translate(170.60,445.6) rotate(-90)">Stat3</text>
<circle cx="178.91" cy="365.90" r="0.75" fill="#6E98CE"/>
<circle cx="178.91" cy="373.87" r="0.90" fill="#FBF2BE"/>
<circle cx="178.91" cy="381.83" r="1.70" fill="#C4352B"/>
<circle cx="178.91" cy="389.80" r="0.40" fill="#EEF2DA"/>
<circle cx="178.91" cy="397.77" r="0.40" fill="#EEF2DA"/>
<circle cx="178.91" cy="405.73" r="0.40" fill="#EEF2DA"/>
<circle cx="178.91" cy="413.70" r="0.40" fill="#EEF2DA"/>
<circle cx="178.91" cy="421.67" r="0.40" fill="#EEF2DA"/>
<circle cx="178.91" cy="429.64" r="0.40" fill="#EEF2DA"/>
<circle cx="178.91" cy="437.60" r="0.40" fill="#EEF2DA"/>
<line x1="178.91" y1="442.40" x2="178.91" y2="444.00" stroke="#222" stroke-width="0.6"/>
<text x="0" y="0" font-size="5.9" fill="#2a2a2a" text-anchor="end" transform="translate(181.00,445.6) rotate(-90)">Egr2</text>
<circle cx="189.31" cy="365.90" r="2.80" fill="#95B9DC"/>
<circle cx="189.31" cy="373.87" r="3.25" fill="#EEF2DA"/>
<circle cx="189.31" cy="381.83" r="3.25" fill="#F0A064"/>
<circle cx="189.31" cy="389.80" r="2.60" fill="#BBD4E8"/>
<circle cx="189.31" cy="397.77" r="3.50" fill="#FBF2BE"/>
<circle cx="189.31" cy="405.73" r="3.80" fill="#F0A064"/>
<circle cx="189.31" cy="413.70" r="3.25" fill="#FBF2BE"/>
<circle cx="189.31" cy="421.67" r="3.25" fill="#FBF2BE"/>
<circle cx="189.31" cy="429.64" r="3.25" fill="#EEF2DA"/>
<circle cx="189.31" cy="437.60" r="2.80" fill="#BBD4E8"/>
<line x1="189.31" y1="442.40" x2="189.31" y2="444.00" stroke="#222" stroke-width="0.6"/>
<text x="0" y="0" font-size="5.9" fill="#2a2a2a" text-anchor="end" transform="translate(191.41,445.6) rotate(-90)">Hif1a</text>
<circle cx="199.72" cy="365.90" r="1.85" fill="#FBF2BE"/>
<circle cx="199.72" cy="373.87" r="1.70" fill="#EEF2DA"/>
<circle cx="199.72" cy="381.83" r="2.00" fill="#E36D45"/>
<circle cx="199.72" cy="389.80" r="0.75" fill="#6E98CE"/>
<circle cx="199.72" cy="397.77" r="2.35" fill="#FBF2BE"/>
<circle cx="199.72" cy="405.73" r="2.60" fill="#F7C47E"/>
<circle cx="199.72" cy="413.70" r="1.70" fill="#DAE9F1"/>
<circle cx="199.72" cy="421.67" r="1.70" fill="#EEF2DA"/>
<circle cx="199.72" cy="429.64" r="2.05" fill="#FBF2BE"/>
<circle cx="199.72" cy="437.60" r="1.85" fill="#FBF2BE"/>
<line x1="199.72" y1="442.40" x2="199.72" y2="444.00" stroke="#222" stroke-width="0.6"/>
<text x="0" y="0" font-size="5.9" fill="#2a2a2a" text-anchor="end" transform="translate(201.82,445.6) rotate(-90)">Socs2</text>
<circle cx="210.13" cy="365.90" r="3.25" fill="#F7C47E"/>
<circle cx="210.13" cy="373.87" r="2.80" fill="#EEF2DA"/>
<circle cx="210.13" cy="381.83" r="3.00" fill="#F0A064"/>
<circle cx="210.13" cy="389.80" r="1.10" fill="#6E98CE"/>
<circle cx="210.13" cy="397.77" r="2.60" fill="#DAE9F1"/>
<circle cx="210.13" cy="405.73" r="2.60" fill="#EEF2DA"/>
<circle cx="210.13" cy="413.70" r="1.70" fill="#95B9DC"/>
<circle cx="210.13" cy="421.67" r="2.80" fill="#FBF2BE"/>
<circle cx="210.13" cy="429.64" r="2.60" fill="#EEF2DA"/>
<circle cx="210.13" cy="437.60" r="3.25" fill="#F7C47E"/>
<line x1="210.13" y1="442.40" x2="210.13" y2="444.00" stroke="#222" stroke-width="0.6"/>
<text x="0" y="0" font-size="5.9" fill="#2a2a2a" text-anchor="end" transform="translate(212.23,445.6) rotate(-90)">Msr1</text>
<circle cx="220.53" cy="365.90" r="2.60" fill="#F7C47E"/>
<circle cx="220.53" cy="373.87" r="0.50" fill="#EEF2DA"/>
<circle cx="220.53" cy="381.83" r="0.50" fill="#EEF2DA"/>
<circle cx="220.53" cy="389.80" r="3.00" fill="#F0A064"/>
<circle cx="220.53" cy="397.77" r="3.50" fill="#E36D45"/>
<circle cx="220.53" cy="405.73" r="0.50" fill="#EEF2DA"/>
<circle cx="220.53" cy="413.70" r="0.50" fill="#EEF2DA"/>
<circle cx="220.53" cy="421.67" r="0.50" fill="#EEF2DA"/>
<circle cx="220.53" cy="429.64" r="0.50" fill="#EEF2DA"/>
<circle cx="220.53" cy="437.60" r="0.50" fill="#EEF2DA"/>
<line x1="220.53" y1="442.40" x2="220.53" y2="444.00" stroke="#222" stroke-width="0.6"/>
<text x="0" y="0" font-size="5.9" fill="#2a2a2a" text-anchor="end" transform="translate(222.63,445.6) rotate(-90)">Top2a</text>
<circle cx="230.94" cy="365.90" r="0.50" fill="#EEF2DA"/>
<circle cx="230.94" cy="373.87" r="3.50" fill="#FADA92"/>
<circle cx="230.94" cy="381.83" r="0.50" fill="#EEF2DA"/>
<circle cx="230.94" cy="389.80" r="3.75" fill="#D2452F"/>
<circle cx="230.94" cy="397.77" r="1.70" fill="#EEF2DA"/>
<circle cx="230.94" cy="405.73" r="0.50" fill="#EEF2DA"/>
<circle cx="230.94" cy="413.70" r="3.50" fill="#FADA92"/>
<circle cx="230.94" cy="421.67" r="0.50" fill="#EEF2DA"/>
<circle cx="230.94" cy="429.64" r="0.50" fill="#EEF2DA"/>
<circle cx="230.94" cy="437.60" r="0.50" fill="#EEF2DA"/>
<line x1="230.94" y1="442.40" x2="230.94" y2="444.00" stroke="#222" stroke-width="0.6"/>
<text x="0" y="0" font-size="5.9" fill="#2a2a2a" text-anchor="end" transform="translate(233.04,445.6) rotate(-90)">Sparc</text>
<circle cx="241.35" cy="365.90" r="3.25" fill="#E36D45"/>
<circle cx="241.35" cy="373.87" r="0.50" fill="#EEF2DA"/>
<circle cx="241.35" cy="381.83" r="0.50" fill="#EEF2DA"/>
<circle cx="241.35" cy="389.80" r="3.00" fill="#F0A064"/>
<circle cx="241.35" cy="397.77" r="3.25" fill="#F7C47E"/>
<circle cx="241.35" cy="405.73" r="0.50" fill="#EEF2DA"/>
<circle cx="241.35" cy="413.70" r="0.50" fill="#EEF2DA"/>
<circle cx="241.35" cy="421.67" r="0.50" fill="#EEF2DA"/>
<circle cx="241.35" cy="429.64" r="0.50" fill="#EEF2DA"/>
<circle cx="241.35" cy="437.60" r="0.50" fill="#EEF2DA"/>
<line x1="241.35" y1="442.40" x2="241.35" y2="444.00" stroke="#222" stroke-width="0.6"/>
<text x="0" y="0" font-size="5.9" fill="#2a2a2a" text-anchor="end" transform="translate(243.45,445.6) rotate(-90)">Birc5</text>
<circle cx="251.75" cy="365.90" r="1.70" fill="#EEF2DA"/>
<circle cx="251.75" cy="373.87" r="1.10" fill="#EEF2DA"/>
<circle cx="251.75" cy="381.83" r="1.85" fill="#F7C47E"/>
<circle cx="251.75" cy="389.80" r="0.50" fill="#EEF2DA"/>
<circle cx="251.75" cy="397.77" r="0.90" fill="#EEF2DA"/>
<circle cx="251.75" cy="405.73" r="0.50" fill="#EEF2DA"/>
<circle cx="251.75" cy="413.70" r="0.75" fill="#DAE9F1"/>
<circle cx="251.75" cy="421.67" r="3.00" fill="#D2452F"/>
<circle cx="251.75" cy="429.64" r="0.90" fill="#EEF2DA"/>
<circle cx="251.75" cy="437.60" r="1.40" fill="#EEF2DA"/>
<line x1="251.75" y1="442.40" x2="251.75" y2="444.00" stroke="#222" stroke-width="0.6"/>
<text x="0" y="0" font-size="5.9" fill="#2a2a2a" text-anchor="end" transform="translate(253.85,445.6) rotate(-90)">Gpnmb</text>
<circle cx="262.16" cy="365.90" r="1.70" fill="#FBF2BE"/>
<circle cx="262.16" cy="373.87" r="2.00" fill="#F0A064"/>
<circle cx="262.16" cy="381.83" r="0.75" fill="#DAE9F1"/>
<circle cx="262.16" cy="389.80" r="2.35" fill="#D2452F"/>
<circle cx="262.16" cy="397.77" r="1.40" fill="#EEF2DA"/>
<circle cx="262.16" cy="405.73" r="0.50" fill="#EEF2DA"/>
<circle cx="262.16" cy="413.70" r="1.40" fill="#EEF2DA"/>
<circle cx="262.16" cy="421.67" r="0.50" fill="#EEF2DA"/>
<circle cx="262.16" cy="429.64" r="0.50" fill="#EEF2DA"/>
<circle cx="262.16" cy="437.60" r="1.40" fill="#EEF2DA"/>
<line x1="262.16" y1="442.40" x2="262.16" y2="444.00" stroke="#222" stroke-width="0.6"/>
<text x="0" y="0" font-size="5.9" fill="#2a2a2a" text-anchor="end" transform="translate(264.26,445.6) rotate(-90)">Cxcl10</text>
<circle cx="272.57" cy="365.90" r="3.45" fill="#FBF2BE"/>
<circle cx="272.57" cy="373.87" r="3.25" fill="#EEF2DA"/>
<circle cx="272.57" cy="381.83" r="3.45" fill="#FBF2BE"/>
<circle cx="272.57" cy="389.80" r="3.25" fill="#BBD4E8"/>
<circle cx="272.57" cy="397.77" r="3.45" fill="#DAE9F1"/>
<circle cx="272.57" cy="405.73" r="3.25" fill="#EEF2DA"/>
<circle cx="272.57" cy="413.70" r="3.25" fill="#BBD4E8"/>
<circle cx="272.57" cy="421.67" r="3.80" fill="#C4352B"/>
<circle cx="272.57" cy="429.64" r="3.45" fill="#FBF2BE"/>
<circle cx="272.57" cy="437.60" r="3.70" fill="#FADA92"/>
<line x1="272.57" y1="442.40" x2="272.57" y2="444.00" stroke="#222" stroke-width="0.6"/>
<text x="0" y="0" font-size="5.9" fill="#2a2a2a" text-anchor="end" transform="translate(274.67,445.6) rotate(-90)">Lyz2</text>
<circle cx="282.98" cy="365.90" r="2.30" fill="#FBF2BE"/>
<circle cx="282.98" cy="373.87" r="2.30" fill="#EEF2DA"/>
<circle cx="282.98" cy="381.83" r="2.30" fill="#FADA92"/>
<circle cx="282.98" cy="389.80" r="1.25" fill="#BBD4E8"/>
<circle cx="282.98" cy="397.77" r="2.00" fill="#DAE9F1"/>
<circle cx="282.98" cy="405.73" r="2.00" fill="#EEF2DA"/>
<circle cx="282.98" cy="413.70" r="1.50" fill="#BBD4E8"/>
<circle cx="282.98" cy="421.67" r="3.10" fill="#D2452F"/>
<circle cx="282.98" cy="429.64" r="2.00" fill="#EEF2DA"/>
<circle cx="282.98" cy="437.60" r="2.60" fill="#FADA92"/>
<line x1="282.98" y1="442.40" x2="282.98" y2="444.00" stroke="#222" stroke-width="0.6"/>
<text x="0" y="0" font-size="5.9" fill="#2a2a2a" text-anchor="end" transform="translate(285.08,445.6) rotate(-90)">Il18bp</text>
<circle cx="293.38" cy="365.90" r="2.85" fill="#FBF2BE"/>
<circle cx="293.38" cy="373.87" r="2.45" fill="#EEF2DA"/>
<circle cx="293.38" cy="381.83" r="2.85" fill="#FBF2BE"/>
<circle cx="293.38" cy="389.80" r="0.80" fill="#BBD4E8"/>
<circle cx="293.38" cy="397.77" r="2.45" fill="#DAE9F1"/>
<circle cx="293.38" cy="405.73" r="2.30" fill="#EEF2DA"/>
<circle cx="293.38" cy="413.70" r="1.25" fill="#BBD4E8"/>
<circle cx="293.38" cy="421.67" r="3.70" fill="#E36D45"/>
<circle cx="293.38" cy="429.64" r="2.85" fill="#FBF2BE"/>
<circle cx="293.38" cy="437.60" r="3.25" fill="#F7C47E"/>
<line x1="293.38" y1="442.40" x2="293.38" y2="444.00" stroke="#222" stroke-width="0.6"/>
<text x="0" y="0" font-size="5.9" fill="#2a2a2a" text-anchor="end" transform="translate(295.48,445.6) rotate(-90)">Ms4a7</text>
<circle cx="303.79" cy="365.90" r="0.50" fill="#EEF2DA"/>
<circle cx="303.79" cy="373.87" r="1.25" fill="#EEF2DA"/>
<circle cx="303.79" cy="381.83" r="3.25" fill="#C4352B"/>
<circle cx="303.79" cy="389.80" r="0.40" fill="#EEF2DA"/>
<circle cx="303.79" cy="397.77" r="0.50" fill="#EEF2DA"/>
<circle cx="303.79" cy="405.73" r="0.50" fill="#EEF2DA"/>
<circle cx="303.79" cy="413.70" r="0.40" fill="#EEF2DA"/>
<circle cx="303.79" cy="421.67" r="2.00" fill="#FBF2BE"/>
<circle cx="303.79" cy="429.64" r="1.25" fill="#EEF2DA"/>
<circle cx="303.79" cy="437.60" r="0.50" fill="#EEF2DA"/>
<line x1="303.79" y1="442.40" x2="303.79" y2="444.00" stroke="#222" stroke-width="0.6"/>
<text x="0" y="0" font-size="5.9" fill="#2a2a2a" text-anchor="end" transform="translate(305.89,445.6) rotate(-90)">Thbs1</text>
<circle cx="314.20" cy="365.90" r="1.80" fill="#FBF2BE"/>
<circle cx="314.20" cy="373.87" r="0.50" fill="#EEF2DA"/>
<circle cx="314.20" cy="381.83" r="2.30" fill="#D2452F"/>
<circle cx="314.20" cy="389.80" r="0.50" fill="#EEF2DA"/>
<circle cx="314.20" cy="397.77" r="0.80" fill="#BBD4E8"/>
<circle cx="314.20" cy="405.73" r="0.50" fill="#EEF2DA"/>
<circle cx="314.20" cy="413.70" r="0.65" fill="#BBD4E8"/>
<circle cx="314.20" cy="421.67" r="1.80" fill="#F7C47E"/>
<circle cx="314.20" cy="429.64" r="1.25" fill="#EEF2DA"/>
<circle cx="314.20" cy="437.60" r="1.80" fill="#FADA92"/>
<line x1="314.20" y1="442.40" x2="314.20" y2="444.00" stroke="#222" stroke-width="0.6"/>
<text x="0" y="0" font-size="5.9" fill="#2a2a2a" text-anchor="end" transform="translate(316.30,445.6) rotate(-90)">Pf4</text>
<circle cx="324.60" cy="365.90" r="3.10" fill="#FADA92"/>
<circle cx="324.60" cy="373.87" r="3.45" fill="#F0A064"/>
<circle cx="324.60" cy="381.83" r="2.85" fill="#DAE9F1"/>
<circle cx="324.60" cy="389.80" r="2.45" fill="#6E98CE"/>
<circle cx="324.60" cy="397.77" r="3.25" fill="#FBF2BE"/>
<circle cx="324.60" cy="405.73" r="3.25" fill="#FADA92"/>
<circle cx="324.60" cy="413.70" r="2.85" fill="#EEF2DA"/>
<circle cx="324.60" cy="421.67" r="3.25" fill="#F7C47E"/>
<circle cx="324.60" cy="429.64" r="3.25" fill="#FBF2BE"/>
<circle cx="324.60" cy="437.60" r="3.10" fill="#BBD4E8"/>
<line x1="324.60" y1="442.40" x2="324.60" y2="444.00" stroke="#222" stroke-width="0.6"/>
<text x="0" y="0" font-size="5.9" fill="#2a2a2a" text-anchor="end" transform="translate(326.70,445.6) rotate(-90)">Stat1</text>
<circle cx="335.01" cy="365.90" r="1.80" fill="#DAE9F1"/>
<circle cx="335.01" cy="373.87" r="2.00" fill="#95B9DC"/>
<circle cx="335.01" cy="381.83" r="1.65" fill="#DAE9F1"/>
<circle cx="335.01" cy="389.80" r="1.50" fill="#6E98CE"/>
<circle cx="335.01" cy="397.77" r="2.60" fill="#F7C47E"/>
<circle cx="335.01" cy="405.73" r="2.60" fill="#F7C47E"/>
<circle cx="335.01" cy="413.70" r="2.45" fill="#FADA92"/>
<circle cx="335.01" cy="421.67" r="1.80" fill="#FBF2BE"/>
<circle cx="335.01" cy="429.64" r="2.45" fill="#F7C47E"/>
<circle cx="335.01" cy="437.60" r="1.80" fill="#FBF2BE"/>
<line x1="335.01" y1="442.40" x2="335.01" y2="444.00" stroke="#222" stroke-width="0.6"/>
<text x="0" y="0" font-size="5.9" fill="#2a2a2a" text-anchor="end" transform="translate(337.11,445.6) rotate(-90)">Il27</text>
<circle cx="345.42" cy="365.90" r="2.45" fill="#EEF2DA"/>
<circle cx="345.42" cy="373.87" r="2.30" fill="#EEF2DA"/>
<circle cx="345.42" cy="381.83" r="3.10" fill="#F0A064"/>
<circle cx="345.42" cy="389.80" r="1.25" fill="#BBD4E8"/>
<circle cx="345.42" cy="397.77" r="2.30" fill="#DAE9F1"/>
<circle cx="345.42" cy="405.73" r="2.00" fill="#EEF2DA"/>
<circle cx="345.42" cy="413.70" r="1.50" fill="#BBD4E8"/>
<circle cx="345.42" cy="421.67" r="3.45" fill="#E36D45"/>
<circle cx="345.42" cy="429.64" r="2.45" fill="#EEF2DA"/>
<circle cx="345.42" cy="437.60" r="2.45" fill="#FBF2BE"/>
<line x1="345.42" y1="442.40" x2="345.42" y2="444.00" stroke="#222" stroke-width="0.6"/>
<text x="0" y="0" font-size="5.9" fill="#2a2a2a" text-anchor="end" transform="translate(347.52,445.6) rotate(-90)">Apoc2</text>
<circle cx="355.82" cy="365.90" r="2.50" fill="#DAE9F1"/>
<circle cx="355.82" cy="373.87" r="3.25" fill="#FADA92"/>
<circle cx="355.82" cy="381.83" r="3.25" fill="#E36D45"/>
<circle cx="355.82" cy="389.80" r="1.40" fill="#95B9DC"/>
<circle cx="355.82" cy="397.77" r="2.90" fill="#BBD4E8"/>
<circle cx="355.82" cy="405.73" r="3.25" fill="#FBF2BE"/>
<circle cx="355.82" cy="413.70" r="2.10" fill="#95B9DC"/>
<circle cx="355.82" cy="421.67" r="2.50" fill="#FBF2BE"/>
<circle cx="355.82" cy="429.64" r="2.90" fill="#FBF2BE"/>
<circle cx="355.82" cy="437.60" r="2.90" fill="#FBF2BE"/>
<line x1="355.82" y1="442.40" x2="355.82" y2="444.00" stroke="#222" stroke-width="0.6"/>
<text x="0" y="0" font-size="5.9" fill="#2a2a2a" text-anchor="end" transform="translate(357.92,445.6) rotate(-90)">Il1b</text>
<circle cx="366.23" cy="365.90" r="1.75" fill="#EEF2DA"/>
<circle cx="366.23" cy="373.87" r="2.50" fill="#F7C47E"/>
<circle cx="366.23" cy="381.83" r="1.40" fill="#EEF2DA"/>
<circle cx="366.23" cy="389.80" r="2.10" fill="#D2452F"/>
<circle cx="366.23" cy="397.77" r="1.75" fill="#EEF2DA"/>
<circle cx="366.23" cy="405.73" r="1.15" fill="#6E98CE"/>
<circle cx="366.23" cy="413.70" r="2.30" fill="#F7C47E"/>
<circle cx="366.23" cy="421.67" r="1.40" fill="#EEF2DA"/>
<circle cx="366.23" cy="429.64" r="1.15" fill="#6E98CE"/>
<circle cx="366.23" cy="437.60" r="1.40" fill="#DAE9F1"/>
<line x1="366.23" y1="442.40" x2="366.23" y2="444.00" stroke="#222" stroke-width="0.6"/>
<text x="0" y="0" font-size="5.9" fill="#2a2a2a" text-anchor="end" transform="translate(368.33,445.6) rotate(-90)">Il1a</text>
<circle cx="376.64" cy="365.90" r="2.90" fill="#EEF2DA"/>
<circle cx="376.64" cy="373.87" r="3.45" fill="#F0A064"/>
<circle cx="376.64" cy="381.83" r="2.30" fill="#FBF2BE"/>
<circle cx="376.64" cy="389.80" r="2.50" fill="#F7C47E"/>
<circle cx="376.64" cy="397.77" r="2.90" fill="#6E98CE"/>
<circle cx="376.64" cy="405.73" r="3.25" fill="#BBD4E8"/>
<circle cx="376.64" cy="413.70" r="2.90" fill="#EEF2DA"/>
<circle cx="376.64" cy="421.67" r="2.90" fill="#F7C47E"/>
<circle cx="376.64" cy="429.64" r="2.50" fill="#BBD4E8"/>
<circle cx="376.64" cy="437.60" r="2.90" fill="#FBF2BE"/>
<line x1="376.64" y1="442.40" x2="376.64" y2="444.00" stroke="#222" stroke-width="0.6"/>
<text x="0" y="0" font-size="5.9" fill="#2a2a2a" text-anchor="end" transform="translate(378.74,445.6) rotate(-90)">Ifngr2</text>
<circle cx="387.05" cy="365.90" r="3.45" fill="#F0A064"/>
<circle cx="387.05" cy="373.87" r="2.30" fill="#FADA92"/>
<circle cx="387.05" cy="381.83" r="1.15" fill="#6E98CE"/>
<circle cx="387.05" cy="389.80" r="1.75" fill="#DAE9F1"/>
<circle cx="387.05" cy="397.77" r="2.30" fill="#DAE9F1"/>
<circle cx="387.05" cy="405.73" r="2.50" fill="#FADA92"/>
<circle cx="387.05" cy="413.70" r="1.40" fill="#6E98CE"/>
<circle cx="387.05" cy="421.67" r="1.75" fill="#EEF2DA"/>
<circle cx="387.05" cy="429.64" r="2.30" fill="#FBF2BE"/>
<circle cx="387.05" cy="437.60" r="3.45" fill="#E36D45"/>
<line x1="387.05" y1="442.40" x2="387.05" y2="444.00" stroke="#222" stroke-width="0.6"/>
<text x="0" y="0" font-size="5.9" fill="#2a2a2a" text-anchor="end" transform="translate(389.15,445.6) rotate(-90)">Cxcl9</text>
<circle cx="397.45" cy="365.90" r="3.70" fill="#F7C47E"/>
<circle cx="397.45" cy="373.87" r="3.60" fill="#FBF2BE"/>
<circle cx="397.45" cy="381.83" r="3.60" fill="#DAE9F1"/>
<circle cx="397.45" cy="389.80" r="3.60" fill="#95B9DC"/>
<circle cx="397.45" cy="397.77" r="3.70" fill="#DAE9F1"/>
<circle cx="397.45" cy="405.73" r="3.70" fill="#FBF2BE"/>
<circle cx="397.45" cy="413.70" r="3.70" fill="#95B9DC"/>
<circle cx="397.45" cy="421.67" r="3.60" fill="#EEF2DA"/>
<circle cx="397.45" cy="429.64" r="3.70" fill="#FBF2BE"/>
<circle cx="397.45" cy="437.60" r="3.80" fill="#E36D45"/>
<line x1="397.45" y1="442.40" x2="397.45" y2="444.00" stroke="#222" stroke-width="0.6"/>
<text x="0" y="0" font-size="5.9" fill="#2a2a2a" text-anchor="end" transform="translate(399.55,445.6) rotate(-90)">H2−Eb1</text>
<circle cx="407.86" cy="365.90" r="3.80" fill="#F7C47E"/>
<circle cx="407.86" cy="373.87" r="3.70" fill="#FBF2BE"/>
<circle cx="407.86" cy="381.83" r="3.70" fill="#DAE9F1"/>
<circle cx="407.86" cy="389.80" r="3.70" fill="#95B9DC"/>
<circle cx="407.86" cy="397.77" r="3.80" fill="#DAE9F1"/>
<circle cx="407.86" cy="405.73" r="3.80" fill="#FBF2BE"/>
<circle cx="407.86" cy="413.70" r="3.80" fill="#95B9DC"/>
<circle cx="407.86" cy="421.67" r="3.70" fill="#FBF2BE"/>
<circle cx="407.86" cy="429.64" r="3.70" fill="#FBF2BE"/>
<circle cx="407.86" cy="437.60" r="3.80" fill="#E36D45"/>
<line x1="407.86" y1="442.40" x2="407.86" y2="444.00" stroke="#222" stroke-width="0.6"/>
<text x="0" y="0" font-size="5.9" fill="#2a2a2a" text-anchor="end" transform="translate(409.96,445.6) rotate(-90)">H2−Ab1</text>
<circle cx="418.27" cy="365.90" r="0.40" fill="#EEF2DA"/>
<circle cx="418.27" cy="373.87" r="0.40" fill="#EEF2DA"/>
<circle cx="418.27" cy="381.83" r="0.40" fill="#EEF2DA"/>
<circle cx="418.27" cy="389.80" r="0.40" fill="#EEF2DA"/>
<circle cx="418.27" cy="397.77" r="3.45" fill="#F7C47E"/>
<circle cx="418.27" cy="405.73" r="3.60" fill="#F7C47E"/>
<circle cx="418.27" cy="413.70" r="3.45" fill="#F0A064"/>
<circle cx="418.27" cy="421.67" r="0.40" fill="#EEF2DA"/>
<circle cx="418.27" cy="429.64" r="3.25" fill="#FADA92"/>
<circle cx="418.27" cy="437.60" r="0.40" fill="#EEF2DA"/>
<line x1="418.27" y1="442.40" x2="418.27" y2="444.00" stroke="#222" stroke-width="0.6"/>
<text x="0" y="0" font-size="5.9" fill="#2a2a2a" text-anchor="end" transform="translate(420.37,445.6) rotate(-90)">Cd3g</text>
<circle cx="428.67" cy="365.90" r="0.40" fill="#EEF2DA"/>
<circle cx="428.67" cy="373.87" r="0.40" fill="#EEF2DA"/>
<circle cx="428.67" cy="381.83" r="0.40" fill="#EEF2DA"/>
<circle cx="428.67" cy="389.80" r="0.40" fill="#EEF2DA"/>
<circle cx="428.67" cy="397.77" r="3.25" fill="#F7C47E"/>
<circle cx="428.67" cy="405.73" r="3.45" fill="#F0A064"/>
<circle cx="428.67" cy="413.70" r="3.25" fill="#F0A064"/>
<circle cx="428.67" cy="421.67" r="0.40" fill="#EEF2DA"/>
<circle cx="428.67" cy="429.64" r="2.90" fill="#FADA92"/>
<circle cx="428.67" cy="437.60" r="0.40" fill="#EEF2DA"/>
<line x1="428.67" y1="442.40" x2="428.67" y2="444.00" stroke="#222" stroke-width="0.6"/>
<text x="0" y="0" font-size="5.9" fill="#2a2a2a" text-anchor="end" transform="translate(430.77,445.6) rotate(-90)">Cd3d</text>
<circle cx="439.08" cy="365.90" r="0.40" fill="#EEF2DA"/>
<circle cx="439.08" cy="373.87" r="0.40" fill="#EEF2DA"/>
<circle cx="439.08" cy="381.83" r="0.40" fill="#EEF2DA"/>
<circle cx="439.08" cy="389.80" r="0.40" fill="#EEF2DA"/>
<circle cx="439.08" cy="397.77" r="0.90" fill="#FBF2BE"/>
<circle cx="439.08" cy="405.73" r="2.50" fill="#C4352B"/>
<circle cx="439.08" cy="413.70" r="0.90" fill="#FBF2BE"/>
<circle cx="439.08" cy="421.67" r="0.40" fill="#EEF2DA"/>
<circle cx="439.08" cy="429.64" r="0.40" fill="#EEF2DA"/>
<circle cx="439.08" cy="437.60" r="0.40" fill="#EEF2DA"/>
<line x1="439.08" y1="442.40" x2="439.08" y2="444.00" stroke="#222" stroke-width="0.6"/>
<text x="0" y="0" font-size="5.9" fill="#2a2a2a" text-anchor="end" transform="translate(441.18,445.6) rotate(-90)">Cd4</text>
<circle cx="449.49" cy="365.90" r="0.40" fill="#EEF2DA"/>
<circle cx="449.49" cy="373.87" r="0.40" fill="#EEF2DA"/>
<circle cx="449.49" cy="381.83" r="0.40" fill="#EEF2DA"/>
<circle cx="449.49" cy="389.80" r="0.40" fill="#EEF2DA"/>
<circle cx="449.49" cy="397.77" r="2.50" fill="#F0A064"/>
<circle cx="449.49" cy="405.73" r="0.90" fill="#FBF2BE"/>
<circle cx="449.49" cy="413.70" r="2.10" fill="#F0A064"/>
<circle cx="449.49" cy="421.67" r="0.40" fill="#EEF2DA"/>
<circle cx="449.49" cy="429.64" r="2.50" fill="#F0A064"/>
<circle cx="449.49" cy="437.60" r="0.40" fill="#EEF2DA"/>
<line x1="449.49" y1="442.40" x2="449.49" y2="444.00" stroke="#222" stroke-width="0.6"/>
<text x="0" y="0" font-size="5.9" fill="#2a2a2a" text-anchor="end" transform="translate(451.59,445.6) rotate(-90)">Cd8a</text>
<line x1="69.20" y1="358.50" x2="69.20" y2="465.00" stroke="#222" stroke-width="0.75" stroke-dasharray="1.3 1.1"/>
<line x1="267.20" y1="358.50" x2="267.20" y2="465.00" stroke="#222" stroke-width="0.75" stroke-dasharray="1.3 1.1"/>
<line x1="413.10" y1="358.50" x2="413.10" y2="465.00" stroke="#222" stroke-width="0.75" stroke-dasharray="1.3 1.1"/>
<line x1="21.50" y1="471.40" x2="63.30" y2="471.40" stroke="#333" stroke-width="0.6"/>
<text x="42.50" y="482.60" font-size="7.6" text-anchor="middle" font-weight="normal" font-style="normal" fill="#222" >Lineage</text>
<line x1="72.70" y1="471.40" x2="261.50" y2="471.40" stroke="#333" stroke-width="0.6"/>
<text x="168.00" y="482.60" font-size="7.6" text-anchor="middle" font-weight="normal" font-style="normal" fill="#222" >Pro-tumorigenic (M1)</text>
<line x1="272.00" y1="471.40" x2="408.00" y2="471.40" stroke="#333" stroke-width="0.6"/>
<text x="337.50" y="482.60" font-size="7.6" text-anchor="middle" font-weight="normal" font-style="normal" fill="#222" >Anti-tumorigenic (M2)</text>
<line x1="417.70" y1="471.40" x2="451.40" y2="471.40" stroke="#333" stroke-width="0.6"/>
<text x="435.60" y="482.60" font-size="7.6" text-anchor="middle" font-weight="normal" font-style="normal" fill="#222" >Differentiation</text>
<text x="462.00" y="358.30" font-size="6.2" text-anchor="start" font-weight="normal" font-style="normal" fill="#222" >Percent Expressed</text>
<circle cx="467.5" cy="365" r="0.4" fill="#000"/>
<text x="475.50" y="367.20" font-size="6.2" text-anchor="start" font-weight="normal" font-style="normal" fill="#222" >0</text>
<circle cx="467.5" cy="372.3" r="1.3" fill="#000"/>
<text x="475.50" y="374.50" font-size="6.2" text-anchor="start" font-weight="normal" font-style="normal" fill="#222" >25</text>
<circle cx="467.5" cy="379.3" r="2.05" fill="#000"/>
<text x="475.50" y="381.50" font-size="6.2" text-anchor="start" font-weight="normal" font-style="normal" fill="#222" >50</text>
<circle cx="467.5" cy="386.5" r="2.7" fill="#000"/>
<text x="475.50" y="388.70" font-size="6.2" text-anchor="start" font-weight="normal" font-style="normal" fill="#222" >75</text>
<circle cx="467.5" cy="395.6" r="3.65" fill="#000"/>
<text x="475.50" y="397.80" font-size="6.2" text-anchor="start" font-weight="normal" font-style="normal" fill="#222" >100</text>
<text x="462.00" y="412.70" font-size="6.2" text-anchor="start" font-weight="normal" font-style="normal" fill="#222" >Average Expression</text>
<defs><linearGradient id="eg" x1="0" x2="0" y1="0" y2="1"><stop offset="0" stop-color="#C4352B"/><stop offset="0.2" stop-color="#EE8050"/><stop offset="0.38" stop-color="#FBD08A"/><stop offset="0.55" stop-color="#FDF6C0"/><stop offset="0.72" stop-color="#CFE3EF"/><stop offset="1" stop-color="#4672B8"/></linearGradient></defs>
<rect x="462" y="415.4" width="7" height="35" fill="url(#eg)"/>
<line x1="462.00" y1="420.00" x2="463.30" y2="420.00" stroke="#fff" stroke-width="0.5"/>
<line x1="467.70" y1="420.00" x2="469.00" y2="420.00" stroke="#fff" stroke-width="0.5"/>
<text x="471.30" y="422.10" font-size="6.2" text-anchor="start" font-weight="normal" font-style="normal" fill="#222" >2</text>
<line x1="462.00" y1="427.20" x2="463.30" y2="427.20" stroke="#fff" stroke-width="0.5"/>
<line x1="467.70" y1="427.20" x2="469.00" y2="427.20" stroke="#fff" stroke-width="0.5"/>
<text x="471.30" y="429.30" font-size="6.2" text-anchor="start" font-weight="normal" font-style="normal" fill="#222" >1</text>
<line x1="462.00" y1="434.80" x2="463.30" y2="434.80" stroke="#fff" stroke-width="0.5"/>
<line x1="467.70" y1="434.80" x2="469.00" y2="434.80" stroke="#fff" stroke-width="0.5"/>
<text x="471.30" y="436.90" font-size="6.2" text-anchor="start" font-weight="normal" font-style="normal" fill="#222" >0</text>
<line x1="462.00" y1="442.30" x2="463.30" y2="442.30" stroke="#fff" stroke-width="0.5"/>
<line x1="467.70" y1="442.30" x2="469.00" y2="442.30" stroke="#fff" stroke-width="0.5"/>
<text x="471.30" y="444.40" font-size="6.2" text-anchor="start" font-weight="normal" font-style="normal" fill="#222" >−1</text>
<line x1="462.00" y1="449.20" x2="463.30" y2="449.20" stroke="#fff" stroke-width="0.5"/>
<line x1="467.70" y1="449.20" x2="469.00" y2="449.20" stroke="#fff" stroke-width="0.5"/>
<text x="471.30" y="451.30" font-size="6.2" text-anchor="start" font-weight="normal" font-style="normal" fill="#222" >−2</text>
<text x="2.60" y="515.60" font-size="10.8" text-anchor="start" font-weight="bold" font-style="normal" fill="#000" >F</text>
<line x1="57.40" y1="523.70" x2="57.40" y2="594.30" stroke="#222" stroke-width="0.7"/>
<line x1="57.40" y1="594.30" x2="396.00" y2="594.30" stroke="#222" stroke-width="0.7"/>
<line x1="55.90" y1="534.10" x2="57.40" y2="534.10" stroke="#222" stroke-width="0.6"/>
<line x1="55.90" y1="551.00" x2="57.40" y2="551.00" stroke="#222" stroke-width="0.6"/>
<line x1="55.90" y1="567.70" x2="57.40" y2="567.70" stroke="#222" stroke-width="0.6"/>
<line x1="55.90" y1="584.50" x2="57.40" y2="584.50" stroke="#222" stroke-width="0.6"/>
<text x="49.8" y="537.1" font-size="7.8" fill="#111" text-anchor="end">28.<tspan font-style="italic">mζ</tspan></text>
<text x="49.8" y="554.0" font-size="7.8" fill="#111" text-anchor="end">BBL-28.<tspan font-style="italic">mζ</tspan></text>
<text x="49.8" y="571.2" font-size="7.8" fill="#111" text-anchor="end"><tspan font-size="5" dy="-3.2">CD8tm</tspan><tspan dy="3.2">BB.</tspan><tspan font-style="italic">ζ</tspan></text>
<text x="49.8" y="587.5" font-size="7.8" fill="#111" text-anchor="end">Ctrl</text>
<circle cx="63.30" cy="534.10" r="3.45" fill="#6E98CE"/>
<circle cx="63.30" cy="551.00" r="3.30" fill="#FBF2BE"/>
<circle cx="63.30" cy="567.70" r="3.30" fill="#FBF2BE"/>
<circle cx="63.30" cy="584.50" r="3.45" fill="#E36D45"/>
<line x1="63.30" y1="594.30" x2="63.30" y2="595.80" stroke="#222" stroke-width="0.6"/>
<text x="0" y="0" font-size="5.4" fill="#2a2a2a" text-anchor="end" transform="translate(65.20,596.8) rotate(-90)">Cd74</text>
<circle cx="72.48" cy="534.10" r="2.15" fill="#BBD4E8"/>
<circle cx="72.48" cy="551.00" r="2.40" fill="#FADA92"/>
<circle cx="72.48" cy="567.70" r="2.15" fill="#95B9DC"/>
<circle cx="72.48" cy="584.50" r="2.15" fill="#E36D45"/>
<line x1="72.48" y1="594.30" x2="72.48" y2="595.80" stroke="#222" stroke-width="0.6"/>
<text x="0" y="0" font-size="5.4" fill="#2a2a2a" text-anchor="end" transform="translate(74.38,596.8) rotate(-90)">Ccl4</text>
<circle cx="81.66" cy="534.10" r="3.00" fill="#FBF2BE"/>
<circle cx="81.66" cy="551.00" r="3.00" fill="#6E98CE"/>
<circle cx="81.66" cy="567.70" r="3.00" fill="#FBF2BE"/>
<circle cx="81.66" cy="584.50" r="3.30" fill="#D2452F"/>
<line x1="81.66" y1="594.30" x2="81.66" y2="595.80" stroke="#222" stroke-width="0.6"/>
<text x="0" y="0" font-size="5.4" fill="#2a2a2a" text-anchor="end" transform="translate(83.56,596.8) rotate(-90)">Cxcl16</text>
<circle cx="90.83" cy="534.10" r="3.00" fill="#DAE9F1"/>
<circle cx="90.83" cy="551.00" r="2.60" fill="#6E98CE"/>
<circle cx="90.83" cy="567.70" r="3.00" fill="#F0A064"/>
<circle cx="90.83" cy="584.50" r="3.00" fill="#F0A064"/>
<line x1="90.83" y1="594.30" x2="90.83" y2="595.80" stroke="#222" stroke-width="0.6"/>
<text x="0" y="0" font-size="5.4" fill="#2a2a2a" text-anchor="end" transform="translate(92.73,596.8) rotate(-90)">Lgals3</text>
<circle cx="100.01" cy="534.10" r="3.30" fill="#E36D45"/>
<circle cx="100.01" cy="551.00" r="3.00" fill="#FBF2BE"/>
<circle cx="100.01" cy="567.70" r="3.30" fill="#4672B8"/>
<circle cx="100.01" cy="584.50" r="3.00" fill="#FADA92"/>
<line x1="100.01" y1="594.30" x2="100.01" y2="595.80" stroke="#222" stroke-width="0.6"/>
<text x="0" y="0" font-size="5.4" fill="#2a2a2a" text-anchor="end" transform="translate(101.91,596.8) rotate(-90)">Mif</text>
<circle cx="109.19" cy="534.10" r="3.45" fill="#F7C47E"/>
<circle cx="109.19" cy="551.00" r="3.30" fill="#EEF2DA"/>
<circle cx="109.19" cy="567.70" r="3.45" fill="#E36D45"/>
<circle cx="109.19" cy="584.50" r="3.30" fill="#6E98CE"/>
<line x1="109.19" y1="594.30" x2="109.19" y2="595.80" stroke="#222" stroke-width="0.6"/>
<text x="0" y="0" font-size="5.4" fill="#2a2a2a" text-anchor="end" transform="translate(111.09,596.8) rotate(-90)">Apoe</text>
<circle cx="118.37" cy="534.10" r="3.00" fill="#F7C47E"/>
<circle cx="118.37" cy="551.00" r="2.75" fill="#E36D45"/>
<circle cx="118.37" cy="567.70" r="2.75" fill="#EEF2DA"/>
<circle cx="118.37" cy="584.50" r="2.60" fill="#4672B8"/>
<line x1="118.37" y1="594.30" x2="118.37" y2="595.80" stroke="#222" stroke-width="0.6"/>
<text x="0" y="0" font-size="5.4" fill="#2a2a2a" text-anchor="end" transform="translate(120.27,596.8) rotate(-90)">Id2</text>
<circle cx="127.55" cy="534.10" r="2.75" fill="#F0A064"/>
<circle cx="127.55" cy="551.00" r="2.60" fill="#F0A064"/>
<circle cx="127.55" cy="567.70" r="2.60" fill="#6E98CE"/>
<circle cx="127.55" cy="584.50" r="2.60" fill="#DAE9F1"/>
<line x1="127.55" y1="594.30" x2="127.55" y2="595.80" stroke="#222" stroke-width="0.6"/>
<text x="0" y="0" font-size="5.4" fill="#2a2a2a" text-anchor="end" transform="translate(129.45,596.8) rotate(-90)">Stat3</text>
<circle cx="136.72" cy="534.10" r="1.90" fill="#D2452F"/>
<circle cx="136.72" cy="551.00" r="1.75" fill="#FBF2BE"/>
<circle cx="136.72" cy="567.70" r="1.75" fill="#95B9DC"/>
<circle cx="136.72" cy="584.50" r="1.75" fill="#DAE9F1"/>
<line x1="136.72" y1="594.30" x2="136.72" y2="595.80" stroke="#222" stroke-width="0.6"/>
<text x="0" y="0" font-size="5.4" fill="#2a2a2a" text-anchor="end" transform="translate(138.62,596.8) rotate(-90)">Stat6</text>
<circle cx="145.90" cy="534.10" r="3.00" fill="#EEF2DA"/>
<circle cx="145.90" cy="551.00" r="3.00" fill="#FADA92"/>
<circle cx="145.90" cy="567.70" r="3.30" fill="#E36D45"/>
<circle cx="145.90" cy="584.50" r="2.60" fill="#6E98CE"/>
<line x1="145.90" y1="594.30" x2="145.90" y2="595.80" stroke="#222" stroke-width="0.6"/>
<text x="0" y="0" font-size="5.4" fill="#2a2a2a" text-anchor="end" transform="translate(147.80,596.8) rotate(-90)">Mt1</text>
<circle cx="155.08" cy="534.10" r="3.65" fill="#C4352B"/>
<circle cx="155.08" cy="551.00" r="3.45" fill="#FBF2BE"/>
<circle cx="155.08" cy="567.70" r="3.45" fill="#DAE9F1"/>
<circle cx="155.08" cy="584.50" r="3.45" fill="#BBD4E8"/>
<line x1="155.08" y1="594.30" x2="155.08" y2="595.80" stroke="#222" stroke-width="0.6"/>
<text x="0" y="0" font-size="5.4" fill="#2a2a2a" text-anchor="end" transform="translate(156.98,596.8) rotate(-90)">Ctsb</text>
<circle cx="164.26" cy="534.10" r="3.45" fill="#C4352B"/>
<circle cx="164.26" cy="551.00" r="3.45" fill="#EEF2DA"/>
<circle cx="164.26" cy="567.70" r="3.45" fill="#DAE9F1"/>
<circle cx="164.26" cy="584.50" r="3.30" fill="#BBD4E8"/>
<line x1="164.26" y1="594.30" x2="164.26" y2="595.80" stroke="#222" stroke-width="0.6"/>
<text x="0" y="0" font-size="5.4" fill="#2a2a2a" text-anchor="end" transform="translate(166.16,596.8) rotate(-90)">Ctsd</text>
<circle cx="173.44" cy="534.10" r="1.30" fill="#95B9DC"/>
<circle cx="173.44" cy="551.00" r="1.55" fill="#FBF2BE"/>
<circle cx="173.44" cy="567.70" r="1.05" fill="#95B9DC"/>
<circle cx="173.44" cy="584.50" r="1.90" fill="#D2452F"/>
<line x1="173.44" y1="594.30" x2="173.44" y2="595.80" stroke="#222" stroke-width="0.6"/>
<text x="0" y="0" font-size="5.4" fill="#2a2a2a" text-anchor="end" transform="translate(175.34,596.8) rotate(-90)">Cxcl10</text>
<circle cx="182.61" cy="534.10" r="1.75" fill="#95B9DC"/>
<circle cx="182.61" cy="551.00" r="1.90" fill="#FBF2BE"/>
<circle cx="182.61" cy="567.70" r="1.75" fill="#DAE9F1"/>
<circle cx="182.61" cy="584.50" r="2.60" fill="#D2452F"/>
<line x1="182.61" y1="594.30" x2="182.61" y2="595.80" stroke="#222" stroke-width="0.6"/>
<text x="0" y="0" font-size="5.4" fill="#2a2a2a" text-anchor="end" transform="translate(184.51,596.8) rotate(-90)">Cxcl9</text>
<circle cx="191.79" cy="534.10" r="3.00" fill="#E36D45"/>
<circle cx="191.79" cy="551.00" r="2.60" fill="#EEF2DA"/>
<circle cx="191.79" cy="567.70" r="2.75" fill="#6E98CE"/>
<circle cx="191.79" cy="584.50" r="2.75" fill="#FADA92"/>
<line x1="191.79" y1="594.30" x2="191.79" y2="595.80" stroke="#222" stroke-width="0.6"/>
<text x="0" y="0" font-size="5.4" fill="#2a2a2a" text-anchor="end" transform="translate(193.69,596.8) rotate(-90)">Ccr5</text>
<circle cx="200.97" cy="534.10" r="2.15" fill="#4672B8"/>
<circle cx="200.97" cy="551.00" r="2.40" fill="#FADA92"/>
<circle cx="200.97" cy="567.70" r="2.40" fill="#FADA92"/>
<circle cx="200.97" cy="584.50" r="2.40" fill="#F7C47E"/>
<line x1="200.97" y1="594.30" x2="200.97" y2="595.80" stroke="#222" stroke-width="0.6"/>
<text x="0" y="0" font-size="5.4" fill="#2a2a2a" text-anchor="end" transform="translate(202.87,596.8) rotate(-90)">Ccl5</text>
<circle cx="210.15" cy="534.10" r="3.45" fill="#BBD4E8"/>
<circle cx="210.15" cy="551.00" r="3.30" fill="#DAE9F1"/>
<circle cx="210.15" cy="567.70" r="3.30" fill="#EEF2DA"/>
<circle cx="210.15" cy="584.50" r="3.65" fill="#C4352B"/>
<line x1="210.15" y1="594.30" x2="210.15" y2="595.80" stroke="#222" stroke-width="0.6"/>
<text x="0" y="0" font-size="5.4" fill="#2a2a2a" text-anchor="end" transform="translate(212.05,596.8) rotate(-90)">H2−Ab1</text>
<circle cx="219.33" cy="534.10" r="3.45" fill="#95B9DC"/>
<circle cx="219.33" cy="551.00" r="3.30" fill="#DAE9F1"/>
<circle cx="219.33" cy="567.70" r="3.30" fill="#FBF2BE"/>
<circle cx="219.33" cy="584.50" r="3.65" fill="#D2452F"/>
<line x1="219.33" y1="594.30" x2="219.33" y2="595.80" stroke="#222" stroke-width="0.6"/>
<text x="0" y="0" font-size="5.4" fill="#2a2a2a" text-anchor="end" transform="translate(221.23,596.8) rotate(-90)">H2−Eb1</text>
<circle cx="228.50" cy="534.10" r="3.45" fill="#BBD4E8"/>
<circle cx="228.50" cy="551.00" r="3.30" fill="#EEF2DA"/>
<circle cx="228.50" cy="567.70" r="3.30" fill="#EEF2DA"/>
<circle cx="228.50" cy="584.50" r="3.65" fill="#C4352B"/>
<line x1="228.50" y1="594.30" x2="228.50" y2="595.80" stroke="#222" stroke-width="0.6"/>
<text x="0" y="0" font-size="5.4" fill="#2a2a2a" text-anchor="end" transform="translate(230.40,596.8) rotate(-90)">H2−Aa</text>
<circle cx="237.68" cy="534.10" r="2.40" fill="#FBF2BE"/>
<circle cx="237.68" cy="551.00" r="1.75" fill="#95B9DC"/>
<circle cx="237.68" cy="567.70" r="2.40" fill="#DAE9F1"/>
<circle cx="237.68" cy="584.50" r="3.00" fill="#D2452F"/>
<line x1="237.68" y1="594.30" x2="237.68" y2="595.80" stroke="#222" stroke-width="0.6"/>
<text x="0" y="0" font-size="5.4" fill="#2a2a2a" text-anchor="end" transform="translate(239.58,596.8) rotate(-90)">Irf7</text>
<circle cx="246.86" cy="534.10" r="2.15" fill="#EEF2DA"/>
<circle cx="246.86" cy="551.00" r="2.15" fill="#BBD4E8"/>
<circle cx="246.86" cy="567.70" r="2.40" fill="#EEF2DA"/>
<circle cx="246.86" cy="584.50" r="3.00" fill="#C4352B"/>
<line x1="246.86" y1="594.30" x2="246.86" y2="595.80" stroke="#222" stroke-width="0.6"/>
<text x="0" y="0" font-size="5.4" fill="#2a2a2a" text-anchor="end" transform="translate(248.76,596.8) rotate(-90)">Il1b</text>
<circle cx="256.04" cy="534.10" r="2.40" fill="#6E98CE"/>
<circle cx="256.04" cy="551.00" r="2.40" fill="#F7C47E"/>
<circle cx="256.04" cy="567.70" r="2.75" fill="#DAE9F1"/>
<circle cx="256.04" cy="584.50" r="2.60" fill="#E36D45"/>
<line x1="256.04" y1="594.30" x2="256.04" y2="595.80" stroke="#222" stroke-width="0.6"/>
<text x="0" y="0" font-size="5.4" fill="#2a2a2a" text-anchor="end" transform="translate(257.94,596.8) rotate(-90)">Cd86</text>
<circle cx="265.22" cy="534.10" r="3.30" fill="#F7C47E"/>
<circle cx="265.22" cy="551.00" r="3.00" fill="#6E98CE"/>
<circle cx="265.22" cy="567.70" r="3.45" fill="#DAE9F1"/>
<circle cx="265.22" cy="584.50" r="3.45" fill="#E36D45"/>
<line x1="265.22" y1="594.30" x2="265.22" y2="595.80" stroke="#222" stroke-width="0.6"/>
<text x="0" y="0" font-size="5.4" fill="#2a2a2a" text-anchor="end" transform="translate(267.12,596.8) rotate(-90)">Lyz2</text>
<circle cx="274.39" cy="534.10" r="1.05" fill="#DAE9F1"/>
<circle cx="274.39" cy="551.00" r="1.30" fill="#EEF2DA"/>
<circle cx="274.39" cy="567.70" r="1.05" fill="#BBD4E8"/>
<circle cx="274.39" cy="584.50" r="1.90" fill="#C4352B"/>
<line x1="274.39" y1="594.30" x2="274.39" y2="595.80" stroke="#222" stroke-width="0.6"/>
<text x="0" y="0" font-size="5.4" fill="#2a2a2a" text-anchor="end" transform="translate(276.29,596.8) rotate(-90)">Socs1</text>
<circle cx="283.57" cy="534.10" r="2.60" fill="#E36D45"/>
<circle cx="283.57" cy="551.00" r="1.90" fill="#DAE9F1"/>
<circle cx="283.57" cy="567.70" r="2.60" fill="#6E98CE"/>
<circle cx="283.57" cy="584.50" r="2.40" fill="#FADA92"/>
<line x1="283.57" y1="594.30" x2="283.57" y2="595.80" stroke="#222" stroke-width="0.6"/>
<text x="0" y="0" font-size="5.4" fill="#2a2a2a" text-anchor="end" transform="translate(285.47,596.8) rotate(-90)">Ifngr2</text>
<circle cx="292.75" cy="534.10" r="2.15" fill="#E36D45"/>
<circle cx="292.75" cy="551.00" r="1.90" fill="#FADA92"/>
<circle cx="292.75" cy="567.70" r="2.15" fill="#EEF2DA"/>
<circle cx="292.75" cy="584.50" r="1.90" fill="#6E98CE"/>
<line x1="292.75" y1="594.30" x2="292.75" y2="595.80" stroke="#222" stroke-width="0.6"/>
<text x="0" y="0" font-size="5.4" fill="#2a2a2a" text-anchor="end" transform="translate(294.65,596.8) rotate(-90)">Il18bp</text>
<circle cx="301.93" cy="534.10" r="2.40" fill="#D2452F"/>
<circle cx="301.93" cy="551.00" r="2.15" fill="#EEF2DA"/>
<circle cx="301.93" cy="567.70" r="2.40" fill="#EEF2DA"/>
<circle cx="301.93" cy="584.50" r="2.15" fill="#95B9DC"/>
<line x1="301.93" y1="594.30" x2="301.93" y2="595.80" stroke="#222" stroke-width="0.6"/>
<text x="0" y="0" font-size="5.4" fill="#2a2a2a" text-anchor="end" transform="translate(303.83,596.8) rotate(-90)">Ms4a7</text>
<circle cx="311.11" cy="534.10" r="2.60" fill="#D2452F"/>
<circle cx="311.11" cy="551.00" r="2.40" fill="#FADA92"/>
<circle cx="311.11" cy="567.70" r="2.60" fill="#95B9DC"/>
<circle cx="311.11" cy="584.50" r="2.15" fill="#DAE9F1"/>
<line x1="311.11" y1="594.30" x2="311.11" y2="595.80" stroke="#222" stroke-width="0.6"/>
<text x="0" y="0" font-size="5.4" fill="#2a2a2a" text-anchor="end" transform="translate(313.01,596.8) rotate(-90)">Adgre1</text>
<circle cx="320.28" cy="534.10" r="2.25" fill="#EEF2DA"/>
<circle cx="320.28" cy="551.00" r="2.25" fill="#EEF2DA"/>
<circle cx="320.28" cy="567.70" r="2.70" fill="#95B9DC"/>
<circle cx="320.28" cy="584.50" r="2.50" fill="#D2452F"/>
<line x1="320.28" y1="594.30" x2="320.28" y2="595.80" stroke="#222" stroke-width="0.6"/>
<text x="0" y="0" font-size="5.4" fill="#2a2a2a" text-anchor="end" transform="translate(322.18,596.8) rotate(-90)">Msr1</text>
<circle cx="329.46" cy="534.10" r="3.15" fill="#95B9DC"/>
<circle cx="329.46" cy="551.00" r="2.90" fill="#DAE9F1"/>
<circle cx="329.46" cy="567.70" r="3.45" fill="#FBF2BE"/>
<circle cx="329.46" cy="584.50" r="3.45" fill="#E36D45"/>
<line x1="329.46" y1="594.30" x2="329.46" y2="595.80" stroke="#222" stroke-width="0.6"/>
<text x="0" y="0" font-size="5.4" fill="#2a2a2a" text-anchor="end" transform="translate(331.36,596.8) rotate(-90)">Tgfb1</text>
<circle cx="338.64" cy="534.10" r="3.45" fill="#F7C47E"/>
<circle cx="338.64" cy="551.00" r="3.15" fill="#4672B8"/>
<circle cx="338.64" cy="567.70" r="3.60" fill="#F0A064"/>
<circle cx="338.64" cy="584.50" r="3.45" fill="#EEF2DA"/>
<line x1="338.64" y1="594.30" x2="338.64" y2="595.80" stroke="#222" stroke-width="0.6"/>
<text x="0" y="0" font-size="5.4" fill="#2a2a2a" text-anchor="end" transform="translate(340.54,596.8) rotate(-90)">Pkm</text>
<circle cx="347.82" cy="534.10" r="2.90" fill="#FADA92"/>
<circle cx="347.82" cy="551.00" r="2.70" fill="#E36D45"/>
<circle cx="347.82" cy="567.70" r="3.15" fill="#6E98CE"/>
<circle cx="347.82" cy="584.50" r="2.70" fill="#EEF2DA"/>
<line x1="347.82" y1="594.30" x2="347.82" y2="595.80" stroke="#222" stroke-width="0.6"/>
<text x="0" y="0" font-size="5.4" fill="#2a2a2a" text-anchor="end" transform="translate(349.72,596.8) rotate(-90)">Axl</text>
<circle cx="357.00" cy="534.10" r="2.25" fill="#D2452F"/>
<circle cx="357.00" cy="551.00" r="1.10" fill="#FBF2BE"/>
<circle cx="357.00" cy="567.70" r="1.10" fill="#EEF2DA"/>
<circle cx="357.00" cy="584.50" r="0.70" fill="#6E98CE"/>
<line x1="357.00" y1="594.30" x2="357.00" y2="595.80" stroke="#222" stroke-width="0.6"/>
<text x="0" y="0" font-size="5.4" fill="#2a2a2a" text-anchor="end" transform="translate(358.90,596.8) rotate(-90)">Arg1</text>
<circle cx="366.17" cy="534.10" r="2.25" fill="#E36D45"/>
<circle cx="366.17" cy="551.00" r="2.00" fill="#FADA92"/>
<circle cx="366.17" cy="567.70" r="1.80" fill="#EEF2DA"/>
<circle cx="366.17" cy="584.50" r="0.90" fill="#6E98CE"/>
<line x1="366.17" y1="594.30" x2="366.17" y2="595.80" stroke="#222" stroke-width="0.6"/>
<text x="0" y="0" font-size="5.4" fill="#2a2a2a" text-anchor="end" transform="translate(368.07,596.8) rotate(-90)">Mrc1</text>
<circle cx="375.35" cy="534.10" r="2.90" fill="#D2452F"/>
<circle cx="375.35" cy="551.00" r="2.50" fill="#EEF2DA"/>
<circle cx="375.35" cy="567.70" r="2.90" fill="#FBF2BE"/>
<circle cx="375.35" cy="584.50" r="2.50" fill="#95B9DC"/>
<line x1="375.35" y1="594.30" x2="375.35" y2="595.80" stroke="#222" stroke-width="0.6"/>
<text x="0" y="0" font-size="5.4" fill="#2a2a2a" text-anchor="end" transform="translate(377.25,596.8) rotate(-90)">Il4ra</text>
<circle cx="384.53" cy="534.10" r="2.00" fill="#C4352B"/>
<circle cx="384.53" cy="551.00" r="1.65" fill="#FBF2BE"/>
<circle cx="384.53" cy="567.70" r="1.80" fill="#BBD4E8"/>
<circle cx="384.53" cy="584.50" r="1.65" fill="#DAE9F1"/>
<line x1="384.53" y1="594.30" x2="384.53" y2="595.80" stroke="#222" stroke-width="0.6"/>
<text x="0" y="0" font-size="5.4" fill="#2a2a2a" text-anchor="end" transform="translate(386.43,596.8) rotate(-90)">Il13ra1</text>
<circle cx="393.71" cy="534.10" r="3.15" fill="#E36D45"/>
<circle cx="393.71" cy="551.00" r="2.70" fill="#FBF2BE"/>
<circle cx="393.71" cy="567.70" r="2.90" fill="#6E98CE"/>
<circle cx="393.71" cy="584.50" r="2.90" fill="#FADA92"/>
<line x1="393.71" y1="594.30" x2="393.71" y2="595.80" stroke="#222" stroke-width="0.6"/>
<text x="0" y="0" font-size="5.4" fill="#2a2a2a" text-anchor="end" transform="translate(395.61,596.8) rotate(-90)">Hif1a</text>
<line x1="141.00" y1="523.50" x2="141.00" y2="616.50" stroke="#222" stroke-width="0.75" stroke-dasharray="1.3 1.1"/>
<line x1="169.50" y1="523.50" x2="169.50" y2="616.50" stroke="#222" stroke-width="0.75" stroke-dasharray="1.3 1.1"/>
<line x1="205.60" y1="523.50" x2="205.60" y2="616.50" stroke="#222" stroke-width="0.75" stroke-dasharray="1.3 1.1"/>
<line x1="316.00" y1="523.50" x2="316.00" y2="616.50" stroke="#222" stroke-width="0.75" stroke-dasharray="1.3 1.1"/>
<line x1="60.60" y1="619.20" x2="137.00" y2="619.20" stroke="#333" stroke-width="0.6"/>
<text x="98.80" y="628.40" font-size="6.6" text-anchor="middle" font-weight="normal" font-style="normal" fill="#222" >Immunosuppression</text>
<line x1="147.00" y1="619.20" x2="168.50" y2="619.20" stroke="#333" stroke-width="0.6"/>
<text x="156.30" y="628.40" font-size="6.6" text-anchor="middle" font-weight="normal" font-style="normal" fill="#222" >Invasion</text>
<line x1="175.00" y1="619.20" x2="202.00" y2="619.20" stroke="#333" stroke-width="0.6"/>
<text x="188.70" y="628.40" font-size="6.6" text-anchor="middle" font-weight="normal" font-style="normal" fill="#222" >Recruit</text>
<line x1="206.00" y1="619.20" x2="310.60" y2="619.20" stroke="#333" stroke-width="0.6"/>
<text x="258.30" y="628.40" font-size="6.6" text-anchor="middle" font-weight="normal" font-style="normal" fill="#222" >M1-like</text>
<line x1="320.50" y1="619.20" x2="396.00" y2="619.20" stroke="#333" stroke-width="0.6"/>
<text x="360.80" y="628.40" font-size="6.6" text-anchor="middle" font-weight="normal" font-style="normal" fill="#222" >M2-like</text>
<text x="188.70" y="636.40" font-size="6.6" text-anchor="middle" font-weight="normal" font-style="normal" fill="#222" >ment</text>
<text x="405.00" y="521.00" font-size="5.6" text-anchor="start" font-weight="normal" font-style="normal" fill="#222" >Percent Expressed</text>
<circle cx="409.5" cy="527" r="0.35" fill="#000"/>
<text x="416.70" y="528.80" font-size="5.2" text-anchor="start" font-weight="normal" font-style="normal" fill="#222" >0</text>
<circle cx="409.5" cy="533.3" r="1.05" fill="#000"/>
<text x="416.70" y="535.10" font-size="5.2" text-anchor="start" font-weight="normal" font-style="normal" fill="#222" >25</text>
<circle cx="409.5" cy="539.6" r="1.8" fill="#000"/>
<text x="416.70" y="541.40" font-size="5.2" text-anchor="start" font-weight="normal" font-style="normal" fill="#222" >50</text>
<circle cx="409.5" cy="546.2" r="2.55" fill="#000"/>
<text x="416.70" y="548.00" font-size="5.2" text-anchor="start" font-weight="normal" font-style="normal" fill="#222" >75</text>
<circle cx="409.5" cy="554.1" r="3.6" fill="#000"/>
<text x="416.70" y="555.90" font-size="5.2" text-anchor="start" font-weight="normal" font-style="normal" fill="#222" >100</text>
<text x="405.00" y="568.40" font-size="5.6" text-anchor="start" font-weight="normal" font-style="normal" fill="#222" >Average Expression</text>
<defs><linearGradient id="fg" x1="0" x2="0" y1="0" y2="1"><stop offset="0" stop-color="#C4352B"/><stop offset="0.25" stop-color="#EE8A55"/><stop offset="0.45" stop-color="#FCE4A0"/><stop offset="0.6" stop-color="#FAF8E6"/><stop offset="0.78" stop-color="#BCD4EA"/><stop offset="1" stop-color="#4672B8"/></linearGradient></defs>
<rect x="405" y="572.2" width="6" height="28.8" fill="url(#fg)"/>
<text x="413.20" y="577.80" font-size="5.0" text-anchor="start" font-weight="normal" font-style="normal" fill="#222" >1.0</text>
<text x="413.20" y="583.50" font-size="5.0" text-anchor="start" font-weight="normal" font-style="normal" fill="#222" >0.5</text>
<text x="413.20" y="588.80" font-size="5.0" text-anchor="start" font-weight="normal" font-style="normal" fill="#222" >0.0</text>
<text x="413.20" y="593.60" font-size="5.0" text-anchor="start" font-weight="normal" font-style="normal" fill="#222" >−0.5</text>
<text x="413.20" y="598.50" font-size="5.0" text-anchor="start" font-weight="normal" font-style="normal" fill="#222" >−1.0</text>
</svg></body></html>
